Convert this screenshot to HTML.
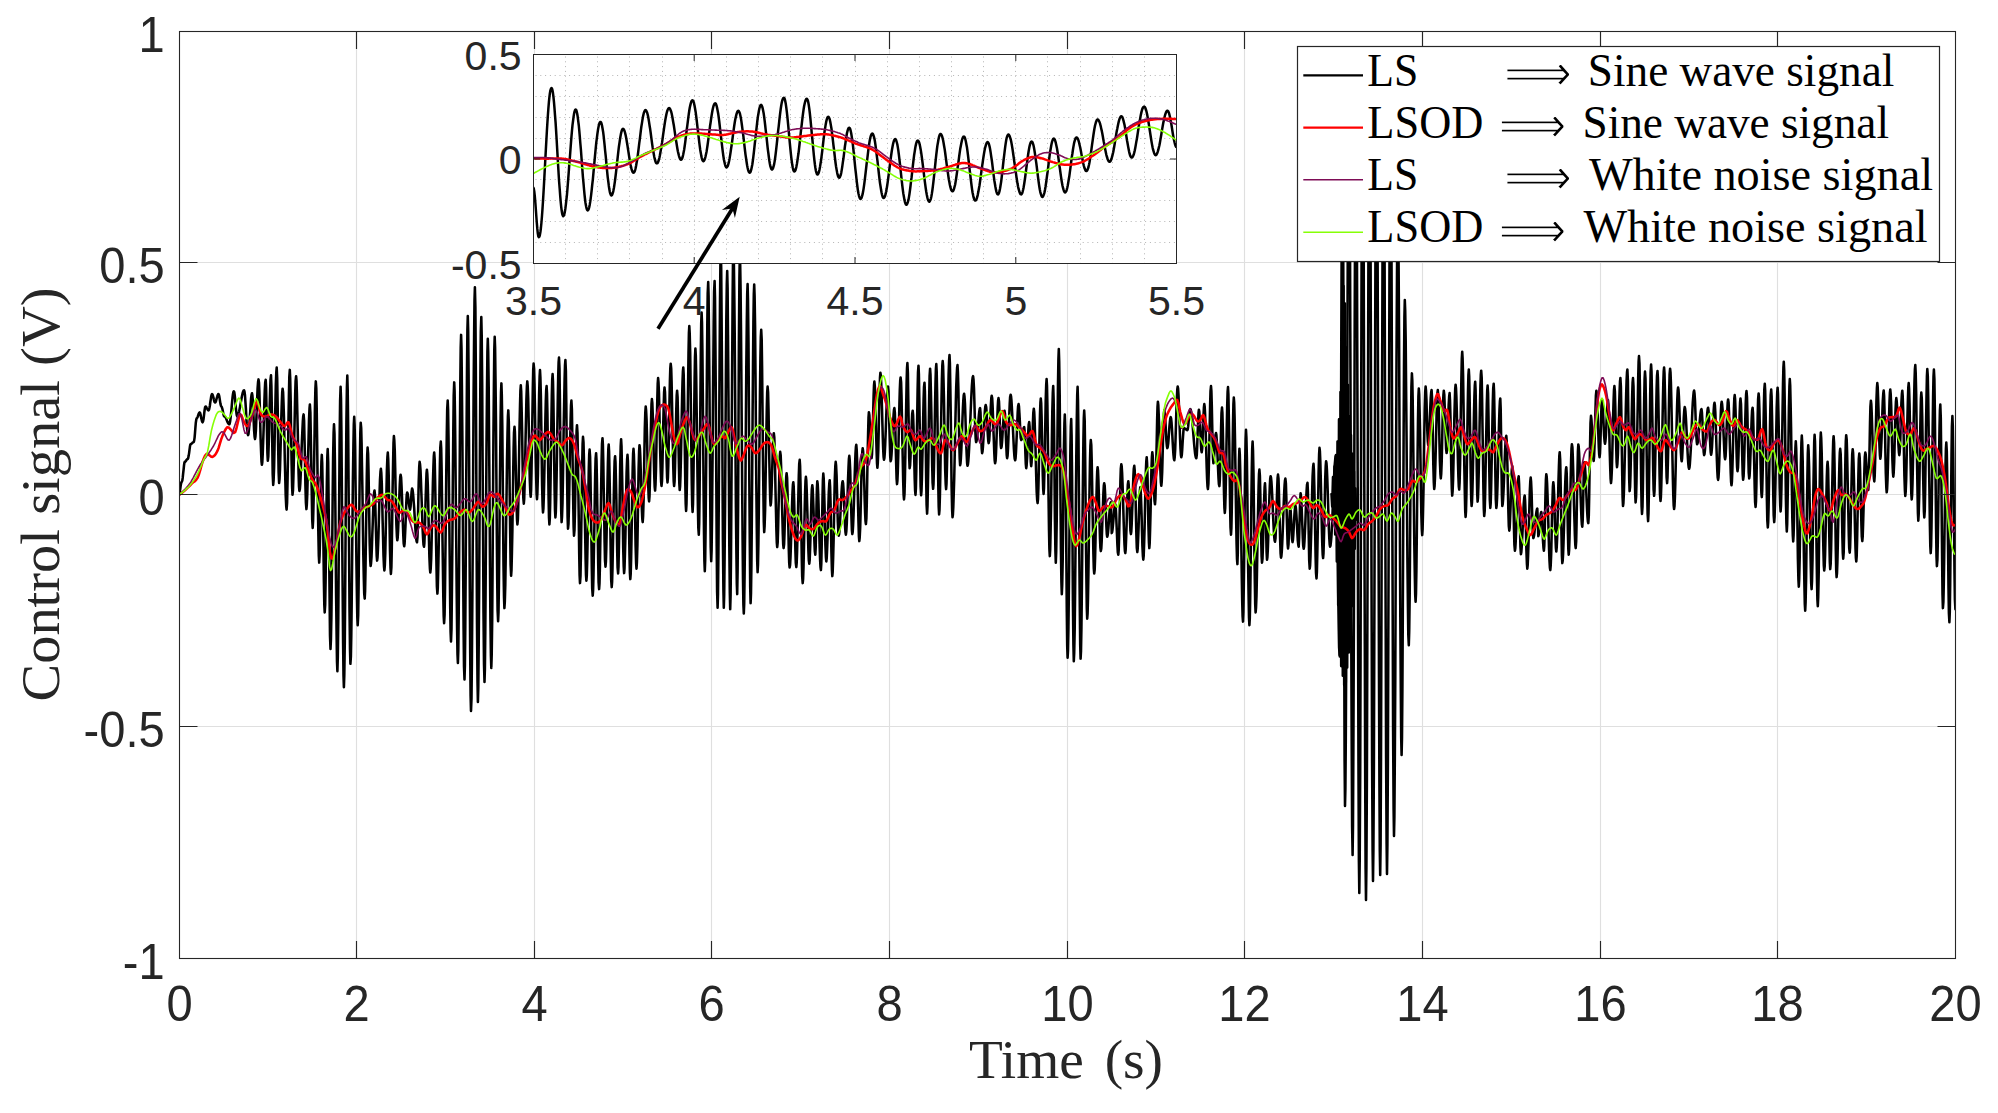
<!DOCTYPE html>
<html><head><meta charset="utf-8"><title>Control signal</title>
<style>html,body{margin:0;padding:0;background:#fff;overflow:hidden}svg{display:block}</style>
</head><body>
<svg width="1998" height="1113" viewBox="0 0 1998 1113">
<rect width="1998" height="1113" fill="#fff"/>
<path d="M356.5,31.5 V958.5 M534.5,31.5 V958.5 M711.5,31.5 V958.5 M889.5,31.5 V958.5 M1067.5,31.5 V958.5 M1244.5,31.5 V958.5 M1422.5,31.5 V958.5 M1600.5,31.5 V958.5 M1777.5,31.5 V958.5 M179.5,262.5 H1955.5 M179.5,494.5 H1955.5 M179.5,726.5 H1955.5" stroke="#dfdfdf" stroke-width="1.15" fill="none"/>
<clipPath id="c"><rect x="179.5" y="31.5" width="1776" height="927"/></clipPath>
<g clip-path="url(#c)" fill="none" stroke-linejoin="round" stroke-linecap="round">
<path d="M178.9,494.0 L179.3,493.4 L179.7,491.7 L180.2,489.2 L180.6,486.4 L181.0,483.9 L181.4,482.2 L181.9,481.6 L182.3,480.6 L182.7,477.9 L183.1,473.9 L183.6,469.5 L184.0,465.5 L184.4,462.8 L184.8,461.8 L185.2,461.7 L185.7,461.3 L186.1,460.7 L186.5,460.0 L186.9,459.4 L187.4,459.0 L187.8,458.9 L188.2,458.1 L188.6,456.1 L189.1,453.1 L189.5,449.8 L189.9,446.8 L190.3,444.8 L190.8,444.0 L191.2,443.9 L191.6,443.7 L192.0,443.3 L192.4,442.8 L192.9,442.4 L193.3,442.2 L193.7,442.1 L194.1,440.9 L194.6,437.6 L195.0,432.8 L195.4,427.6 L195.8,422.8 L196.3,419.5 L196.7,418.3 L197.1,418.0 L197.5,417.2 L198.0,416.0 L198.4,414.7 L198.8,413.5 L199.2,412.7 L199.6,412.4 L200.1,412.9 L200.5,414.3 L200.9,416.3 L201.3,418.5 L201.8,420.4 L202.2,421.8 L202.6,422.3 L203.0,421.5 L203.5,419.3 L203.9,416.1 L204.3,412.6 L204.7,409.5 L205.1,407.3 L205.6,406.5 L206.0,406.7 L206.4,407.2 L206.8,408.0 L207.3,408.9 L207.7,409.7 L208.1,410.2 L208.5,410.4 L209.0,409.8 L209.4,408.0 L209.9,405.4 L210.3,402.2 L210.8,399.1 L211.2,396.4 L211.7,394.7 L212.1,394.0 L212.5,394.5 L212.9,395.6 L213.4,397.3 L213.8,399.2 L214.2,400.9 L214.6,402.1 L215.1,402.5 L215.5,402.2 L215.9,401.3 L216.3,399.9 L216.7,398.3 L217.2,396.7 L217.6,395.3 L218.0,394.4 L218.4,394.0 L218.8,394.6 L219.3,396.4 L219.7,398.9 L220.1,401.6 L220.5,404.1 L221.0,405.9 L221.4,406.5 L221.8,407.0 L222.2,408.3 L222.7,410.3 L223.1,412.5 L223.5,414.5 L223.9,415.9 L224.3,416.4 L224.8,416.5 L225.2,416.9 L225.6,417.5 L226.0,418.3 L226.4,419.3 L226.8,420.3 L227.2,421.3 L227.6,422.3 L228.1,423.1 L228.5,423.7 L228.9,424.1 L229.3,424.3 L229.7,423.6 L230.1,421.6 L230.5,418.6 L230.9,414.6 L231.4,410.1 L231.8,405.4 L232.2,400.9 L232.6,397.0 L233.0,393.9 L233.4,391.9 L233.8,391.3 L234.3,392.2 L234.7,394.9 L235.1,399.0 L235.5,403.8 L235.9,408.6 L236.4,412.7 L236.8,415.4 L237.2,416.4 L237.6,416.1 L238.0,415.5 L238.4,414.4 L238.8,413.0 L239.2,411.2 L239.6,409.1 L240.0,406.9 L240.4,404.5 L240.9,402.1 L241.3,399.8 L241.7,397.5 L242.1,395.5 L242.5,393.7 L242.9,392.2 L243.3,391.2 L243.7,390.5 L244.1,390.3 L244.5,391.6 L245.0,395.5 L245.4,401.5 L245.9,408.8 L246.3,416.6 L246.7,423.9 L247.2,429.9 L247.6,433.8 L248.1,435.1 L248.5,433.9 L248.9,430.2 L249.4,424.7 L249.8,417.8 L250.3,410.6 L250.7,403.7 L251.1,398.1 L251.6,394.5 L252.0,393.2 L252.4,395.5 L252.9,401.9 L253.3,411.1 L253.7,421.3 L254.1,430.5 L254.6,436.8 L255.0,439.1 L255.4,436.8 L255.9,430.4 L256.3,420.7 L256.8,409.2 L257.2,397.8 L257.6,388.1 L258.1,381.7 L258.5,379.4 L259.0,382.7 L259.4,391.9 L259.8,405.8 L260.2,422.1 L260.6,438.4 L261.1,452.3 L261.5,461.5 L261.9,464.8 L262.3,462.2 L262.7,454.8 L263.1,443.5 L263.6,429.7 L264.0,414.9 L264.4,401.0 L264.8,389.7 L265.2,382.4 L265.7,379.8 L266.1,387.5 L266.5,407.8 L267.0,432.8 L267.4,453.1 L267.8,460.8 L268.3,456.6 L268.7,444.7 L269.2,427.6 L269.6,408.5 L270.1,391.4 L270.5,379.5 L271.0,375.3 L271.4,385.7 L271.9,413.2 L272.3,447.0 L272.7,474.5 L273.2,484.9 L273.6,480.5 L274.1,467.7 L274.5,448.7 L274.9,426.2 L275.4,403.8 L275.8,384.7 L276.3,372.0 L276.7,367.5 L277.2,378.6 L277.7,407.4 L278.1,443.1 L278.6,471.9 L279.1,483.0 L279.5,479.4 L280.0,469.2 L280.4,453.9 L280.9,435.8 L281.3,417.8 L281.8,402.5 L282.2,392.3 L282.6,388.7 L283.1,392.3 L283.5,402.8 L284.0,418.9 L284.4,438.7 L284.8,459.7 L285.3,479.4 L285.7,495.5 L286.2,506.0 L286.6,509.6 L287.1,502.7 L287.5,483.3 L288.0,455.3 L288.4,424.2 L288.9,396.2 L289.3,376.8 L289.8,369.9 L290.2,378.3 L290.7,401.1 L291.1,432.4 L291.6,463.6 L292.1,486.5 L292.5,494.8 L293.0,490.3 L293.4,477.5 L293.9,458.2 L294.3,435.5 L294.8,412.8 L295.2,393.6 L295.6,380.8 L296.1,376.2 L296.5,380.6 L296.9,393.0 L297.3,411.6 L297.8,433.6 L298.2,455.5 L298.6,474.1 L299.0,486.5 L299.4,490.9 L299.9,489.0 L300.3,483.6 L300.7,475.1 L301.1,464.4 L301.5,452.6 L301.9,440.8 L302.4,430.2 L302.8,421.7 L303.2,416.3 L303.6,414.4 L304.1,420.7 L304.5,438.1 L305.0,461.7 L305.4,485.4 L305.9,502.7 L306.4,509.1 L306.8,505.1 L307.3,493.7 L307.7,476.8 L308.1,456.8 L308.6,436.8 L309.0,419.8 L309.5,408.5 L309.9,404.5 L310.4,412.8 L310.8,435.4 L311.3,466.3 L311.8,497.1 L312.2,519.7 L312.7,528.0 L313.1,520.8 L313.6,500.4 L314.0,471.0 L314.5,438.4 L314.9,409.0 L315.4,388.6 L315.8,381.4 L316.3,388.3 L316.7,407.9 L317.1,437.3 L317.5,472.0 L317.9,506.7 L318.4,536.1 L318.8,555.7 L319.2,562.6 L319.6,555.4 L320.1,535.7 L320.5,508.8 L320.9,481.8 L321.4,462.1 L321.8,454.9 L322.2,462.7 L322.6,484.6 L323.0,516.1 L323.5,551.2 L323.9,582.8 L324.3,604.6 L324.7,612.4 L325.2,604.3 L325.6,581.6 L326.0,548.9 L326.4,512.5 L326.9,479.7 L327.3,457.1 L327.7,449.0 L328.2,462.4 L328.6,499.0 L329.1,549.0 L329.6,599.0 L330.0,635.6 L330.5,649.0 L330.9,640.4 L331.4,616.1 L331.8,579.6 L332.3,536.6 L332.7,493.6 L333.1,457.2 L333.6,432.8 L334.0,424.3 L334.5,433.7 L334.9,460.4 L335.3,500.5 L335.7,547.8 L336.1,595.1 L336.6,635.1 L337.0,661.9 L337.4,671.3 L337.8,657.2 L338.3,617.7 L338.7,560.7 L339.2,497.3 L339.6,440.3 L340.1,400.8 L340.6,386.7 L341.0,398.2 L341.4,430.7 L341.8,479.4 L342.2,536.9 L342.7,594.4 L343.1,643.1 L343.5,675.7 L343.9,687.1 L344.3,675.3 L344.8,641.5 L345.2,590.9 L345.6,531.3 L346.0,471.7 L346.4,421.1 L346.9,387.3 L347.3,375.5 L347.7,389.7 L348.2,429.7 L348.6,487.5 L349.1,551.7 L349.5,609.5 L350.0,649.5 L350.4,663.8 L350.9,656.3 L351.3,634.9 L351.7,602.0 L352.1,561.7 L352.5,518.8 L352.9,478.5 L353.4,445.7 L353.8,424.2 L354.2,416.8 L354.6,424.7 L355.1,447.3 L355.5,481.1 L356.0,521.0 L356.4,560.9 L356.9,594.7 L357.3,617.3 L357.7,625.3 L358.2,615.2 L358.6,587.1 L359.0,546.5 L359.4,501.4 L359.9,460.8 L360.3,432.7 L360.7,422.7 L361.2,428.0 L361.6,443.3 L362.0,466.7 L362.5,495.4 L362.9,525.9 L363.3,554.6 L363.8,578.0 L364.2,593.3 L364.7,598.6 L365.1,591.1 L365.5,570.2 L365.9,539.9 L366.4,506.3 L366.8,476.0 L367.2,455.1 L367.6,447.6 L368.1,453.5 L368.5,469.9 L368.9,493.6 L369.3,519.9 L369.7,543.7 L370.2,560.1 L370.6,566.0 L371.0,563.7 L371.5,557.1 L371.9,547.1 L372.3,534.8 L372.8,521.7 L373.2,509.3 L373.7,499.3 L374.1,492.8 L374.5,490.5 L375.0,495.2 L375.4,508.0 L375.8,525.6 L376.3,543.1 L376.7,555.9 L377.1,560.6 L377.5,557.9 L377.9,549.9 L378.4,537.7 L378.8,522.7 L379.2,506.7 L379.6,491.7 L380.0,479.5 L380.5,471.5 L380.9,468.7 L381.3,472.6 L381.8,483.6 L382.2,500.2 L382.6,519.6 L383.1,539.1 L383.5,555.6 L384.0,566.6 L384.4,570.5 L384.8,566.0 L385.3,553.2 L385.7,534.1 L386.1,511.5 L386.5,488.9 L386.9,469.8 L387.4,457.0 L387.8,452.5 L388.2,458.5 L388.7,475.4 L389.1,499.7 L389.6,526.7 L390.0,551.0 L390.5,567.9 L390.9,573.9 L391.4,567.1 L391.8,547.9 L392.2,520.3 L392.6,489.7 L393.1,462.1 L393.5,442.9 L393.9,436.1 L394.3,440.1 L394.8,451.4 L395.2,468.3 L395.6,488.2 L396.0,508.1 L396.4,525.0 L396.9,536.3 L397.3,540.3 L397.7,537.8 L398.1,530.7 L398.5,520.0 L399.0,507.5 L399.4,494.9 L399.8,484.3 L400.2,477.2 L400.6,474.7 L401.1,477.4 L401.5,485.1 L402.0,496.7 L402.4,510.4 L402.9,524.1 L403.3,535.7 L403.7,543.5 L404.2,546.2 L404.6,543.5 L405.0,536.1 L405.5,525.3 L405.9,513.3 L406.3,502.6 L406.7,495.1 L407.2,492.5 L407.6,493.3 L408.0,495.7 L408.4,499.1 L408.8,503.0 L409.3,506.4 L409.7,508.8 L410.1,509.6 L410.6,506.5 L411.1,499.1 L411.6,491.6 L412.1,488.5 L412.5,489.4 L412.9,492.1 L413.3,496.4 L413.7,501.9 L414.2,508.4 L414.6,515.4 L415.0,522.3 L415.4,528.8 L415.8,534.4 L416.2,538.7 L416.6,541.3 L417.0,542.3 L417.5,536.9 L417.9,522.1 L418.3,502.0 L418.7,481.9 L419.2,467.2 L419.6,461.8 L420.0,463.9 L420.5,469.9 L420.9,479.3 L421.3,491.2 L421.8,504.3 L422.2,517.4 L422.6,529.3 L423.1,538.7 L423.5,544.7 L424.0,546.8 L424.4,543.0 L424.8,532.3 L425.2,516.8 L425.6,499.7 L426.1,484.2 L426.5,473.5 L426.9,469.7 L427.3,473.6 L427.8,484.8 L428.2,501.4 L428.6,521.1 L429.0,540.8 L429.4,557.4 L429.9,568.6 L430.3,572.5 L430.7,568.9 L431.2,558.5 L431.6,542.5 L432.0,522.9 L432.5,502.1 L432.9,482.5 L433.4,466.6 L433.8,456.1 L434.2,452.5 L434.7,459.5 L435.1,479.1 L435.6,507.4 L436.0,538.8 L436.5,567.1 L436.9,586.6 L437.4,593.6 L437.8,587.8 L438.2,571.4 L438.7,546.7 L439.1,517.5 L439.5,488.4 L439.9,463.7 L440.3,447.3 L440.8,441.5 L441.2,448.4 L441.6,468.1 L442.0,497.6 L442.4,532.4 L442.9,567.2 L443.3,596.7 L443.7,616.4 L444.1,623.3 L444.6,614.8 L445.0,590.7 L445.4,554.5 L445.9,511.9 L446.3,469.3 L446.8,433.2 L447.2,409.0 L447.7,400.6 L448.1,409.7 L448.5,435.8 L448.9,474.9 L449.3,521.0 L449.8,567.1 L450.2,606.2 L450.6,632.3 L451.0,641.5 L451.5,628.6 L451.9,592.7 L452.4,540.7 L452.8,483.1 L453.3,431.1 L453.7,395.2 L454.2,382.4 L454.6,390.8 L455.0,415.2 L455.4,452.5 L455.8,498.3 L456.3,547.0 L456.7,592.8 L457.1,630.1 L457.5,654.4 L457.9,662.9 L458.3,650.4 L458.7,614.9 L459.1,561.7 L459.5,498.9 L459.9,436.2 L460.3,383.0 L460.7,347.4 L461.1,334.9 L461.5,348.1 L461.9,385.4 L462.4,441.3 L462.8,507.2 L463.2,573.2 L463.6,629.1 L464.0,666.4 L464.5,679.5 L464.9,665.7 L465.3,626.3 L465.7,567.3 L466.1,497.7 L466.6,428.2 L467.0,369.2 L467.4,329.8 L467.8,316.0 L468.2,331.0 L468.6,373.8 L469.0,437.9 L469.4,513.5 L469.8,589.1 L470.2,653.2 L470.6,696.0 L471.0,711.0 L471.5,698.3 L471.9,661.5 L472.3,605.1 L472.8,536.0 L473.2,462.4 L473.6,393.2 L474.1,336.9 L474.5,300.1 L474.9,287.3 L475.4,307.8 L475.8,365.4 L476.2,448.5 L476.6,540.8 L477.0,623.9 L477.5,681.5 L477.9,702.0 L478.3,687.3 L478.7,645.6 L479.2,583.1 L479.6,509.5 L480.0,435.8 L480.4,373.3 L480.8,331.6 L481.3,317.0 L481.7,335.0 L482.2,385.7 L482.6,458.9 L483.1,540.1 L483.5,613.3 L484.0,663.9 L484.5,682.0 L484.9,668.9 L485.3,631.7 L485.7,576.0 L486.1,510.3 L486.5,444.7 L487.0,389.0 L487.4,351.8 L487.8,338.7 L488.2,351.2 L488.7,386.9 L489.1,440.3 L489.6,503.3 L490.0,566.3 L490.4,619.7 L490.9,655.3 L491.3,667.9 L491.7,655.3 L492.2,619.4 L492.6,565.7 L493.0,502.3 L493.4,438.9 L493.9,385.2 L494.3,349.3 L494.7,336.7 L495.1,347.6 L495.5,378.4 L496.0,424.6 L496.4,479.0 L496.8,533.5 L497.2,579.6 L497.6,610.5 L498.1,621.3 L498.5,612.2 L498.9,586.5 L499.3,547.9 L499.7,502.3 L500.2,456.8 L500.6,418.2 L501.0,392.4 L501.4,383.4 L501.8,394.5 L502.3,425.7 L502.7,470.7 L503.1,520.7 L503.5,565.8 L504.0,596.9 L504.4,608.1 L504.8,602.1 L505.3,584.9 L505.7,558.7 L506.1,526.4 L506.6,492.1 L507.0,459.8 L507.5,433.6 L507.9,416.4 L508.3,410.4 L508.8,421.5 L509.3,451.8 L509.7,493.1 L510.2,534.5 L510.6,564.8 L511.1,575.8 L511.5,570.2 L511.9,554.0 L512.4,529.9 L512.8,501.3 L513.2,472.8 L513.6,448.7 L514.0,432.5 L514.5,426.8 L514.9,431.7 L515.3,445.2 L515.7,464.8 L516.2,486.5 L516.6,506.1 L517.0,519.6 L517.4,524.5 L517.9,519.2 L518.3,504.1 L518.7,481.5 L519.1,454.9 L519.5,428.3 L520.0,405.7 L520.4,390.6 L520.8,385.3 L521.2,391.2 L521.6,407.6 L522.1,431.4 L522.5,457.7 L522.9,481.4 L523.3,497.9 L523.8,503.7 L524.2,499.1 L524.6,485.8 L525.1,466.0 L525.5,442.5 L526.0,419.1 L526.4,399.3 L526.9,386.0 L527.3,381.4 L527.7,385.8 L528.2,398.3 L528.6,417.0 L529.0,439.1 L529.4,461.2 L529.8,479.9 L530.3,492.4 L530.7,496.8 L531.1,490.2 L531.5,471.7 L531.9,445.0 L532.4,415.4 L532.8,388.7 L533.2,370.2 L533.6,363.6 L534.1,368.8 L534.5,383.5 L534.9,405.4 L535.3,431.4 L535.7,457.3 L536.2,479.3 L536.6,494.0 L537.0,499.2 L537.4,492.8 L537.9,474.9 L538.3,449.0 L538.7,420.3 L539.1,394.4 L539.6,376.5 L540.0,370.1 L540.4,377.2 L540.9,396.9 L541.3,425.4 L541.7,457.1 L542.1,485.6 L542.6,505.4 L543.0,512.4 L543.4,508.6 L543.8,497.7 L544.2,480.9 L544.6,460.3 L545.0,438.3 L545.4,417.7 L545.8,400.9 L546.2,389.9 L546.6,386.1 L547.0,393.0 L547.4,412.2 L547.8,439.9 L548.2,470.7 L548.6,498.4 L549.0,517.6 L549.4,524.5 L549.8,518.7 L550.2,502.4 L550.6,478.1 L551.0,449.3 L551.4,420.5 L551.8,396.1 L552.2,379.8 L552.6,374.1 L553.0,381.2 L553.4,401.1 L553.8,429.8 L554.2,461.7 L554.6,490.5 L555.0,510.4 L555.4,517.4 L555.8,512.6 L556.2,498.7 L556.6,477.5 L557.0,451.4 L557.4,423.6 L557.8,397.5 L558.2,376.2 L558.6,362.3 L559.0,357.5 L559.5,368.5 L559.9,398.6 L560.3,439.8 L560.8,480.9 L561.2,511.0 L561.6,522.1 L562.0,517.2 L562.5,503.1 L562.9,481.6 L563.3,455.1 L563.7,427.0 L564.2,400.6 L564.6,379.0 L565.0,365.0 L565.4,360.1 L565.9,371.4 L566.3,402.2 L566.7,444.4 L567.2,486.5 L567.6,517.4 L568.0,528.7 L568.5,523.8 L568.9,509.9 L569.3,489.1 L569.7,464.6 L570.2,440.1 L570.6,419.3 L571.0,405.4 L571.4,400.5 L571.9,409.6 L572.3,434.3 L572.7,468.1 L573.2,501.9 L573.6,526.6 L574.0,535.7 L574.5,530.2 L574.9,514.9 L575.3,492.7 L575.8,468.1 L576.2,446.0 L576.6,430.6 L577.0,425.2 L577.5,433.0 L577.9,454.9 L578.3,486.6 L578.8,521.7 L579.2,553.4 L579.6,575.3 L580.0,583.1 L580.5,575.9 L580.9,555.6 L581.3,526.2 L581.8,493.7 L582.2,464.3 L582.6,444.0 L583.0,436.8 L583.5,442.3 L583.9,457.9 L584.3,481.2 L584.7,508.7 L585.2,536.3 L585.6,559.6 L586.0,575.2 L586.4,580.7 L586.8,575.7 L587.2,561.5 L587.6,540.2 L588.0,515.1 L588.4,490.1 L588.8,468.8 L589.2,454.6 L589.6,449.6 L590.1,456.8 L590.5,477.1 L590.9,506.4 L591.4,538.9 L591.8,568.2 L592.2,588.5 L592.7,595.7 L593.1,590.3 L593.5,574.9 L593.9,551.7 L594.4,524.5 L594.8,497.2 L595.2,474.1 L595.6,458.6 L596.1,453.2 L596.5,459.9 L596.9,478.8 L597.3,506.0 L597.8,536.3 L598.2,563.5 L598.6,582.4 L599.1,589.1 L599.5,583.4 L599.9,567.0 L600.3,542.5 L600.8,513.6 L601.2,484.8 L601.6,460.3 L602.0,443.9 L602.5,438.2 L602.9,444.5 L603.3,462.4 L603.7,488.1 L604.2,516.7 L604.6,542.5 L605.0,560.3 L605.5,566.7 L605.9,562.0 L606.3,548.8 L606.7,529.0 L607.1,505.6 L607.5,482.3 L607.9,462.5 L608.3,449.2 L608.7,444.6 L609.1,451.6 L609.5,471.4 L610.0,500.0 L610.4,531.7 L610.8,560.3 L611.2,580.1 L611.7,587.1 L612.1,582.1 L612.5,567.9 L612.9,546.7 L613.4,521.7 L613.8,496.6 L614.2,475.4 L614.6,461.2 L615.1,456.2 L615.5,462.0 L615.9,478.3 L616.4,501.8 L616.8,527.9 L617.2,551.4 L617.6,567.7 L618.1,573.5 L618.5,566.9 L618.9,548.2 L619.4,521.3 L619.8,491.4 L620.2,464.5 L620.7,445.8 L621.1,439.2 L621.5,445.8 L621.9,464.4 L622.4,491.2 L622.8,521.0 L623.2,547.9 L623.7,566.5 L624.1,573.1 L624.5,568.6 L624.9,555.8 L625.4,536.6 L625.8,513.9 L626.2,491.3 L626.6,472.1 L627.1,459.3 L627.5,454.8 L627.9,460.9 L628.3,478.2 L628.7,503.1 L629.1,530.8 L629.5,555.7 L629.9,573.0 L630.3,579.1 L630.7,574.1 L631.1,560.0 L631.5,538.9 L631.9,513.9 L632.3,489.0 L632.7,467.9 L633.1,453.7 L633.5,448.8 L633.9,454.7 L634.4,471.4 L634.8,495.4 L635.2,522.1 L635.6,546.1 L636.1,562.8 L636.5,568.7 L636.9,562.6 L637.4,545.4 L637.8,520.7 L638.2,493.2 L638.6,468.4 L639.1,451.3 L639.5,445.2 L639.9,448.1 L640.3,456.4 L640.7,468.9 L641.1,483.6 L641.5,498.3 L641.9,510.8 L642.3,519.1 L642.7,522.1 L643.1,516.3 L643.6,500.3 L644.0,477.1 L644.4,451.4 L644.8,428.3 L645.3,412.3 L645.7,406.5 L646.1,410.2 L646.6,420.4 L647.0,435.8 L647.4,454.0 L647.8,472.1 L648.3,487.5 L648.7,497.8 L649.1,501.4 L649.5,496.4 L649.9,482.2 L650.3,461.7 L650.7,438.9 L651.1,418.4 L651.5,404.2 L651.9,399.1 L652.3,402.6 L652.7,412.5 L653.1,427.4 L653.5,444.9 L653.9,462.4 L654.3,477.2 L654.7,487.1 L655.1,490.6 L655.5,485.0 L656.0,469.4 L656.4,446.9 L656.8,421.9 L657.3,399.3 L657.7,383.7 L658.1,378.1 L658.5,382.2 L659.0,393.9 L659.4,411.4 L659.8,432.1 L660.2,452.7 L660.7,470.2 L661.1,481.9 L661.5,486.0 L662.0,481.1 L662.4,467.5 L662.8,447.7 L663.2,425.8 L663.7,406.1 L664.1,392.4 L664.5,387.5 L665.0,392.2 L665.4,405.4 L665.8,424.4 L666.2,445.5 L666.7,464.5 L667.1,477.7 L667.5,482.4 L667.9,477.9 L668.3,465.0 L668.7,445.8 L669.1,423.1 L669.5,400.3 L669.9,381.1 L670.3,368.2 L670.7,363.7 L671.2,368.4 L671.6,381.6 L672.0,401.5 L672.4,424.9 L672.9,448.3 L673.3,468.1 L673.7,481.4 L674.1,486.0 L674.6,481.3 L675.0,468.1 L675.4,449.0 L675.9,427.8 L676.3,408.7 L676.7,395.4 L677.1,390.7 L677.6,397.4 L678.0,415.6 L678.4,440.4 L678.9,465.2 L679.3,483.4 L679.7,490.0 L680.1,486.3 L680.5,475.7 L680.9,459.4 L681.3,439.4 L681.7,418.1 L682.1,398.1 L682.5,381.8 L682.9,371.2 L683.3,367.5 L683.7,374.6 L684.1,394.5 L684.5,423.3 L684.9,455.2 L685.3,484.0 L685.7,503.9 L686.1,511.0 L686.5,504.0 L686.9,484.0 L687.3,453.9 L687.7,418.6 L688.1,383.2 L688.5,353.2 L688.9,333.1 L689.3,326.1 L689.7,333.1 L690.2,353.3 L690.6,383.5 L691.0,419.1 L691.4,454.6 L691.8,484.8 L692.2,505.0 L692.6,512.0 L693.0,503.9 L693.4,481.3 L693.8,448.5 L694.2,412.1 L694.6,379.3 L695.0,356.6 L695.4,348.5 L695.8,355.6 L696.2,375.8 L696.6,406.0 L697.1,441.6 L697.5,477.2 L697.9,507.4 L698.3,527.6 L698.8,534.7 L699.2,523.7 L699.6,492.8 L700.0,448.3 L700.4,398.8 L700.8,354.3 L701.2,323.5 L701.6,312.5 L702.0,322.3 L702.4,350.3 L702.8,392.3 L703.2,441.8 L703.6,491.3 L704.0,533.2 L704.4,561.3 L704.8,571.1 L705.2,560.1 L705.6,528.8 L706.0,481.9 L706.5,426.6 L706.9,371.2 L707.3,324.4 L707.7,293.0 L708.2,282.0 L708.6,295.8 L709.0,334.6 L709.5,390.5 L709.9,452.6 L710.3,508.6 L710.7,547.3 L711.2,561.1 L711.6,550.4 L712.0,520.1 L712.4,474.6 L712.9,421.1 L713.3,367.5 L713.7,322.0 L714.1,291.7 L714.6,281.0 L715.0,297.2 L715.4,342.5 L715.9,408.0 L716.3,480.7 L716.7,546.2 L717.1,591.6 L717.6,607.7 L718.0,594.1 L718.4,555.3 L718.8,497.3 L719.2,428.9 L719.6,360.4 L720.0,302.4 L720.4,263.6 L720.8,250.0 L721.2,267.7 L721.6,317.3 L722.1,389.1 L722.5,468.7 L722.9,540.4 L723.4,590.0 L723.8,607.7 L724.2,594.9 L724.6,558.4 L725.1,503.8 L725.5,439.4 L725.9,374.9 L726.3,320.3 L726.8,283.8 L727.2,271.0 L727.6,287.8 L728.0,334.7 L728.5,402.5 L728.9,477.7 L729.3,545.5 L729.8,592.4 L730.2,609.1 L730.6,595.3 L731.0,556.0 L731.4,497.0 L731.8,427.6 L732.2,358.1 L732.6,299.2 L733.0,259.8 L733.4,246.0 L733.8,256.5 L734.2,286.7 L734.7,333.0 L735.1,389.8 L735.5,450.3 L735.9,507.1 L736.4,553.4 L736.8,583.6 L737.2,594.1 L737.6,571.5 L738.1,509.6 L738.5,425.1 L738.9,340.5 L739.4,278.6 L739.8,256.0 L740.2,264.7 L740.6,290.1 L741.0,329.7 L741.4,379.5 L741.8,434.8 L742.2,490.0 L742.6,539.8 L743.0,579.4 L743.4,604.8 L743.8,613.5 L744.2,603.6 L744.6,575.0 L745.1,531.2 L745.5,477.4 L745.9,420.2 L746.3,366.4 L746.8,322.6 L747.2,294.0 L747.6,284.0 L748.0,299.8 L748.5,344.1 L748.9,408.1 L749.3,479.1 L749.8,543.1 L750.2,587.3 L750.6,603.1 L751.0,593.5 L751.4,565.9 L751.8,523.5 L752.2,471.5 L752.6,416.2 L753.0,364.3 L753.4,321.9 L753.8,294.2 L754.2,284.6 L754.6,295.6 L755.1,326.7 L755.5,373.4 L755.9,428.4 L756.3,483.4 L756.8,530.0 L757.2,561.2 L757.6,572.1 L758.0,564.8 L758.4,543.7 L758.8,511.5 L759.2,471.9 L759.6,429.8 L760.0,390.3 L760.4,358.0 L760.8,337.0 L761.2,329.7 L761.7,339.7 L762.1,367.8 L762.5,408.3 L762.9,453.4 L763.4,494.0 L763.8,522.0 L764.2,532.1 L764.6,526.5 L765.1,510.7 L765.5,487.1 L765.9,459.3 L766.4,431.4 L766.8,407.8 L767.2,392.1 L767.6,386.5 L768.1,392.4 L768.5,408.9 L768.9,432.7 L769.3,459.2 L769.8,483.0 L770.2,499.5 L770.6,505.4 L771.0,502.7 L771.4,494.9 L771.8,483.1 L772.2,469.3 L772.6,455.5 L773.0,443.8 L773.4,435.9 L773.8,433.2 L774.3,437.5 L774.7,449.9 L775.1,468.3 L775.5,490.1 L776.0,511.9 L776.4,530.4 L776.8,542.7 L777.2,547.1 L777.7,542.4 L778.1,529.1 L778.5,510.0 L779.0,488.8 L779.4,469.7 L779.8,456.5 L780.2,451.8 L780.7,455.5 L781.1,465.9 L781.5,481.5 L781.9,499.9 L782.4,518.4 L782.8,534.0 L783.2,544.4 L783.6,548.1 L784.1,544.4 L784.5,534.0 L784.9,519.0 L785.4,502.3 L785.8,487.3 L786.2,476.9 L786.6,473.2 L787.1,477.9 L787.5,491.0 L787.9,509.9 L788.4,530.8 L788.8,549.7 L789.2,562.8 L789.6,567.5 L790.1,564.9 L790.5,557.5 L790.9,546.2 L791.3,532.3 L791.7,517.5 L792.1,503.5 L792.5,492.2 L792.9,484.8 L793.3,482.2 L793.7,486.4 L794.1,498.2 L794.5,515.2 L795.0,534.1 L795.4,551.1 L795.8,562.9 L796.3,567.1 L796.7,563.0 L797.1,551.4 L797.5,534.0 L798.0,513.4 L798.4,492.9 L798.8,475.5 L799.2,463.9 L799.7,459.8 L800.1,465.9 L800.5,483.0 L800.9,507.7 L801.4,535.2 L801.8,559.9 L802.2,577.0 L802.7,583.1 L803.1,579.1 L803.5,567.5 L803.9,550.3 L804.3,530.0 L804.7,509.6 L805.1,492.4 L805.5,480.9 L805.9,476.8 L806.3,480.1 L806.7,489.5 L807.1,503.6 L807.6,520.3 L808.0,536.9 L808.4,551.0 L808.8,560.4 L809.3,563.7 L809.7,559.8 L810.1,548.9 L810.6,533.2 L811.0,515.7 L811.4,500.0 L811.8,489.1 L812.3,485.2 L812.7,488.7 L813.1,498.3 L813.6,512.2 L814.0,527.7 L814.4,541.6 L814.8,551.2 L815.3,554.7 L815.7,547.7 L816.1,529.3 L816.5,506.6 L816.9,488.2 L817.3,481.2 L817.7,483.9 L818.1,491.6 L818.5,503.4 L818.9,517.9 L819.3,533.4 L819.7,547.9 L820.1,559.7 L820.5,567.4 L820.9,570.1 L821.3,563.6 L821.7,546.0 L822.1,521.9 L822.5,497.7 L822.9,480.1 L823.3,473.6 L823.7,478.0 L824.1,490.2 L824.6,507.8 L825.0,527.3 L825.4,544.9 L825.9,557.1 L826.3,561.5 L826.7,558.4 L827.1,549.6 L827.6,536.4 L828.0,520.9 L828.4,505.3 L828.8,492.1 L829.3,483.3 L829.7,480.2 L830.1,486.6 L830.6,504.2 L831.0,528.2 L831.4,552.1 L831.9,569.7 L832.3,576.1 L832.7,571.8 L833.1,559.4 L833.6,540.8 L834.0,519.0 L834.4,497.1 L834.8,478.5 L835.3,466.2 L835.7,461.8 L836.1,465.5 L836.6,475.7 L837.0,490.5 L837.4,507.0 L837.8,521.8 L838.3,532.0 L838.7,535.7 L839.1,534.3 L839.5,530.5 L839.9,524.4 L840.3,516.9 L840.7,508.4 L841.1,500.0 L841.5,492.4 L841.9,486.4 L842.3,482.6 L842.7,481.2 L843.1,483.3 L843.5,489.0 L843.9,497.7 L844.3,507.9 L844.7,518.2 L845.1,526.8 L845.5,532.6 L845.9,534.7 L846.3,531.7 L846.8,523.1 L847.2,510.3 L847.6,495.2 L848.0,480.1 L848.5,467.3 L848.9,458.8 L849.3,455.8 L849.7,459.7 L850.2,470.5 L850.6,486.2 L851.0,503.6 L851.5,519.3 L851.9,530.2 L852.3,534.1 L852.7,531.9 L853.1,525.5 L853.5,515.7 L853.9,503.2 L854.3,489.4 L854.7,475.6 L855.1,463.2 L855.5,453.3 L855.9,447.0 L856.3,444.8 L856.7,449.6 L857.2,462.9 L857.6,482.2 L858.0,503.6 L858.5,522.9 L858.9,536.3 L859.3,541.1 L859.7,537.5 L860.2,527.5 L860.6,512.4 L861.0,494.6 L861.4,476.9 L861.9,461.8 L862.3,451.7 L862.7,448.2 L863.1,451.1 L863.5,459.3 L863.9,471.6 L864.3,486.1 L864.7,500.6 L865.1,512.9 L865.5,521.2 L865.9,524.1 L866.4,518.5 L866.8,503.0 L867.2,480.6 L867.6,455.7 L868.1,433.2 L868.5,417.7 L868.9,412.2 L869.4,415.2 L869.8,423.7 L870.3,435.2 L870.7,446.7 L871.2,455.1 L871.6,458.2 L872.0,454.4 L872.4,443.7 L872.8,428.4 L873.2,411.3 L873.6,395.9 L874.0,385.3 L874.4,381.5 L874.8,385.8 L875.3,397.7 L875.7,415.0 L876.1,434.2 L876.6,451.5 L877.0,463.5 L877.4,467.8 L877.8,463.1 L878.3,449.9 L878.7,430.8 L879.1,409.6 L879.6,390.6 L880.0,377.4 L880.4,372.7 L880.8,375.3 L881.2,382.9 L881.6,394.4 L882.0,408.7 L882.4,423.8 L882.8,438.0 L883.2,449.6 L883.6,457.1 L884.0,459.8 L884.4,458.0 L884.8,452.8 L885.2,444.7 L885.6,434.4 L886.0,423.1 L886.4,411.8 L886.8,401.6 L887.2,393.5 L887.6,388.3 L888.0,386.5 L888.5,391.5 L888.9,405.2 L889.3,423.8 L889.8,442.5 L890.2,456.2 L890.6,461.2 L891.1,459.6 L891.5,455.0 L891.9,447.9 L892.3,439.2 L892.7,430.0 L893.2,421.4 L893.6,414.3 L894.0,409.7 L894.4,408.1 L894.9,413.2 L895.3,427.1 L895.7,446.1 L896.2,465.1 L896.6,479.0 L897.0,484.1 L897.4,480.9 L897.8,471.6 L898.2,457.4 L898.6,440.0 L899.0,421.5 L899.4,404.1 L899.8,389.9 L900.2,380.7 L900.6,377.5 L901.1,382.1 L901.5,395.3 L901.9,415.1 L902.3,438.4 L902.8,461.8 L903.2,481.6 L903.6,494.8 L904.0,499.4 L904.5,494.2 L904.9,479.4 L905.3,457.3 L905.7,431.2 L906.2,405.1 L906.6,383.0 L907.0,368.3 L907.4,363.1 L907.9,373.1 L908.3,399.4 L908.8,431.9 L909.2,458.1 L909.6,468.2 L910.1,465.3 L910.5,457.4 L910.9,445.8 L911.4,433.0 L911.8,421.5 L912.2,413.6 L912.7,410.7 L913.1,414.9 L913.5,426.6 L913.9,443.4 L914.3,462.2 L914.7,479.1 L915.1,490.7 L915.5,494.9 L915.9,488.5 L916.3,470.6 L916.7,444.7 L917.2,415.9 L917.6,390.0 L918.0,372.1 L918.5,365.7 L918.9,374.4 L919.3,398.1 L919.8,430.5 L920.2,462.9 L920.6,486.6 L921.1,495.3 L921.5,491.0 L921.9,478.8 L922.3,460.5 L922.8,439.0 L923.2,417.4 L923.6,399.2 L924.0,387.0 L924.5,382.7 L924.9,391.5 L925.3,415.4 L925.8,448.2 L926.2,480.9 L926.6,504.9 L927.1,513.6 L927.5,506.5 L927.9,486.3 L928.4,457.3 L928.8,425.0 L929.2,396.0 L929.6,375.8 L930.1,368.7 L930.5,374.6 L930.9,391.3 L931.4,415.4 L931.8,442.1 L932.2,466.2 L932.6,482.9 L933.1,488.8 L933.5,484.1 L933.9,470.5 L934.3,450.3 L934.7,426.4 L935.1,402.6 L935.5,382.3 L935.9,368.8 L936.3,364.1 L936.7,371.5 L937.1,392.4 L937.5,422.5 L937.9,456.0 L938.3,486.1 L938.7,507.0 L939.1,514.4 L939.5,509.8 L939.9,496.5 L940.3,476.1 L940.7,451.1 L941.1,424.4 L941.5,399.4 L941.9,379.0 L942.3,365.7 L942.7,361.1 L943.1,365.9 L943.5,379.8 L944.0,400.6 L944.4,425.1 L944.8,449.6 L945.2,470.4 L945.7,484.2 L946.1,489.1 L946.5,484.0 L946.9,469.5 L947.4,447.7 L947.8,422.1 L948.2,396.4 L948.6,374.7 L949.1,360.2 L949.5,355.1 L949.9,363.1 L950.3,385.6 L950.8,418.1 L951.2,454.2 L951.6,486.8 L952.1,509.3 L952.5,517.3 L952.9,514.7 L953.3,507.1 L953.7,495.0 L954.2,479.3 L954.6,460.9 L955.0,441.2 L955.4,421.5 L955.8,403.1 L956.2,387.4 L956.7,375.3 L957.1,367.7 L957.5,365.1 L957.9,371.8 L958.4,390.1 L958.8,415.1 L959.2,440.1 L959.7,458.5 L960.1,465.2 L960.5,463.4 L960.9,458.3 L961.3,450.4 L961.7,440.5 L962.1,429.4 L962.5,418.4 L962.9,408.4 L963.3,400.5 L963.7,395.4 L964.1,393.7 L964.5,396.4 L965.0,404.2 L965.4,415.9 L965.8,429.7 L966.2,443.5 L966.7,455.2 L967.1,463.0 L967.5,465.8 L967.9,464.6 L968.3,461.3 L968.7,456.0 L969.1,448.9 L969.5,440.4 L969.9,430.9 L970.3,420.9 L970.7,410.9 L971.1,401.5 L971.5,393.0 L971.9,385.9 L972.3,380.5 L972.7,377.2 L973.1,376.1 L973.5,379.3 L974.0,388.5 L974.4,401.8 L974.8,416.5 L975.3,429.7 L975.7,438.9 L976.1,442.1 L976.5,441.3 L976.9,438.9 L977.3,435.1 L977.7,430.4 L978.1,425.1 L978.5,419.9 L978.9,415.1 L979.3,411.4 L979.7,408.9 L980.1,408.1 L980.5,412.4 L980.9,423.7 L981.3,437.6 L981.7,448.9 L982.1,453.2 L982.5,451.7 L982.9,447.5 L983.3,441.1 L983.7,433.3 L984.1,425.0 L984.5,417.1 L984.9,410.7 L985.3,406.6 L985.7,405.1 L986.2,407.0 L986.6,412.3 L987.0,419.9 L987.4,428.4 L987.9,436.0 L988.3,441.3 L988.7,443.1 L989.2,440.8 L989.6,434.2 L990.0,424.7 L990.4,414.1 L990.9,404.6 L991.3,398.0 L991.7,395.7 L992.2,398.3 L992.6,405.6 L993.0,416.5 L993.4,429.4 L993.9,442.3 L994.3,453.3 L994.7,460.6 L995.1,463.2 L995.6,460.7 L996.0,453.6 L996.4,443.1 L996.8,430.6 L997.3,418.2 L997.7,407.6 L998.1,400.6 L998.5,398.1 L999.0,401.5 L999.4,410.6 L999.8,423.1 L1000.3,435.6 L1000.7,444.8 L1001.1,448.1 L1001.6,446.7 L1002.0,442.7 L1002.4,436.6 L1002.8,429.4 L1003.3,422.3 L1003.7,416.2 L1004.1,412.1 L1004.5,410.7 L1005.0,413.9 L1005.4,422.6 L1005.8,434.4 L1006.3,446.3 L1006.7,455.0 L1007.1,458.2 L1007.6,455.7 L1008.0,448.9 L1008.4,438.6 L1008.8,426.4 L1009.3,414.3 L1009.7,404.0 L1010.1,397.1 L1010.6,394.7 L1011.0,396.0 L1011.4,399.9 L1011.8,406.0 L1012.2,413.8 L1012.6,422.8 L1013.1,432.1 L1013.5,441.0 L1013.9,448.9 L1014.3,455.0 L1014.7,458.8 L1015.2,460.2 L1015.6,458.0 L1016.0,452.0 L1016.4,442.9 L1016.9,432.1 L1017.3,421.4 L1017.7,412.3 L1018.1,406.2 L1018.6,404.1 L1019.0,406.5 L1019.4,413.1 L1019.9,422.1 L1020.3,431.1 L1020.7,437.7 L1021.2,440.1 L1021.6,439.5 L1022.0,437.7 L1022.4,435.1 L1022.9,432.2 L1023.3,429.6 L1023.7,427.8 L1024.2,427.1 L1024.6,431.0 L1025.0,441.3 L1025.4,454.0 L1025.8,464.2 L1026.2,468.2 L1026.6,465.9 L1027.0,459.5 L1027.5,450.3 L1027.9,440.0 L1028.3,430.8 L1028.7,424.4 L1029.2,422.1 L1029.6,426.3 L1030.0,437.3 L1030.4,450.9 L1030.8,462.0 L1031.2,466.2 L1031.6,462.3 L1032.0,451.8 L1032.5,437.4 L1032.9,423.1 L1033.3,412.6 L1033.8,408.7 L1034.2,411.6 L1034.6,419.8 L1035.0,432.3 L1035.5,447.7 L1035.9,464.1 L1036.3,479.5 L1036.7,492.1 L1037.2,500.3 L1037.6,503.1 L1038.0,499.1 L1038.4,487.8 L1038.8,470.8 L1039.2,450.8 L1039.6,430.8 L1040.0,413.8 L1040.4,402.5 L1040.8,398.5 L1041.2,403.2 L1041.6,416.5 L1042.0,435.6 L1042.4,456.8 L1042.8,475.9 L1043.2,489.2 L1043.6,493.9 L1044.0,488.2 L1044.4,472.3 L1044.9,449.3 L1045.3,423.7 L1045.7,400.7 L1046.2,384.8 L1046.6,379.1 L1047.0,385.8 L1047.4,405.0 L1047.8,433.7 L1048.2,467.6 L1048.6,501.5 L1049.0,530.2 L1049.4,549.3 L1049.8,556.1 L1050.2,549.6 L1050.6,531.2 L1051.1,503.6 L1051.5,471.1 L1051.9,438.6 L1052.3,411.0 L1052.8,392.6 L1053.2,386.1 L1053.6,397.9 L1054.1,430.2 L1054.5,474.4 L1054.9,518.5 L1055.4,550.9 L1055.8,562.7 L1056.2,552.1 L1056.7,522.5 L1057.1,479.6 L1057.5,432.1 L1057.9,389.3 L1058.4,359.6 L1058.8,349.0 L1059.2,361.2 L1059.7,395.2 L1060.1,444.3 L1060.5,498.9 L1060.9,548.0 L1061.4,582.0 L1061.8,594.1 L1062.2,585.2 L1062.7,560.3 L1063.1,524.3 L1063.5,484.3 L1063.9,448.3 L1064.4,423.4 L1064.8,414.5 L1065.2,426.6 L1065.6,460.3 L1066.0,509.1 L1066.4,563.2 L1066.8,612.0 L1067.2,645.7 L1067.6,657.8 L1068.0,650.6 L1068.4,629.9 L1068.8,598.1 L1069.2,559.2 L1069.6,517.7 L1070.0,478.8 L1070.4,447.0 L1070.8,426.3 L1071.2,419.1 L1071.6,435.3 L1072.1,479.6 L1072.5,540.2 L1072.9,600.7 L1073.4,645.0 L1073.8,661.2 L1074.2,652.9 L1074.7,629.1 L1075.1,592.6 L1075.5,547.8 L1075.9,500.1 L1076.3,455.3 L1076.8,418.8 L1077.2,395.0 L1077.6,386.7 L1078.0,400.2 L1078.5,437.9 L1078.9,492.4 L1079.3,552.9 L1079.8,607.4 L1080.2,645.1 L1080.6,658.6 L1081.0,651.1 L1081.4,629.6 L1081.8,596.6 L1082.2,556.1 L1082.6,513.0 L1083.0,472.5 L1083.4,439.5 L1083.8,418.0 L1084.2,410.5 L1084.7,420.8 L1085.1,449.7 L1085.5,491.5 L1085.9,537.8 L1086.4,579.5 L1086.8,608.4 L1087.2,618.7 L1087.6,613.4 L1088.0,597.9 L1088.4,574.1 L1088.8,545.0 L1089.2,513.9 L1089.6,484.8 L1090.0,461.0 L1090.4,445.5 L1090.8,440.1 L1091.3,445.2 L1091.7,459.7 L1092.1,481.3 L1092.5,506.8 L1093.0,532.3 L1093.4,554.0 L1093.8,568.4 L1094.2,573.5 L1094.7,569.5 L1095.1,557.9 L1095.5,540.7 L1095.9,520.3 L1096.4,500.0 L1096.8,482.7 L1097.2,471.2 L1097.6,467.2 L1098.0,470.4 L1098.4,479.5 L1098.8,493.1 L1099.2,509.1 L1099.6,525.2 L1100.0,538.8 L1100.4,547.9 L1100.8,551.1 L1101.3,548.5 L1101.7,541.1 L1102.1,530.1 L1102.5,517.1 L1103.0,504.1 L1103.4,493.1 L1103.8,485.8 L1104.2,483.2 L1104.7,485.8 L1105.1,493.3 L1105.5,504.0 L1106.0,515.9 L1106.4,526.6 L1106.8,534.0 L1107.2,536.7 L1107.6,535.6 L1108.0,532.6 L1108.4,528.1 L1108.8,522.4 L1109.2,516.4 L1109.6,510.8 L1110.1,506.2 L1110.5,503.2 L1110.9,502.2 L1111.3,517.6 L1111.7,533.1 L1112.1,532.2 L1112.5,529.7 L1112.9,525.8 L1113.3,521.1 L1113.7,516.1 L1114.1,511.4 L1114.5,507.6 L1114.9,505.1 L1115.3,504.2 L1115.7,506.7 L1116.1,513.7 L1116.5,523.8 L1117.0,535.1 L1117.4,545.2 L1117.8,552.2 L1118.3,554.7 L1118.7,550.2 L1119.1,537.6 L1119.5,519.5 L1120.0,499.4 L1120.4,481.2 L1120.8,468.6 L1121.3,464.2 L1121.7,466.3 L1122.1,472.7 L1122.5,482.5 L1122.9,494.9 L1123.3,508.6 L1123.7,522.4 L1124.1,534.8 L1124.5,544.6 L1124.9,550.9 L1125.3,553.1 L1125.7,549.5 L1126.1,539.5 L1126.6,525.1 L1127.0,509.1 L1127.4,494.7 L1127.8,484.7 L1128.3,481.2 L1128.7,484.7 L1129.1,494.4 L1129.6,507.6 L1130.0,520.8 L1130.4,530.5 L1130.9,534.1 L1131.3,531.5 L1131.7,524.1 L1132.1,513.0 L1132.6,499.9 L1133.0,486.8 L1133.4,475.8 L1133.8,468.4 L1134.3,465.8 L1134.7,470.0 L1135.1,482.0 L1135.6,499.3 L1136.0,518.5 L1136.4,535.8 L1136.8,547.8 L1137.3,552.1 L1137.7,548.9 L1138.1,539.9 L1138.6,526.9 L1139.0,512.4 L1139.4,499.4 L1139.9,490.4 L1140.3,487.2 L1140.7,490.8 L1141.1,500.8 L1141.6,515.4 L1142.0,531.5 L1142.4,546.0 L1142.9,556.1 L1143.3,559.7 L1143.7,555.8 L1144.1,544.7 L1144.6,528.0 L1145.0,508.4 L1145.4,488.8 L1145.8,472.2 L1146.3,461.1 L1146.7,457.2 L1147.1,463.2 L1147.6,479.9 L1148.0,502.6 L1148.4,525.3 L1148.9,542.0 L1149.3,548.1 L1149.7,543.3 L1150.1,530.0 L1150.6,510.8 L1151.0,489.4 L1151.4,470.2 L1151.9,456.9 L1152.3,452.2 L1152.7,455.6 L1153.2,465.2 L1153.6,478.2 L1154.1,491.3 L1154.5,500.8 L1155.0,504.3 L1155.4,499.2 L1155.8,485.0 L1156.2,464.4 L1156.7,441.6 L1157.1,421.0 L1157.5,406.8 L1157.9,401.7 L1158.3,404.9 L1158.7,414.0 L1159.2,427.7 L1159.6,443.8 L1160.0,459.8 L1160.5,473.5 L1160.9,482.6 L1161.3,485.8 L1161.7,482.1 L1162.2,471.6 L1162.6,456.4 L1163.0,439.5 L1163.4,424.4 L1163.9,413.9 L1164.3,410.1 L1164.7,412.0 L1165.2,417.3 L1165.6,424.9 L1166.0,433.4 L1166.4,441.0 L1166.9,446.3 L1167.3,448.1 L1167.7,447.0 L1168.2,443.6 L1168.6,438.6 L1169.0,432.6 L1169.4,426.7 L1169.9,421.7 L1170.3,418.3 L1170.7,417.1 L1171.1,418.4 L1171.5,422.2 L1171.9,427.9 L1172.3,434.9 L1172.7,442.4 L1173.1,449.4 L1173.5,455.1 L1173.9,458.9 L1174.3,460.2 L1174.7,457.4 L1175.2,449.4 L1175.6,437.4 L1176.0,423.3 L1176.4,409.2 L1176.9,397.3 L1177.3,389.3 L1177.7,386.5 L1178.1,388.6 L1178.5,394.8 L1178.9,404.2 L1179.3,415.7 L1179.7,428.0 L1180.1,439.5 L1180.5,448.9 L1180.9,455.0 L1181.3,457.2 L1181.8,455.2 L1182.2,449.9 L1182.6,442.6 L1183.1,435.4 L1183.5,430.1 L1183.9,428.1 L1184.3,428.2 L1184.8,428.4 L1185.2,428.7 L1185.6,429.1 L1186.1,429.5 L1186.5,429.8 L1186.9,430.1 L1187.3,430.1 L1187.8,429.1 L1188.2,426.2 L1188.6,422.0 L1189.0,417.3 L1189.5,413.1 L1189.9,410.1 L1190.3,409.1 L1190.7,409.6 L1191.1,411.2 L1191.5,413.8 L1191.9,417.2 L1192.3,421.4 L1192.7,426.1 L1193.1,431.1 L1193.5,436.2 L1193.9,441.2 L1194.3,445.9 L1194.7,450.0 L1195.1,453.5 L1195.5,456.0 L1195.9,457.6 L1196.3,458.2 L1196.8,454.9 L1197.2,446.0 L1197.6,433.9 L1198.1,421.8 L1198.5,413.0 L1198.9,409.7 L1199.3,411.8 L1199.7,417.7 L1200.1,426.2 L1200.5,435.7 L1200.9,444.2 L1201.3,450.1 L1201.7,452.2 L1202.2,448.9 L1202.6,440.1 L1203.0,428.1 L1203.5,416.1 L1203.9,407.3 L1204.3,404.1 L1204.7,406.7 L1205.1,414.0 L1205.5,425.4 L1205.9,439.2 L1206.3,454.0 L1206.7,467.9 L1207.1,479.2 L1207.5,486.5 L1207.9,489.1 L1208.4,484.0 L1208.8,469.7 L1209.2,449.1 L1209.7,426.1 L1210.1,405.5 L1210.5,391.2 L1211.0,386.1 L1211.4,391.2 L1211.8,405.4 L1212.2,424.6 L1212.6,443.9 L1213.0,458.0 L1213.4,463.2 L1213.8,461.2 L1214.2,455.7 L1214.7,448.1 L1215.1,440.6 L1215.5,435.1 L1216.0,433.1 L1216.4,435.1 L1216.8,440.9 L1217.2,449.5 L1217.7,459.6 L1218.1,469.8 L1218.5,478.3 L1218.9,484.1 L1219.4,486.1 L1219.8,480.8 L1220.2,466.5 L1220.7,446.8 L1221.1,427.2 L1221.5,412.8 L1222.0,407.5 L1222.4,412.7 L1222.8,427.4 L1223.2,448.5 L1223.6,472.0 L1224.0,493.2 L1224.4,507.8 L1224.8,513.0 L1225.2,508.2 L1225.6,494.6 L1226.0,474.2 L1226.4,450.1 L1226.8,426.0 L1227.2,405.5 L1227.6,391.9 L1228.0,387.1 L1228.4,394.4 L1228.8,414.9 L1229.3,444.5 L1229.7,477.3 L1230.1,506.9 L1230.5,527.4 L1231.0,534.7 L1231.4,527.9 L1231.8,508.8 L1232.2,481.3 L1232.6,450.8 L1233.0,423.3 L1233.4,404.3 L1233.8,397.5 L1234.2,402.5 L1234.6,417.0 L1235.0,439.1 L1235.4,466.3 L1235.8,495.3 L1236.2,522.4 L1236.6,544.6 L1237.0,559.1 L1237.4,564.1 L1237.8,553.1 L1238.2,524.2 L1238.6,488.6 L1239.0,459.8 L1239.4,448.7 L1239.8,454.0 L1240.2,469.0 L1240.6,491.9 L1241.0,520.1 L1241.4,550.2 L1241.8,578.4 L1242.2,601.3 L1242.6,616.3 L1243.0,621.6 L1243.4,612.1 L1243.8,585.4 L1244.3,547.0 L1244.7,504.3 L1245.1,465.9 L1245.6,439.3 L1246.0,429.8 L1246.4,437.2 L1246.9,458.4 L1247.3,490.1 L1247.7,527.5 L1248.1,564.8 L1248.6,596.5 L1249.0,617.7 L1249.4,625.2 L1249.8,618.2 L1250.2,598.3 L1250.6,568.5 L1251.0,533.4 L1251.4,498.2 L1251.8,468.5 L1252.2,448.6 L1252.6,441.6 L1253.0,450.0 L1253.5,473.8 L1253.9,508.0 L1254.3,546.1 L1254.8,580.4 L1255.2,604.1 L1255.6,612.5 L1256.0,608.2 L1256.5,595.8 L1256.9,576.8 L1257.3,553.5 L1257.7,528.7 L1258.2,505.3 L1258.6,486.3 L1259.0,473.9 L1259.4,469.6 L1259.9,475.8 L1260.3,492.9 L1260.7,516.2 L1261.2,539.4 L1261.6,556.5 L1262.0,562.7 L1262.5,558.8 L1262.9,547.7 L1263.3,531.8 L1263.7,514.1 L1264.2,498.2 L1264.6,487.2 L1265.0,483.2 L1265.4,490.5 L1265.8,509.6 L1266.2,533.3 L1266.6,552.4 L1267.0,559.7 L1267.4,557.2 L1267.8,549.9 L1268.2,538.8 L1268.6,525.2 L1269.0,510.7 L1269.4,497.1 L1269.8,486.0 L1270.2,478.7 L1270.6,476.2 L1271.0,477.5 L1271.4,481.4 L1271.8,487.5 L1272.2,495.3 L1272.6,504.3 L1273.0,513.6 L1273.4,522.5 L1273.8,530.4 L1274.2,536.5 L1274.6,540.3 L1275.0,541.7 L1275.5,538.4 L1275.9,529.0 L1276.3,515.6 L1276.8,500.7 L1277.2,487.2 L1277.6,477.9 L1278.0,474.6 L1278.5,478.7 L1278.9,490.3 L1279.3,506.9 L1279.8,525.4 L1280.2,542.0 L1280.6,553.6 L1281.0,557.7 L1281.4,556.1 L1281.8,551.4 L1282.2,544.0 L1282.6,534.6 L1283.0,523.8 L1283.4,512.5 L1283.8,501.7 L1284.2,492.3 L1284.6,484.9 L1285.0,480.2 L1285.4,478.6 L1285.9,483.3 L1286.3,496.1 L1286.7,513.5 L1287.2,531.0 L1287.6,543.8 L1288.0,548.5 L1288.5,544.6 L1288.9,534.5 L1289.3,522.0 L1289.8,511.9 L1290.2,508.0 L1290.7,511.3 L1291.1,519.8 L1291.6,530.3 L1292.0,538.8 L1292.5,542.1 L1292.9,540.3 L1293.3,535.2 L1293.7,527.9 L1294.1,519.7 L1294.6,512.4 L1295.0,507.3 L1295.4,505.5 L1295.8,507.1 L1296.2,511.5 L1296.6,518.2 L1297.0,526.1 L1297.4,534.0 L1297.8,540.6 L1298.3,545.1 L1298.7,546.7 L1299.1,538.9 L1299.6,520.0 L1300.1,501.1 L1300.6,493.3 L1301.0,496.0 L1301.5,503.7 L1301.9,514.8 L1302.4,527.2 L1302.8,538.3 L1303.2,545.9 L1303.7,548.7 L1304.1,546.7 L1304.5,541.0 L1304.9,532.2 L1305.4,521.5 L1305.8,510.0 L1306.2,499.3 L1306.6,490.5 L1307.0,484.8 L1307.5,482.8 L1307.9,491.0 L1308.3,512.5 L1308.8,539.0 L1309.2,560.5 L1309.7,568.7 L1310.1,565.5 L1310.5,556.4 L1310.9,542.5 L1311.4,525.4 L1311.8,507.1 L1312.2,490.0 L1312.6,476.1 L1313.1,467.0 L1313.5,463.8 L1313.9,469.5 L1314.3,485.4 L1314.8,508.4 L1315.2,533.9 L1315.6,556.9 L1316.0,572.8 L1316.5,578.5 L1316.9,572.0 L1317.3,553.9 L1317.8,527.7 L1318.2,498.6 L1318.6,472.4 L1319.1,454.3 L1319.5,447.8 L1319.9,451.1 L1320.3,460.7 L1320.7,475.4 L1321.1,493.4 L1321.5,512.5 L1321.9,530.5 L1322.3,545.2 L1322.7,554.8 L1323.1,558.1 L1323.5,553.3 L1323.9,539.8 L1324.4,520.4 L1324.8,498.9 L1325.2,479.4 L1325.7,466.0 L1326.1,461.2 L1326.5,463.3 L1326.9,469.4 L1327.3,478.8 L1327.7,490.7 L1328.1,503.9 L1328.5,517.1 L1328.9,529.1 L1329.3,538.5 L1329.7,544.6 L1330.1,546.7 L1330.5,545.5 L1330.9,542.1 L1331.4,536.7 L1331.8,529.4 L1332.2,520.7 L1332.6,511.0 L1333.0,500.8 L1333.5,490.6 L1333.9,480.9 L1334.3,472.3 L1334.7,465.0 L1335.2,459.5 L1335.6,456.1 L1336.0,455.0 L1336.5,462.6 L1336.9,484.3 L1337.3,516.7 L1337.8,555.0 L1338.2,593.3 L1338.7,625.7 L1339.1,647.4 L1339.6,655.0 L1340.0,629.5 L1340.5,558.0 L1340.9,454.8 L1341.3,340.2 L1341.7,237.0 L1342.2,165.5 L1342.6,140.0 L1343.0,184.6 L1343.4,306.5 L1343.8,473.0 L1344.2,639.5 L1344.6,761.4 L1345.0,806.0 L1345.4,788.7 L1345.8,738.6 L1346.2,660.5 L1346.6,562.1 L1347.0,453.0 L1347.4,343.9 L1347.8,245.5 L1348.2,167.4 L1348.6,117.3 L1349.0,100.0 L1349.5,128.7 L1349.9,210.6 L1350.3,333.0 L1350.8,477.5 L1351.2,622.0 L1351.7,744.4 L1352.1,826.3 L1352.6,855.0 L1353.0,825.5 L1353.4,741.5 L1353.9,615.8 L1354.3,467.5 L1354.7,319.2 L1355.2,193.5 L1355.6,109.5 L1356.0,80.0 L1356.4,110.9 L1356.8,199.1 L1357.2,330.9 L1357.7,486.5 L1358.1,642.1 L1358.5,773.9 L1358.9,862.1 L1359.3,893.0 L1359.7,861.7 L1360.2,772.5 L1360.6,639.0 L1361.0,481.5 L1361.4,324.0 L1361.8,190.5 L1362.3,101.3 L1362.7,70.0 L1363.1,101.6 L1363.5,191.6 L1363.9,326.2 L1364.3,485.0 L1364.8,643.8 L1365.2,778.4 L1365.6,868.4 L1366.0,900.0 L1366.4,868.6 L1366.9,779.2 L1367.3,645.4 L1367.8,487.5 L1368.2,329.6 L1368.6,195.8 L1369.1,106.4 L1369.5,75.0 L1369.9,105.7 L1370.4,193.0 L1370.8,323.8 L1371.2,478.0 L1371.7,632.2 L1372.1,763.0 L1372.6,850.3 L1373.0,881.0 L1373.4,850.7 L1373.9,764.4 L1374.3,635.3 L1374.8,483.0 L1375.2,330.7 L1375.6,201.6 L1376.1,115.3 L1376.5,85.0 L1376.9,108.8 L1377.3,177.4 L1377.7,282.5 L1378.1,411.4 L1378.6,548.6 L1379.0,677.5 L1379.4,782.6 L1379.8,851.2 L1380.2,875.0 L1380.6,844.7 L1381.0,758.6 L1381.4,629.6 L1381.8,477.5 L1382.3,325.4 L1382.7,196.4 L1383.1,110.3 L1383.5,80.0 L1383.9,110.2 L1384.4,196.3 L1384.8,325.1 L1385.2,477.0 L1385.7,628.9 L1386.1,757.7 L1386.6,843.8 L1387.0,874.0 L1387.4,845.3 L1387.9,763.6 L1388.3,641.3 L1388.8,497.0 L1389.2,352.7 L1389.6,230.4 L1390.1,148.7 L1390.5,120.0 L1390.9,147.3 L1391.4,224.9 L1391.8,341.0 L1392.2,478.0 L1392.7,615.0 L1393.1,731.1 L1393.6,808.7 L1394.0,836.0 L1394.4,816.8 L1394.8,761.6 L1395.3,677.0 L1395.7,573.2 L1396.1,462.8 L1396.5,359.0 L1397.0,274.4 L1397.4,219.2 L1397.8,200.0 L1398.2,216.7 L1398.6,264.9 L1399.1,338.8 L1399.5,429.3 L1399.9,525.7 L1400.3,616.2 L1400.8,690.1 L1401.2,738.3 L1401.6,755.0 L1402.0,737.7 L1402.4,688.4 L1402.8,614.6 L1403.2,527.5 L1403.6,440.4 L1404.0,366.6 L1404.4,317.3 L1404.8,300.0 L1405.2,310.4 L1405.7,340.4 L1406.1,386.3 L1406.6,442.6 L1407.0,502.6 L1407.4,558.9 L1407.9,604.8 L1408.3,634.8 L1408.8,645.2 L1409.2,631.7 L1409.7,594.0 L1410.1,539.5 L1410.5,479.0 L1411.0,424.5 L1411.4,386.8 L1411.9,373.4 L1412.3,380.2 L1412.7,400.1 L1413.1,430.4 L1413.5,467.7 L1413.9,507.4 L1414.3,544.6 L1414.8,575.0 L1415.2,594.8 L1415.6,601.7 L1416.0,593.6 L1416.4,570.5 L1416.8,535.9 L1417.2,495.1 L1417.6,454.3 L1418.0,419.7 L1418.4,396.6 L1418.8,388.5 L1419.2,394.1 L1419.6,410.0 L1420.1,433.8 L1420.5,461.8 L1420.9,489.8 L1421.3,513.6 L1421.8,529.5 L1422.2,535.1 L1422.6,529.4 L1423.0,513.3 L1423.5,489.2 L1423.9,460.8 L1424.3,432.4 L1424.7,408.3 L1425.2,392.2 L1425.6,386.5 L1426.0,390.4 L1426.5,401.1 L1426.9,415.7 L1427.3,430.4 L1427.8,441.1 L1428.2,445.0 L1428.6,442.9 L1429.0,436.9 L1429.5,428.0 L1429.9,417.6 L1430.3,407.1 L1430.7,398.2 L1431.2,392.2 L1431.6,390.1 L1432.0,396.8 L1432.5,414.9 L1432.9,439.6 L1433.3,464.3 L1433.8,482.4 L1434.2,489.0 L1434.6,486.0 L1435.0,477.5 L1435.4,464.3 L1435.8,448.2 L1436.2,431.0 L1436.6,414.9 L1437.0,401.7 L1437.4,393.1 L1437.8,390.1 L1438.2,394.5 L1438.7,406.7 L1439.1,424.4 L1439.5,444.1 L1439.9,461.8 L1440.4,474.0 L1440.8,478.4 L1441.2,474.1 L1441.7,461.9 L1442.1,444.3 L1442.5,424.8 L1442.9,407.2 L1443.4,395.1 L1443.8,390.7 L1444.3,394.9 L1444.7,406.3 L1445.2,421.9 L1445.7,437.4 L1446.1,448.8 L1446.6,453.0 L1447.0,450.0 L1447.5,441.7 L1447.9,429.7 L1448.3,416.4 L1448.7,404.4 L1449.2,396.1 L1449.6,393.1 L1450.0,400.0 L1450.5,418.8 L1450.9,444.4 L1451.3,470.0 L1451.8,488.8 L1452.2,495.6 L1452.6,491.4 L1453.1,479.4 L1453.5,461.4 L1453.9,440.2 L1454.3,419.0 L1454.8,401.0 L1455.2,388.9 L1455.6,384.7 L1456.0,387.9 L1456.4,397.0 L1456.8,410.9 L1457.2,428.1 L1457.6,446.3 L1458.0,463.4 L1458.4,477.3 L1458.8,486.5 L1459.2,489.6 L1459.6,482.8 L1460.1,463.7 L1460.5,436.0 L1460.9,405.3 L1461.4,377.7 L1461.8,358.5 L1462.2,351.7 L1462.6,358.0 L1463.1,375.9 L1463.5,402.7 L1463.9,434.4 L1464.3,466.0 L1464.8,492.8 L1465.2,510.8 L1465.6,517.0 L1466.0,511.4 L1466.4,495.4 L1466.8,471.5 L1467.2,443.3 L1467.6,415.0 L1468.0,391.1 L1468.4,375.1 L1468.8,369.5 L1469.2,376.3 L1469.6,395.2 L1470.0,422.6 L1470.4,453.0 L1470.8,480.3 L1471.2,499.3 L1471.6,506.0 L1472.0,502.3 L1472.4,491.5 L1472.8,475.0 L1473.2,454.7 L1473.6,433.1 L1474.0,412.8 L1474.4,396.3 L1474.8,385.5 L1475.2,381.7 L1475.6,389.8 L1476.0,411.7 L1476.4,441.7 L1476.8,471.7 L1477.2,493.6 L1477.6,501.6 L1478.0,497.7 L1478.4,486.3 L1478.8,468.9 L1479.2,447.5 L1479.6,424.8 L1480.0,403.4 L1480.4,386.0 L1480.8,374.7 L1481.2,370.7 L1481.7,377.9 L1482.1,398.1 L1482.5,427.2 L1483.0,459.5 L1483.4,488.7 L1483.8,508.8 L1484.2,516.0 L1484.7,511.1 L1485.1,496.9 L1485.5,475.8 L1485.9,450.8 L1486.4,425.8 L1486.8,404.6 L1487.2,390.5 L1487.6,385.5 L1488.1,393.7 L1488.5,416.2 L1488.9,446.8 L1489.4,477.4 L1489.8,499.8 L1490.3,508.0 L1490.7,503.3 L1491.1,489.8 L1491.5,469.7 L1492.0,445.9 L1492.4,422.1 L1492.8,401.9 L1493.2,388.5 L1493.7,383.7 L1494.1,392.0 L1494.5,414.8 L1495.0,445.9 L1495.4,477.0 L1495.8,499.7 L1496.3,508.0 L1496.7,505.4 L1497.1,497.6 L1497.5,485.5 L1497.9,470.2 L1498.3,453.3 L1498.7,436.4 L1499.1,421.1 L1499.5,409.0 L1499.9,401.2 L1500.3,398.5 L1500.7,408.8 L1501.1,435.7 L1501.5,468.9 L1501.9,495.8 L1502.3,506.0 L1502.7,504.3 L1503.1,499.3 L1503.5,491.6 L1503.9,481.8 L1504.3,470.9 L1504.7,460.0 L1505.1,450.3 L1505.5,442.5 L1505.9,437.5 L1506.3,435.8 L1506.7,440.5 L1507.1,453.6 L1507.6,472.7 L1508.0,493.8 L1508.4,512.8 L1508.8,526.0 L1509.3,530.7 L1509.7,527.5 L1510.1,518.5 L1510.6,505.6 L1511.0,491.3 L1511.4,478.3 L1511.8,469.4 L1512.3,466.2 L1512.7,471.9 L1513.1,487.3 L1513.6,508.4 L1514.0,529.6 L1514.4,545.0 L1514.9,550.7 L1515.3,548.4 L1515.7,542.0 L1516.1,532.1 L1516.6,519.9 L1517.0,507.0 L1517.4,494.8 L1517.8,484.9 L1518.3,478.5 L1518.7,476.2 L1519.1,483.7 L1519.6,503.1 L1520.0,527.2 L1520.4,546.6 L1520.9,554.1 L1521.3,552.3 L1521.7,547.2 L1522.1,539.5 L1522.6,529.9 L1523.0,519.8 L1523.4,510.2 L1523.8,502.5 L1524.3,497.4 L1524.7,495.6 L1525.1,500.5 L1525.6,513.9 L1526.0,532.2 L1526.4,550.4 L1526.9,563.8 L1527.3,568.7 L1527.7,565.2 L1528.1,555.4 L1528.6,540.6 L1529.0,523.2 L1529.4,505.7 L1529.8,491.0 L1530.3,481.1 L1530.7,477.6 L1531.1,481.7 L1531.6,492.7 L1532.0,507.8 L1532.4,523.0 L1532.9,534.0 L1533.3,538.1 L1533.7,537.3 L1534.1,535.3 L1534.5,532.0 L1534.9,527.9 L1535.3,523.4 L1535.7,518.8 L1536.1,514.7 L1536.5,511.5 L1536.9,509.4 L1537.3,508.6 L1537.8,522.4 L1538.3,536.1 L1538.7,534.9 L1539.2,531.5 L1539.6,526.7 L1540.0,521.4 L1540.4,516.5 L1540.9,513.2 L1541.3,512.0 L1541.7,514.6 L1542.2,521.7 L1542.6,531.3 L1543.0,541.0 L1543.5,548.1 L1543.9,550.7 L1544.3,545.6 L1544.7,531.6 L1545.1,512.4 L1545.5,493.3 L1545.9,479.3 L1546.3,474.2 L1546.7,476.6 L1547.1,483.4 L1547.5,494.0 L1547.9,507.3 L1548.3,522.2 L1548.7,537.0 L1549.1,550.3 L1549.5,560.9 L1549.9,567.8 L1550.3,570.1 L1550.7,565.7 L1551.2,553.6 L1551.6,535.9 L1552.0,516.4 L1552.5,498.8 L1552.9,486.6 L1553.3,482.2 L1553.7,485.6 L1554.2,495.3 L1554.6,509.1 L1555.0,524.6 L1555.5,538.4 L1555.9,548.1 L1556.3,551.5 L1556.7,547.7 L1557.2,536.9 L1557.6,520.8 L1558.0,501.8 L1558.4,482.8 L1558.9,466.7 L1559.3,456.0 L1559.7,452.2 L1560.2,459.6 L1560.6,479.9 L1561.0,507.6 L1561.5,535.4 L1561.9,555.7 L1562.3,563.1 L1562.7,560.7 L1563.1,553.9 L1563.5,543.3 L1563.9,530.0 L1564.3,515.1 L1564.7,500.3 L1565.1,487.0 L1565.5,476.4 L1565.9,469.6 L1566.3,467.2 L1566.7,473.1 L1567.1,489.1 L1567.5,510.9 L1567.9,532.8 L1568.3,548.8 L1568.7,554.7 L1569.1,550.5 L1569.5,538.5 L1569.9,520.6 L1570.3,499.4 L1570.7,478.3 L1571.1,460.4 L1571.5,448.4 L1571.9,444.2 L1572.4,447.3 L1572.8,456.3 L1573.2,470.2 L1573.6,487.1 L1574.0,505.2 L1574.5,522.1 L1574.9,535.9 L1575.3,544.9 L1575.7,548.1 L1576.2,541.1 L1576.6,522.2 L1577.0,496.3 L1577.5,470.5 L1577.9,451.5 L1578.3,444.6 L1578.7,446.6 L1579.1,452.4 L1579.5,461.5 L1579.9,472.9 L1580.3,485.6 L1580.7,498.3 L1581.1,509.7 L1581.5,518.8 L1581.9,524.6 L1582.3,526.7 L1582.7,520.5 L1583.1,504.4 L1583.5,484.5 L1583.9,468.4 L1584.3,462.2 L1584.7,463.7 L1585.1,468.0 L1585.5,474.7 L1585.9,483.2 L1586.3,492.6 L1586.7,502.0 L1587.1,510.5 L1587.5,517.2 L1587.9,521.6 L1588.3,523.1 L1588.8,515.9 L1589.2,496.2 L1589.6,469.4 L1590.1,442.6 L1590.5,422.9 L1591.0,415.8 L1591.4,418.8 L1591.9,427.1 L1592.3,438.4 L1592.8,449.7 L1593.2,458.0 L1593.7,461.0 L1594.1,456.3 L1594.6,443.4 L1595.0,425.9 L1595.5,408.3 L1595.9,395.4 L1596.4,390.7 L1596.8,393.3 L1597.2,400.5 L1597.6,411.2 L1598.0,424.0 L1598.4,436.7 L1598.8,447.4 L1599.2,454.6 L1599.6,457.2 L1600.0,453.4 L1600.4,442.9 L1600.8,428.6 L1601.2,414.4 L1601.6,403.9 L1602.0,400.1 L1602.4,402.3 L1602.9,408.3 L1603.3,417.1 L1603.7,426.8 L1604.1,435.5 L1604.6,441.6 L1605.0,443.8 L1605.4,441.6 L1605.9,435.5 L1606.3,426.8 L1606.7,417.1 L1607.2,408.3 L1607.6,402.3 L1608.0,400.1 L1608.4,404.2 L1608.9,415.7 L1609.3,432.4 L1609.7,450.8 L1610.2,467.5 L1610.6,479.0 L1611.0,483.1 L1611.4,479.4 L1611.9,468.9 L1612.3,453.2 L1612.7,434.6 L1613.1,416.0 L1613.6,400.3 L1614.0,389.8 L1614.4,386.1 L1614.9,391.5 L1615.3,406.4 L1615.7,426.6 L1616.2,446.9 L1616.6,461.8 L1617.0,467.2 L1617.4,463.8 L1617.9,454.1 L1618.3,439.7 L1618.7,422.6 L1619.1,405.6 L1619.6,391.1 L1620.0,381.5 L1620.4,378.1 L1620.9,386.7 L1621.3,410.1 L1621.7,442.1 L1622.2,474.1 L1622.6,497.5 L1623.0,506.0 L1623.4,503.3 L1623.8,495.2 L1624.2,482.5 L1624.6,466.1 L1625.0,447.5 L1625.4,428.0 L1625.8,409.4 L1626.2,393.1 L1626.6,380.3 L1627.0,372.3 L1627.4,369.5 L1627.9,381.1 L1628.3,411.5 L1628.8,449.1 L1629.2,479.5 L1629.6,491.1 L1630.1,486.8 L1630.5,474.6 L1630.9,456.2 L1631.3,434.6 L1631.8,413.0 L1632.2,394.6 L1632.6,382.4 L1633.0,378.1 L1633.5,386.4 L1633.9,409.2 L1634.3,440.3 L1634.8,471.3 L1635.2,494.1 L1635.6,502.4 L1636.1,496.9 L1636.5,481.0 L1636.9,457.3 L1637.3,429.3 L1637.8,401.3 L1638.2,377.5 L1638.6,361.6 L1639.0,356.1 L1639.5,363.9 L1639.9,385.8 L1640.3,417.5 L1640.8,452.6 L1641.2,484.3 L1641.6,506.2 L1642.0,514.0 L1642.5,507.0 L1642.9,487.2 L1643.3,458.6 L1643.8,426.9 L1644.2,398.3 L1644.6,378.6 L1645.0,371.5 L1645.5,378.9 L1645.9,399.6 L1646.3,429.6 L1646.8,462.9 L1647.2,492.9 L1647.6,513.6 L1648.1,521.1 L1648.5,513.3 L1648.9,491.6 L1649.3,460.2 L1649.8,425.3 L1650.2,394.0 L1650.6,372.2 L1651.1,364.5 L1651.5,371.0 L1651.9,389.2 L1652.3,415.5 L1652.8,444.8 L1653.2,471.1 L1653.6,489.3 L1654.1,495.8 L1654.5,491.1 L1654.9,477.6 L1655.3,457.3 L1655.8,433.5 L1656.2,409.6 L1656.6,389.4 L1657.0,375.8 L1657.5,371.1 L1657.9,377.5 L1658.3,395.6 L1658.7,421.6 L1659.2,450.5 L1659.6,476.6 L1660.0,494.6 L1660.5,501.0 L1660.9,497.0 L1661.3,485.4 L1661.7,467.6 L1662.1,445.9 L1662.5,422.7 L1662.9,400.9 L1663.3,383.1 L1663.7,371.5 L1664.1,367.5 L1664.5,373.2 L1664.9,389.3 L1665.4,412.4 L1665.8,438.2 L1666.2,461.3 L1666.6,477.4 L1667.1,483.1 L1667.5,477.4 L1667.9,461.6 L1668.4,438.6 L1668.8,413.2 L1669.2,390.2 L1669.6,374.4 L1670.1,368.7 L1670.5,372.1 L1670.9,382.1 L1671.3,397.6 L1671.7,417.2 L1672.1,438.9 L1672.5,460.5 L1672.9,480.1 L1673.3,495.6 L1673.7,505.6 L1674.1,509.0 L1674.5,506.1 L1674.9,497.4 L1675.3,484.0 L1675.7,467.1 L1676.1,448.3 L1676.5,429.5 L1676.9,412.6 L1677.3,399.1 L1677.7,390.5 L1678.1,387.5 L1678.5,389.7 L1678.9,396.1 L1679.3,405.9 L1679.7,417.9 L1680.1,430.7 L1680.5,442.8 L1680.9,452.6 L1681.3,459.0 L1681.7,461.2 L1682.1,458.5 L1682.5,451.0 L1683.0,440.2 L1683.4,428.1 L1683.8,417.3 L1684.3,409.8 L1684.7,407.1 L1685.1,408.4 L1685.5,412.0 L1685.9,417.8 L1686.3,425.2 L1686.7,433.6 L1687.1,442.3 L1687.5,450.8 L1687.9,458.1 L1688.3,463.9 L1688.7,467.5 L1689.1,468.8 L1689.5,467.5 L1689.9,463.5 L1690.3,457.3 L1690.8,449.2 L1691.2,439.8 L1691.6,429.6 L1692.0,419.5 L1692.4,410.1 L1692.8,402.0 L1693.3,395.8 L1693.7,391.8 L1694.1,390.5 L1694.5,393.2 L1695.0,400.6 L1695.4,411.4 L1695.8,423.3 L1696.2,434.1 L1696.7,441.5 L1697.1,444.2 L1697.5,443.5 L1697.9,441.4 L1698.3,438.1 L1698.7,433.9 L1699.1,429.1 L1699.5,424.2 L1699.9,419.4 L1700.3,415.2 L1700.7,411.9 L1701.1,409.8 L1701.5,409.1 L1701.9,412.2 L1702.4,420.6 L1702.8,432.2 L1703.2,443.7 L1703.7,452.1 L1704.1,455.2 L1704.5,454.0 L1704.9,450.6 L1705.3,445.4 L1705.7,438.8 L1706.1,431.5 L1706.5,424.1 L1706.9,417.5 L1707.3,412.3 L1707.7,408.9 L1708.1,407.7 L1708.5,410.1 L1709.0,416.6 L1709.4,426.0 L1709.8,436.5 L1710.3,445.9 L1710.7,452.4 L1711.1,454.8 L1711.5,452.8 L1712.0,447.2 L1712.4,438.7 L1712.8,428.7 L1713.2,418.8 L1713.7,410.3 L1714.1,404.7 L1714.5,402.7 L1714.9,405.1 L1715.3,411.8 L1715.7,422.0 L1716.1,434.6 L1716.5,448.0 L1716.9,460.6 L1717.3,470.9 L1717.7,477.6 L1718.1,479.9 L1718.5,477.5 L1718.9,470.8 L1719.3,460.4 L1719.7,447.6 L1720.1,434.0 L1720.5,421.3 L1720.9,410.9 L1721.3,404.1 L1721.7,401.7 L1722.1,403.9 L1722.6,410.1 L1723.0,419.5 L1723.4,430.5 L1723.9,441.4 L1724.3,450.8 L1724.7,457.0 L1725.1,459.2 L1725.6,456.2 L1726.0,447.9 L1726.4,436.0 L1726.8,422.7 L1727.3,410.8 L1727.7,402.5 L1728.1,399.5 L1728.6,402.8 L1729.0,412.1 L1729.4,426.0 L1729.8,442.4 L1730.3,458.8 L1730.7,472.7 L1731.1,482.0 L1731.5,485.3 L1731.9,481.9 L1732.3,472.1 L1732.7,457.5 L1733.1,440.2 L1733.5,423.0 L1733.9,408.3 L1734.3,398.5 L1734.7,395.1 L1735.1,398.9 L1735.5,409.4 L1735.9,424.7 L1736.3,441.6 L1736.7,456.9 L1737.1,467.4 L1737.5,471.2 L1738.0,467.6 L1738.4,457.5 L1738.8,442.9 L1739.3,426.8 L1739.7,412.2 L1740.1,402.1 L1740.5,398.5 L1741.0,404.0 L1741.4,418.8 L1741.8,439.1 L1742.3,459.4 L1742.7,474.3 L1743.1,479.7 L1743.6,476.3 L1744.0,466.7 L1744.4,452.4 L1744.8,435.4 L1745.3,418.5 L1745.7,404.1 L1746.1,394.5 L1746.5,391.1 L1747.0,397.0 L1747.4,412.9 L1747.8,434.8 L1748.3,456.6 L1748.7,472.6 L1749.2,478.4 L1749.6,475.7 L1750.0,468.1 L1750.4,456.6 L1750.9,443.1 L1751.3,429.5 L1751.7,418.1 L1752.1,410.4 L1752.6,407.7 L1753.0,412.6 L1753.4,426.4 L1753.8,446.3 L1754.3,468.4 L1754.7,488.3 L1755.1,502.1 L1755.6,507.0 L1756.0,501.4 L1756.4,485.7 L1756.8,462.9 L1757.3,437.6 L1757.7,414.9 L1758.1,399.1 L1758.6,393.5 L1759.0,397.5 L1759.4,408.7 L1759.8,425.5 L1760.2,445.3 L1760.6,465.1 L1761.0,481.9 L1761.4,493.2 L1761.8,497.1 L1762.2,491.5 L1762.6,475.8 L1763.1,453.0 L1763.5,427.8 L1763.9,405.1 L1764.3,389.3 L1764.8,383.7 L1765.2,390.8 L1765.6,410.8 L1766.1,439.6 L1766.5,471.6 L1766.9,500.4 L1767.3,520.3 L1767.8,527.5 L1768.2,522.2 L1768.6,507.3 L1769.0,484.9 L1769.5,458.5 L1769.9,432.1 L1770.3,409.7 L1770.7,394.8 L1771.2,389.5 L1771.6,396.1 L1772.0,414.5 L1772.5,441.0 L1772.9,470.5 L1773.3,497.1 L1773.7,515.5 L1774.2,522.1 L1774.6,516.9 L1775.0,502.4 L1775.5,480.6 L1775.9,454.9 L1776.3,429.2 L1776.7,407.4 L1777.2,392.8 L1777.6,387.7 L1778.0,393.8 L1778.4,411.0 L1778.9,435.8 L1779.3,463.3 L1779.7,488.1 L1780.2,505.3 L1780.6,511.4 L1781.0,505.7 L1781.4,489.5 L1781.8,465.2 L1782.2,436.6 L1782.6,407.9 L1783.0,383.6 L1783.4,367.4 L1783.8,361.7 L1784.2,370.1 L1784.6,393.6 L1785.1,427.7 L1785.5,465.5 L1785.9,499.5 L1786.4,523.1 L1786.8,531.5 L1787.2,523.9 L1787.6,502.8 L1788.1,472.2 L1788.5,438.3 L1788.9,407.8 L1789.4,386.6 L1789.8,379.1 L1790.2,385.3 L1790.6,402.9 L1791.1,429.2 L1791.5,460.3 L1791.9,491.4 L1792.3,517.7 L1792.8,535.3 L1793.2,541.5 L1793.6,534.8 L1794.1,516.4 L1794.5,491.3 L1794.9,466.2 L1795.4,447.9 L1795.8,441.2 L1796.2,448.4 L1796.7,468.6 L1797.1,497.7 L1797.5,530.1 L1797.9,559.3 L1798.4,579.5 L1798.8,586.7 L1799.2,579.2 L1799.7,558.3 L1800.1,528.0 L1800.5,494.3 L1800.9,464.0 L1801.4,443.0 L1801.8,435.6 L1802.2,442.2 L1802.7,461.2 L1803.1,489.6 L1803.5,523.1 L1803.9,556.7 L1804.4,585.1 L1804.8,604.1 L1805.2,610.7 L1805.6,602.5 L1806.1,579.6 L1806.5,546.4 L1806.9,509.5 L1807.4,476.3 L1807.8,453.4 L1808.2,445.2 L1808.6,450.6 L1809.1,466.2 L1809.5,489.6 L1809.9,517.1 L1810.3,544.7 L1810.8,568.0 L1811.2,583.6 L1811.6,589.1 L1812.0,581.5 L1812.5,560.1 L1812.9,529.1 L1813.3,494.8 L1813.8,463.8 L1814.2,442.4 L1814.6,434.8 L1815.0,441.3 L1815.4,459.9 L1815.8,487.7 L1816.2,520.4 L1816.6,553.2 L1817.0,581.0 L1817.4,599.6 L1817.8,606.1 L1818.2,597.5 L1818.7,573.5 L1819.1,538.7 L1819.5,500.0 L1820.0,465.2 L1820.4,441.1 L1820.8,432.6 L1821.2,437.8 L1821.7,452.8 L1822.1,475.1 L1822.5,501.5 L1822.9,527.9 L1823.4,550.3 L1823.8,565.3 L1824.2,570.5 L1824.7,566.4 L1825.1,554.6 L1825.5,536.9 L1825.9,516.1 L1826.4,495.3 L1826.8,477.7 L1827.2,465.9 L1827.6,461.8 L1828.1,469.0 L1828.5,488.6 L1828.9,515.4 L1829.4,542.3 L1829.8,561.9 L1830.2,569.1 L1830.7,564.0 L1831.1,549.6 L1831.5,528.1 L1831.9,502.6 L1832.4,477.2 L1832.8,455.6 L1833.2,441.2 L1833.6,436.2 L1834.1,443.1 L1834.5,462.7 L1834.9,490.9 L1835.4,522.3 L1835.8,550.6 L1836.2,570.1 L1836.6,577.1 L1837.0,573.2 L1837.4,562.1 L1837.8,545.0 L1838.2,524.1 L1838.6,501.8 L1839.0,480.9 L1839.4,463.8 L1839.8,452.6 L1840.2,448.8 L1840.7,454.2 L1841.1,469.5 L1841.5,491.5 L1842.0,516.0 L1842.4,538.0 L1842.8,553.2 L1843.2,558.7 L1843.7,552.6 L1844.1,535.4 L1844.5,510.7 L1845.0,483.2 L1845.4,458.4 L1845.8,441.3 L1846.2,435.2 L1846.7,439.6 L1847.1,452.4 L1847.5,471.4 L1847.9,493.9 L1848.4,516.4 L1848.8,535.5 L1849.2,548.2 L1849.7,552.7 L1850.1,547.6 L1850.5,533.2 L1850.9,512.4 L1851.4,489.4 L1851.8,468.7 L1852.2,454.3 L1852.7,449.2 L1853.1,452.6 L1853.5,462.3 L1853.9,477.2 L1854.3,495.6 L1854.7,515.1 L1855.1,533.4 L1855.5,548.4 L1855.9,558.1 L1856.3,561.5 L1856.7,556.1 L1857.1,541.2 L1857.5,519.5 L1858.0,495.5 L1858.4,473.9 L1858.8,458.9 L1859.3,453.6 L1859.7,457.9 L1860.1,470.0 L1860.5,487.6 L1861.0,507.1 L1861.4,524.6 L1861.8,536.7 L1862.3,541.1 L1862.7,536.7 L1863.1,524.4 L1863.6,506.7 L1864.0,487.0 L1864.4,469.2 L1864.8,457.0 L1865.3,452.6 L1865.7,454.4 L1866.1,459.6 L1866.6,467.1 L1867.0,475.5 L1867.4,483.0 L1867.8,488.2 L1868.3,490.0 L1868.7,484.0 L1869.1,467.7 L1869.6,445.4 L1870.0,423.0 L1870.4,406.7 L1870.9,400.7 L1871.3,403.8 L1871.7,412.5 L1872.1,425.6 L1872.6,441.1 L1873.0,456.5 L1873.4,469.6 L1873.9,478.3 L1874.3,481.4 L1874.7,476.5 L1875.1,462.9 L1875.6,443.2 L1876.0,421.3 L1876.4,401.6 L1876.9,388.0 L1877.3,383.1 L1877.7,386.9 L1878.1,397.3 L1878.6,412.5 L1879.0,429.4 L1879.4,444.5 L1879.9,455.0 L1880.3,458.8 L1880.7,456.2 L1881.1,448.8 L1881.6,437.7 L1882.0,424.6 L1882.4,411.6 L1882.8,400.5 L1883.3,393.1 L1883.7,390.5 L1884.1,395.6 L1884.5,409.7 L1885.0,430.1 L1885.4,452.7 L1885.8,473.2 L1886.3,487.3 L1886.7,492.3 L1887.1,489.2 L1887.5,480.3 L1887.9,466.6 L1888.3,449.8 L1888.7,432.0 L1889.1,415.2 L1889.5,401.5 L1889.9,392.6 L1890.3,389.5 L1890.7,393.8 L1891.2,405.9 L1891.6,423.4 L1892.0,442.8 L1892.4,460.3 L1892.9,472.4 L1893.3,476.7 L1893.7,472.8 L1894.2,461.9 L1894.6,446.2 L1895.0,428.7 L1895.4,412.9 L1895.9,402.0 L1896.3,398.1 L1896.7,400.9 L1897.2,408.9 L1897.6,420.3 L1898.0,433.0 L1898.4,444.4 L1898.9,452.3 L1899.3,455.2 L1899.7,452.0 L1900.2,443.0 L1900.6,430.1 L1901.0,415.8 L1901.4,402.8 L1901.9,393.9 L1902.3,390.7 L1902.7,395.9 L1903.2,410.5 L1903.6,431.6 L1904.0,455.0 L1904.4,476.1 L1904.9,490.7 L1905.3,495.9 L1905.7,491.6 L1906.2,479.4 L1906.6,461.1 L1907.0,439.5 L1907.4,417.9 L1907.9,399.6 L1908.3,387.4 L1908.7,383.1 L1909.1,388.9 L1909.6,405.0 L1910.0,428.3 L1910.4,454.2 L1910.9,477.5 L1911.3,493.7 L1911.7,499.4 L1912.1,495.4 L1912.5,483.7 L1912.9,465.8 L1913.3,443.9 L1913.7,420.6 L1914.1,398.7 L1914.5,380.8 L1914.9,369.1 L1915.3,365.1 L1915.7,372.8 L1916.2,394.4 L1916.6,425.6 L1917.0,460.2 L1917.5,491.4 L1917.9,512.9 L1918.3,520.7 L1918.7,514.3 L1919.2,496.5 L1919.6,470.8 L1920.0,442.3 L1920.5,416.6 L1920.9,398.9 L1921.3,392.5 L1921.8,398.7 L1922.2,416.0 L1922.6,441.1 L1923.0,468.9 L1923.5,493.9 L1923.9,511.3 L1924.3,517.4 L1924.8,510.1 L1925.2,489.5 L1925.6,459.8 L1926.0,426.8 L1926.5,397.0 L1926.9,376.4 L1927.3,369.1 L1927.8,376.1 L1928.2,396.0 L1928.6,425.9 L1929.0,461.1 L1929.5,496.3 L1929.9,526.1 L1930.3,546.1 L1930.7,553.1 L1931.1,546.1 L1931.5,526.2 L1931.9,496.4 L1932.3,461.3 L1932.7,426.2 L1933.1,396.4 L1933.5,376.5 L1933.9,369.5 L1934.4,379.2 L1934.8,406.5 L1935.2,445.9 L1935.7,489.7 L1936.1,529.1 L1936.5,556.4 L1936.9,566.1 L1937.4,559.9 L1937.8,542.4 L1938.2,516.2 L1938.6,485.3 L1939.1,454.4 L1939.5,428.2 L1939.9,410.7 L1940.3,404.5 L1940.8,418.2 L1941.2,455.4 L1941.6,506.3 L1942.1,557.2 L1942.5,594.5 L1942.9,608.1 L1943.4,601.8 L1943.8,583.9 L1944.2,557.0 L1944.6,525.4 L1945.1,493.7 L1945.5,466.8 L1945.9,448.9 L1946.3,442.6 L1946.8,451.5 L1947.2,476.4 L1947.6,512.4 L1948.1,552.3 L1948.5,588.3 L1948.9,613.3 L1949.4,622.2 L1949.8,612.0 L1950.2,583.4 L1950.6,542.1 L1951.1,496.2 L1951.5,454.9 L1951.9,426.3 L1952.4,416.1 L1952.8,425.7 L1953.2,452.5 L1953.6,491.2 L1954.1,534.1 L1954.5,572.8 L1954.9,599.6 L1955.4,609.1" stroke="#000" stroke-width="2.55"/>
<path d="M1331.5,494.0 L1332.2,506.4 L1333.0,477.0 L1333.8,519.3 L1334.5,466.5 L1335.2,534.5 L1336.0,456.0 L1336.8,561.5 L1337.5,441.6 L1338.2,605.0 L1339.0,419.4 L1339.8,656.6 L1340.5,392.0 L1341.2,666.1 L1342.0,362.0 L1342.8,675.7 L1343.5,286.0 L1344.2,685.2 L1345.0,303.5 L1345.8,682.5 L1346.5,347.5 L1347.2,667.5 L1348.0,385.0 L1348.8,652.5 L1349.5,416.2 L1350.2,635.2 L1351.0,435.0 L1351.8,606.3 L1352.5,453.8 L1353.2,577.5 L1354.0,471.4 L1354.8,548.7 L1355.5,488.6 L1356.2,519.8" stroke="#000" stroke-width="2.55"/>
<path d="M179.5,494.6 L180.2,494.1 L181.2,493.3 L182.3,492.4 L183.5,491.4 L184.7,490.4 L185.8,489.5 L187.0,488.4 L188.2,487.2 L189.4,486.0 L190.6,484.8 L191.7,483.6 L192.9,482.5 L194.2,481.7 L195.4,480.7 L196.5,479.4 L197.7,477.6 L199.0,474.2 L200.3,469.8 L201.5,465.4 L202.6,461.8 L203.9,458.2 L205.1,455.5 L206.6,453.9 L207.6,454.0 L208.8,454.7 L210.1,455.8 L211.3,456.7 L212.5,456.9 L213.8,456.2 L215.0,455.0 L216.2,453.3 L217.4,450.9 L218.7,447.7 L219.9,443.7 L221.1,439.6 L222.4,436.1 L223.6,433.2 L224.9,430.6 L226.1,428.5 L227.3,427.2 L228.7,427.4 L230.0,428.8 L231.3,430.2 L232.5,431.7 L233.8,433.0 L235.2,432.2 L236.4,428.5 L237.7,422.9 L239.0,417.5 L240.2,414.4 L241.5,415.3 L242.8,419.0 L244.1,422.3 L245.4,424.4 L246.7,426.1 L248.1,426.2 L249.3,424.2 L250.6,420.5 L252.0,416.4 L253.2,412.4 L254.5,407.5 L255.8,403.4 L257.0,401.5 L258.3,404.2 L259.6,409.9 L260.9,414.4 L262.1,415.7 L263.3,416.3 L264.6,416.4 L265.8,416.4 L267.1,416.1 L268.3,415.4 L269.6,414.7 L270.8,414.4 L272.0,414.5 L273.3,414.9 L274.5,415.5 L275.7,416.4 L277.0,417.6 L278.3,419.2 L279.5,420.9 L280.7,422.3 L282.1,424.0 L283.3,425.6 L284.6,426.2 L285.9,424.9 L287.3,422.6 L288.6,422.3 L289.9,425.8 L291.2,431.3 L292.5,436.1 L293.8,439.0 L295.2,441.2 L296.5,444.0 L297.8,448.6 L299.1,453.9 L300.4,457.9 L301.8,459.1 L303.1,459.0 L304.4,459.8 L305.7,462.6 L307.0,466.1 L308.3,469.7 L309.6,473.1 L310.9,476.5 L312.3,479.6 L313.4,481.2 L314.5,482.2 L315.7,483.9 L317.2,487.5 L318.2,490.3 L319.3,493.7 L320.5,497.5 L321.7,501.6 L322.9,506.0 L324.1,510.5 L325.2,515.0 L326.1,519.5 L327.6,529.9 L328.8,541.6 L329.9,551.9 L331.1,558.1 L332.3,558.7 L333.6,555.4 L334.8,550.3 L336.0,545.2 L337.4,538.2 L338.7,530.2 L340.0,523.5 L341.3,519.2 L342.6,516.2 L343.9,513.6 L345.2,511.2 L346.5,509.3 L347.9,507.7 L349.2,506.1 L350.5,504.9 L351.8,504.7 L353.1,506.2 L354.5,508.7 L355.8,510.6 L357.1,511.5 L358.4,511.8 L359.7,511.6 L361.0,510.6 L362.4,508.9 L363.7,507.7 L364.9,507.2 L366.2,507.0 L367.6,506.7 L368.7,506.3 L370.0,505.8 L371.2,505.2 L372.5,504.5 L373.6,503.7 L375.0,501.8 L376.2,499.7 L377.5,497.8 L378.7,496.7 L379.9,495.6 L381.2,494.9 L382.5,494.8 L383.7,495.6 L385.0,497.0 L386.2,498.6 L387.4,499.8 L388.8,500.2 L390.1,500.2 L391.3,500.8 L392.7,502.4 L394.0,504.5 L395.3,506.7 L396.6,508.9 L397.9,511.2 L399.2,512.6 L400.6,512.4 L401.9,511.3 L403.2,510.6 L404.5,510.8 L405.8,511.4 L407.2,512.6 L408.5,514.7 L409.8,517.3 L411.1,519.5 L412.4,520.9 L413.7,521.9 L415.1,522.5 L416.4,522.6 L417.7,522.3 L419.0,522.5 L420.3,523.4 L421.6,524.7 L423.0,526.4 L424.3,529.3 L425.6,532.7 L426.9,534.3 L428.2,533.0 L429.6,529.9 L430.9,527.4 L432.1,526.1 L433.4,525.3 L434.8,525.5 L435.9,526.5 L437.1,528.3 L438.4,530.2 L439.7,531.8 L440.8,532.4 L442.2,530.7 L443.5,527.4 L444.7,524.5 L445.9,522.8 L447.2,521.5 L448.7,520.5 L449.7,520.0 L451.0,519.7 L452.3,519.4 L453.5,519.1 L454.6,518.5 L456.0,517.1 L457.1,515.3 L458.5,513.6 L459.6,512.6 L460.9,511.6 L462.1,510.7 L463.4,510.0 L464.5,509.6 L465.9,510.3 L467.2,511.8 L468.4,512.6 L469.7,512.2 L470.9,511.2 L472.4,509.6 L473.5,508.2 L474.7,506.2 L476.0,504.2 L477.2,502.6 L478.3,501.7 L479.8,502.7 L481.0,505.1 L482.3,506.7 L483.6,506.5 L484.9,505.4 L486.2,503.7 L487.5,500.8 L488.8,497.2 L490.2,494.8 L491.5,494.9 L492.8,496.1 L494.1,496.8 L495.4,495.7 L496.6,494.1 L498.1,493.8 L499.2,495.0 L500.4,496.9 L501.7,499.1 L502.9,501.5 L504.0,503.7 L505.5,507.4 L506.7,511.0 L507.9,513.6 L509.3,514.6 L510.6,514.5 L511.9,513.6 L513.2,511.8 L514.5,509.1 L515.8,505.7 L517.2,501.7 L518.5,497.0 L519.8,491.9 L521.1,486.3 L522.4,480.2 L523.8,473.7 L524.9,468.4 L526.2,462.7 L527.4,457.0 L528.7,451.9 L530.0,447.2 L531.2,442.5 L532.5,438.7 L533.6,436.1 L535.1,435.5 L536.4,436.8 L537.6,438.1 L538.7,439.6 L540.0,440.1 L540.8,439.4 L541.8,438.1 L542.9,436.7 L544.0,435.2 L545.0,434.2 L546.1,433.2 L547.0,432.4 L548.0,431.9 L549.0,432.2 L550.0,433.1 L551.0,434.5 L552.0,436.2 L553.1,437.9 L554.0,439.2 L555.1,440.2 L556.1,440.9 L557.0,441.5 L558.0,442.2 L559.0,443.1 L560.0,444.2 L561.0,445.0 L562.0,445.2 L563.0,444.4 L564.0,443.0 L565.0,441.4 L566.0,440.2 L567.0,439.3 L568.0,438.5 L569.0,438.0 L570.0,438.2 L571.0,438.9 L572.0,440.2 L573.0,441.9 L574.0,444.2 L575.0,447.2 L576.0,450.8 L577.0,454.6 L578.0,458.2 L579.1,461.3 L580.1,464.1 L581.1,467.0 L582.0,470.2 L583.1,474.9 L584.0,480.0 L585.0,486.0 L586.0,491.8 L587.0,498.4 L588.0,504.8 L589.0,510.0 L590.1,513.7 L591.1,516.4 L592.1,518.4 L593.1,520.1 L594.1,521.3 L595.1,522.0 L596.1,522.4 L597.1,522.5 L598.1,522.4 L599.1,522.0 L600.1,521.3 L601.1,520.1 L602.1,518.0 L603.1,515.3 L604.1,512.5 L605.1,510.0 L606.3,506.9 L607.5,504.0 L608.7,503.0 L609.8,505.1 L610.9,509.2 L612.1,513.0 L613.0,515.6 L614.0,518.1 L615.1,520.4 L616.1,522.1 L617.1,523.3 L618.1,524.2 L619.1,524.3 L620.1,523.1 L621.1,518.7 L622.0,512.3 L623.1,506.0 L624.0,501.5 L625.0,496.8 L626.1,492.7 L627.1,490.0 L628.1,489.1 L629.2,489.5 L630.2,490.7 L631.1,492.0 L632.2,494.3 L633.1,497.2 L634.1,500.0 L635.1,502.8 L636.1,505.4 L637.1,507.0 L638.1,507.3 L639.1,506.6 L640.1,505.0 L641.1,502.8 L642.1,499.8 L643.1,496.0 L644.1,491.3 L645.1,485.9 L646.1,480.0 L647.1,473.8 L648.0,467.3 L649.1,460.2 L650.0,454.4 L651.0,448.2 L652.1,442.0 L653.1,436.2 L654.1,430.6 L655.2,425.2 L656.2,420.3 L657.1,416.2 L658.2,412.1 L659.1,409.3 L660.1,407.1 L661.1,405.9 L662.1,405.1 L663.1,404.6 L664.1,404.5 L665.1,404.8 L666.2,405.3 L667.2,406.4 L668.1,408.1 L669.2,412.0 L670.2,417.0 L671.1,422.2 L672.1,427.7 L673.1,433.5 L674.1,438.2 L675.1,441.5 L676.1,443.7 L677.1,444.2 L678.1,442.1 L679.1,438.3 L680.1,434.2 L681.1,431.1 L682.1,427.9 L683.2,424.7 L684.1,422.2 L685.2,419.5 L686.2,417.7 L687.1,417.2 L688.1,418.4 L689.1,421.0 L690.2,424.2 L691.2,428.1 L692.2,432.6 L693.2,436.2 L694.1,438.5 L695.1,439.9 L696.2,440.2 L697.1,439.4 L698.1,437.8 L699.1,435.9 L700.2,434.2 L701.2,432.6 L702.2,431.0 L703.2,429.5 L704.2,428.2 L705.2,426.6 L706.2,425.0 L707.2,424.0 L708.2,424.2 L709.2,427.1 L710.2,431.9 L711.2,436.2 L712.1,439.6 L713.1,442.6 L714.2,444.2 L715.1,444.0 L716.1,442.9 L717.2,441.5 L718.2,440.2 L719.2,439.0 L720.2,437.8 L721.3,436.8 L722.2,436.2 L723.2,436.8 L724.1,438.0 L725.2,438.2 L726.1,436.7 L727.2,434.4 L728.2,432.0 L729.2,430.2 L730.2,428.3 L731.2,427.1 L732.2,428.2 L733.1,431.4 L734.1,436.2 L735.2,441.5 L736.2,446.2 L737.2,450.4 L738.3,454.6 L739.3,458.1 L740.2,460.2 L741.2,460.4 L742.2,458.6 L743.2,456.2 L744.1,453.9 L745.1,450.9 L746.2,448.1 L747.2,446.2 L748.2,445.5 L749.2,445.7 L750.2,446.3 L751.2,447.2 L752.2,448.5 L753.2,450.4 L754.2,452.2 L755.2,453.2 L756.2,453.1 L757.2,452.4 L758.2,451.4 L759.2,450.2 L760.2,448.8 L761.2,447.1 L762.2,445.5 L763.2,444.2 L764.2,443.3 L765.2,442.6 L766.2,442.2 L767.2,442.2 L768.2,442.3 L769.2,442.7 L770.2,443.6 L771.2,445.2 L772.2,447.8 L773.2,451.1 L774.2,454.8 L775.2,458.2 L776.3,461.3 L777.4,464.3 L778.4,467.2 L779.2,470.2 L780.2,475.7 L781.2,482.0 L782.1,486.0 L783.1,490.5 L784.2,495.2 L785.2,500.0 L786.2,505.0 L787.2,510.3 L788.2,515.4 L789.2,520.1 L790.3,524.2 L791.3,527.9 L792.3,531.2 L793.3,534.1 L794.3,536.5 L795.3,538.4 L796.3,539.8 L797.3,540.5 L798.3,540.3 L799.3,539.4 L800.3,537.9 L801.3,536.1 L802.3,533.4 L803.3,530.1 L804.3,527.0 L805.3,525.1 L806.3,524.9 L807.3,525.8 L808.3,527.1 L809.3,528.1 L810.2,528.6 L811.2,529.1 L812.2,529.3 L813.3,529.1 L814.2,528.2 L815.3,527.0 L816.3,525.5 L817.3,524.1 L818.3,523.1 L819.3,522.2 L820.3,521.7 L821.3,521.3 L822.3,521.1 L823.3,521.1 L824.3,521.4 L825.3,521.6 L826.3,521.1 L827.3,519.5 L828.3,517.2 L829.3,514.9 L830.3,513.0 L831.3,512.1 L832.3,511.7 L833.3,511.2 L834.3,510.0 L835.3,507.8 L836.3,504.8 L837.3,502.0 L838.3,500.0 L839.3,499.4 L840.3,499.6 L841.3,500.0 L842.3,500.0 L843.3,499.6 L844.2,499.0 L845.2,498.1 L846.3,497.0 L847.3,495.9 L848.3,494.5 L849.3,492.9 L850.4,491.4 L851.3,490.0 L852.4,488.7 L853.3,487.6 L854.3,486.2 L855.3,484.0 L856.2,481.4 L857.2,478.1 L858.2,474.6 L859.2,471.2 L860.3,468.2 L861.3,466.5 L862.2,465.5 L863.2,464.6 L864.2,463.4 L865.3,461.4 L866.3,458.2 L867.4,453.3 L868.6,447.1 L869.8,440.2 L871.0,433.0 L872.0,426.1 L873.0,420.1 L874.2,412.3 L875.2,405.2 L876.1,399.1 L877.0,394.1 L878.1,389.5 L879.1,386.9 L880.0,386.1 L881.0,387.4 L881.9,390.5 L883.0,394.1 L884.0,396.8 L885.0,399.7 L886.0,402.9 L887.0,406.1 L888.0,409.7 L889.0,413.5 L890.0,417.1 L891.0,420.1 L892.0,422.6 L893.0,424.6 L894.0,425.9 L895.0,426.1 L896.0,424.9 L897.1,422.5 L898.1,419.7 L899.2,417.5 L900.0,416.5 L901.2,418.4 L902.0,422.5 L903.0,426.1 L904.0,428.1 L905.0,429.9 L906.0,431.3 L907.0,432.1 L908.0,431.9 L909.0,430.9 L910.1,430.0 L911.1,430.1 L912.0,432.1 L913.0,435.3 L914.0,438.3 L915.1,440.1 L916.0,440.1 L917.0,439.1 L918.1,437.8 L919.1,436.6 L920.1,436.1 L921.1,436.9 L922.1,438.5 L923.0,440.1 L924.1,441.1 L925.0,441.3 L926.0,441.2 L927.1,440.9 L928.1,440.5 L929.1,440.1 L930.1,439.4 L931.1,438.5 L932.1,437.8 L933.1,438.1 L934.1,439.9 L935.1,442.7 L936.1,445.7 L937.1,448.1 L938.1,450.2 L939.1,452.1 L940.1,453.3 L941.1,453.2 L942.1,450.8 L943.1,446.7 L944.1,442.6 L945.1,440.1 L946.1,439.9 L947.1,441.0 L948.1,442.6 L949.1,444.1 L950.1,445.8 L951.0,447.9 L952.0,449.6 L953.1,450.2 L954.0,449.4 L955.1,447.9 L956.1,445.9 L957.1,443.8 L958.1,442.1 L959.2,440.2 L960.2,438.3 L961.1,436.7 L962.1,436.1 L963.1,437.1 L964.1,439.1 L965.1,441.2 L966.1,442.1 L967.1,441.6 L968.0,440.1 L969.0,438.2 L970.1,436.1 L971.0,434.2 L972.0,431.7 L973.1,429.2 L974.1,427.2 L975.1,426.1 L976.1,426.3 L977.1,427.4 L978.1,429.0 L979.1,430.4 L980.1,431.1 L981.1,431.1 L982.1,430.7 L983.1,430.1 L984.1,429.2 L985.1,428.1 L986.1,426.7 L987.1,424.7 L988.1,422.7 L989.1,421.0 L990.1,420.1 L991.1,420.3 L992.1,421.2 L993.1,422.4 L994.1,423.6 L995.1,424.3 L996.1,424.1 L997.2,422.7 L998.2,420.2 L999.3,417.2 L1000.3,414.3 L1001.3,412.1 L1002.1,411.1 L1003.3,412.4 L1004.3,415.6 L1005.2,419.4 L1006.1,422.1 L1007.1,423.5 L1008.1,424.4 L1009.1,424.8 L1010.2,425.1 L1011.1,425.1 L1012.1,424.8 L1013.1,424.4 L1014.1,424.1 L1015.2,424.1 L1016.2,424.6 L1017.2,425.4 L1018.2,426.3 L1019.2,427.2 L1020.2,428.1 L1021.2,429.1 L1022.2,430.1 L1023.2,431.1 L1024.2,432.1 L1025.2,433.3 L1026.1,434.7 L1027.1,435.8 L1028.2,436.1 L1029.3,435.1 L1030.4,433.1 L1031.5,431.3 L1032.6,431.1 L1033.8,434.5 L1035.0,439.8 L1036.2,444.1 L1037.1,445.8 L1038.2,446.7 L1039.2,447.4 L1040.2,448.1 L1041.2,449.0 L1042.2,449.8 L1043.2,450.7 L1044.2,452.2 L1045.2,454.4 L1046.2,457.2 L1047.2,459.9 L1048.2,462.2 L1049.2,463.7 L1050.1,464.9 L1051.1,465.7 L1052.2,466.2 L1053.1,466.3 L1054.2,466.0 L1055.2,465.7 L1056.2,465.3 L1057.2,465.2 L1058.3,465.1 L1059.3,465.1 L1060.3,465.4 L1061.2,466.2 L1062.3,467.9 L1063.2,470.5 L1064.2,474.2 L1065.2,479.4 L1066.2,485.8 L1067.2,492.2 L1068.2,497.9 L1069.2,503.6 L1070.2,510.0 L1071.2,518.0 L1072.2,526.7 L1073.2,534.1 L1074.2,539.7 L1075.2,544.0 L1076.2,546.1 L1077.2,545.1 L1078.2,541.9 L1079.2,538.1 L1080.2,533.8 L1081.1,528.9 L1082.2,524.1 L1083.2,520.5 L1084.2,516.8 L1085.2,513.3 L1086.2,510.0 L1087.3,507.1 L1088.3,504.3 L1089.3,501.9 L1090.2,500.0 L1091.3,498.1 L1092.3,497.0 L1093.2,497.0 L1094.2,498.6 L1095.2,501.3 L1096.2,504.0 L1097.2,506.8 L1098.2,509.5 L1099.2,511.0 L1100.2,510.7 L1101.2,509.5 L1102.2,508.1 L1103.2,507.0 L1104.2,506.5 L1105.2,506.2 L1106.2,506.1 L1107.2,506.0 L1108.2,506.3 L1109.2,506.8 L1110.2,507.3 L1111.2,507.4 L1112.3,507.0 L1113.3,505.8 L1114.3,503.9 L1115.3,501.7 L1116.3,499.6 L1117.3,498.0 L1118.3,496.9 L1119.3,496.0 L1120.3,495.4 L1121.3,495.1 L1122.3,495.2 L1123.4,496.1 L1124.4,497.6 L1125.4,499.4 L1126.3,501.0 L1127.3,503.8 L1128.2,506.4 L1129.3,506.0 L1130.2,503.2 L1131.2,498.7 L1132.2,493.4 L1133.3,488.2 L1134.3,484.2 L1135.3,480.4 L1136.3,477.2 L1137.3,475.0 L1138.3,474.2 L1139.3,475.2 L1140.3,477.8 L1141.3,481.1 L1142.3,484.2 L1143.3,487.2 L1144.3,490.6 L1145.4,493.7 L1146.3,496.0 L1147.3,497.9 L1148.3,498.6 L1149.3,498.0 L1150.2,496.6 L1151.2,494.5 L1152.3,491.6 L1153.3,488.2 L1154.3,484.1 L1155.3,479.3 L1156.3,474.0 L1157.3,468.2 L1158.3,461.5 L1159.3,454.2 L1160.3,446.8 L1161.3,440.1 L1162.3,434.3 L1163.3,429.0 L1164.3,424.2 L1165.3,420.1 L1166.3,416.8 L1167.3,414.2 L1168.3,412.1 L1169.3,410.1 L1170.3,408.3 L1171.3,406.7 L1172.3,405.4 L1173.3,404.1 L1174.3,402.6 L1175.4,401.0 L1176.4,399.9 L1177.3,400.1 L1178.4,402.9 L1179.3,407.5 L1180.3,412.1 L1181.3,415.5 L1182.3,419.2 L1183.3,422.4 L1184.3,424.1 L1185.3,423.8 L1186.3,422.1 L1187.3,419.9 L1188.3,418.1 L1189.3,416.7 L1190.3,415.3 L1191.3,414.3 L1192.3,414.1 L1193.3,414.9 L1194.4,416.5 L1195.4,418.4 L1196.4,420.1 L1197.3,421.1 L1198.5,421.5 L1199.4,421.0 L1200.3,420.1 L1201.3,418.1 L1202.3,415.6 L1203.3,415.1 L1204.3,417.3 L1205.3,420.9 L1206.3,424.9 L1207.3,428.1 L1208.3,430.1 L1209.3,431.6 L1210.4,432.8 L1211.4,434.1 L1212.4,435.5 L1213.4,436.8 L1214.4,438.2 L1215.4,440.1 L1216.4,443.0 L1217.4,446.4 L1218.4,449.7 L1219.4,452.2 L1220.4,453.1 L1221.4,453.2 L1222.4,453.2 L1223.4,454.2 L1224.4,457.5 L1225.3,461.9 L1226.4,466.2 L1227.3,468.9 L1228.3,471.6 L1229.3,474.1 L1230.4,476.2 L1231.4,477.9 L1232.4,479.4 L1233.4,480.5 L1234.4,481.2 L1235.4,480.8 L1236.4,479.8 L1237.4,480.2 L1238.4,482.9 L1239.4,487.0 L1240.4,492.2 L1241.3,498.6 L1242.3,506.1 L1243.4,514.0 L1244.4,520.8 L1245.6,528.2 L1246.8,535.0 L1248.0,540.1 L1249.0,542.5 L1250.0,544.0 L1251.1,544.7 L1252.1,544.7 L1253.0,544.1 L1254.1,542.2 L1255.1,539.2 L1256.0,535.6 L1257.0,532.1 L1258.0,528.5 L1259.0,524.7 L1260.0,521.1 L1261.0,518.0 L1262.0,515.7 L1263.0,513.9 L1264.0,512.3 L1265.0,511.0 L1266.0,510.1 L1267.0,509.5 L1268.0,509.0 L1269.0,508.0 L1270.0,506.3 L1271.0,504.0 L1272.0,502.0 L1273.0,501.0 L1274.0,501.7 L1275.0,503.5 L1276.0,505.5 L1277.0,507.0 L1278.0,507.9 L1279.0,508.6 L1280.0,509.0 L1281.0,509.0 L1282.0,508.5 L1283.0,507.6 L1284.0,506.6 L1285.0,506.0 L1286.0,506.1 L1287.0,506.5 L1288.0,507.0 L1289.0,507.0 L1290.1,506.5 L1291.1,505.7 L1292.1,504.7 L1293.1,504.0 L1294.1,503.7 L1295.1,503.5 L1296.1,503.4 L1297.1,503.0 L1298.1,502.4 L1299.1,501.7 L1300.1,500.8 L1301.1,500.0 L1302.1,499.1 L1303.1,498.0 L1304.1,497.2 L1305.1,497.0 L1306.1,497.7 L1307.1,499.0 L1308.1,500.5 L1309.1,502.0 L1310.1,503.7 L1311.1,505.5 L1312.1,507.1 L1313.1,508.0 L1314.1,507.7 L1315.1,506.6 L1316.1,505.4 L1317.1,505.0 L1318.1,505.7 L1319.1,506.9 L1320.1,508.5 L1321.1,510.0 L1322.1,511.9 L1323.1,514.0 L1324.1,515.9 L1325.1,517.0 L1326.1,517.1 L1327.1,516.3 L1328.1,515.4 L1329.1,515.0 L1330.1,515.4 L1331.1,516.2 L1332.1,517.1 L1333.1,518.0 L1334.1,519.0 L1335.1,519.9 L1336.1,521.0 L1337.1,522.1 L1338.1,523.3 L1339.1,524.7 L1340.1,526.1 L1341.1,527.1 L1342.1,527.5 L1343.1,527.6 L1344.1,527.7 L1345.1,528.1 L1346.1,528.8 L1347.2,529.7 L1348.2,530.8 L1349.1,532.1 L1350.1,534.4 L1351.1,536.9 L1352.1,538.1 L1353.0,537.3 L1354.1,535.6 L1355.1,533.6 L1356.1,532.1 L1357.1,531.0 L1358.1,530.1 L1359.1,529.5 L1360.1,529.1 L1361.1,529.2 L1362.1,529.7 L1363.1,530.2 L1364.1,530.1 L1365.1,529.0 L1366.1,527.3 L1367.1,525.5 L1368.1,524.1 L1369.1,523.1 L1370.1,522.5 L1371.1,521.9 L1372.1,521.1 L1373.1,520.0 L1374.1,518.8 L1375.1,517.5 L1376.1,516.0 L1377.1,514.3 L1378.1,512.4 L1379.1,510.6 L1380.1,509.0 L1381.1,508.0 L1382.1,507.2 L1383.1,506.6 L1384.1,506.0 L1385.1,505.8 L1386.1,505.7 L1387.1,505.6 L1388.1,505.0 L1389.1,503.8 L1390.2,502.2 L1391.2,500.4 L1392.2,499.0 L1393.2,498.2 L1394.2,497.6 L1395.2,497.0 L1396.2,496.0 L1397.2,494.4 L1398.2,492.3 L1399.2,490.3 L1400.2,489.0 L1401.2,488.8 L1402.2,489.1 L1403.2,489.7 L1404.2,490.0 L1405.2,490.1 L1406.2,490.1 L1407.2,489.8 L1408.2,489.0 L1409.2,487.3 L1410.2,484.9 L1411.2,482.5 L1412.2,481.0 L1413.2,480.7 L1414.2,481.3 L1415.2,481.9 L1416.2,482.0 L1417.2,481.5 L1418.1,480.6 L1419.1,479.5 L1420.2,478.1 L1421.1,477.1 L1422.2,476.2 L1423.2,475.0 L1424.2,473.1 L1425.2,470.2 L1426.3,464.7 L1427.2,457.7 L1428.2,449.9 L1429.2,442.2 L1430.2,434.1 L1431.2,425.4 L1432.2,417.1 L1433.2,410.1 L1434.2,404.5 L1435.3,399.8 L1436.3,396.2 L1437.2,394.1 L1438.2,394.3 L1439.2,396.9 L1440.2,400.1 L1441.2,402.8 L1442.2,406.1 L1443.3,409.1 L1444.2,411.1 L1445.3,411.1 L1446.2,409.7 L1447.2,410.1 L1448.2,414.4 L1449.2,420.5 L1450.2,426.2 L1451.2,431.1 L1452.1,435.5 L1453.2,438.2 L1454.1,438.4 L1455.2,437.4 L1456.2,435.8 L1457.2,434.2 L1458.2,432.3 L1459.3,429.9 L1460.3,427.9 L1461.2,427.2 L1462.3,429.0 L1463.3,432.7 L1464.2,436.2 L1465.2,439.4 L1466.2,442.4 L1467.2,444.2 L1468.2,444.0 L1469.2,442.9 L1470.2,441.4 L1471.2,440.2 L1472.2,439.1 L1473.2,437.9 L1474.2,437.1 L1475.2,437.2 L1476.3,438.7 L1477.3,441.2 L1478.3,443.9 L1479.2,446.2 L1480.3,448.4 L1481.2,450.2 L1482.2,451.2 L1483.2,451.1 L1484.2,450.4 L1485.2,449.6 L1486.2,449.2 L1487.3,449.2 L1488.3,449.4 L1489.3,449.8 L1490.3,450.2 L1491.3,451.2 L1492.2,452.2 L1493.3,452.2 L1494.2,450.8 L1495.2,448.7 L1496.2,446.3 L1497.3,444.2 L1498.3,442.4 L1499.3,440.6 L1500.3,439.1 L1501.3,438.2 L1502.3,438.0 L1503.3,438.3 L1504.3,439.1 L1505.3,440.2 L1506.3,442.2 L1507.3,444.8 L1508.3,448.2 L1509.3,452.4 L1510.3,457.3 L1511.3,462.2 L1512.2,466.7 L1513.2,471.3 L1514.3,476.2 L1515.2,480.3 L1516.2,484.6 L1517.3,489.2 L1518.3,494.0 L1519.3,499.5 L1520.3,505.4 L1521.3,511.1 L1522.3,516.0 L1523.3,519.9 L1524.3,523.0 L1525.3,525.6 L1526.3,528.1 L1527.3,530.5 L1528.3,532.8 L1529.3,534.4 L1530.3,535.1 L1531.3,534.3 L1532.3,532.4 L1533.3,530.1 L1534.3,528.1 L1535.3,526.2 L1536.3,524.2 L1537.3,522.5 L1538.3,521.1 L1539.3,520.2 L1540.3,519.9 L1541.3,519.6 L1542.3,519.0 L1543.3,518.2 L1544.2,517.1 L1545.2,516.0 L1546.3,515.0 L1547.3,514.4 L1548.3,513.9 L1549.3,513.4 L1550.4,512.8 L1551.3,512.0 L1552.4,510.8 L1553.4,509.4 L1554.3,507.7 L1555.3,506.0 L1556.3,503.9 L1557.3,501.5 L1558.3,499.4 L1559.3,498.0 L1560.3,498.0 L1561.3,498.8 L1562.3,499.8 L1563.3,500.0 L1564.3,499.3 L1565.3,498.0 L1566.3,496.4 L1567.3,495.0 L1568.3,493.7 L1569.3,492.3 L1570.3,491.0 L1571.3,490.0 L1572.3,489.8 L1573.3,490.0 L1574.3,490.2 L1575.4,490.0 L1576.3,489.0 L1577.5,486.4 L1578.6,482.8 L1579.7,478.8 L1580.8,475.1 L1582.0,471.5 L1583.1,467.7 L1584.3,464.4 L1585.3,462.2 L1586.4,462.2 L1587.4,463.8 L1588.4,465.0 L1589.3,464.2 L1590.3,460.9 L1591.3,455.9 L1592.3,449.7 L1593.4,442.2 L1594.4,432.4 L1595.6,420.7 L1596.7,409.2 L1597.7,400.1 L1598.9,392.5 L1600.0,387.8 L1601.0,385.1 L1602.0,384.4 L1603.0,385.8 L1604.0,388.1 L1605.0,391.2 L1606.0,395.3 L1607.0,400.1 L1608.0,405.9 L1609.0,412.4 L1610.0,418.1 L1611.0,423.3 L1612.0,427.7 L1613.0,430.2 L1614.0,429.5 L1614.9,426.9 L1616.0,424.1 L1617.0,422.1 L1618.0,419.7 L1619.1,417.8 L1620.0,417.1 L1621.1,419.1 L1622.1,422.9 L1623.0,426.1 L1624.0,428.1 L1625.0,429.5 L1626.0,430.2 L1627.0,429.3 L1628.0,427.7 L1629.0,427.1 L1630.0,428.8 L1631.0,431.6 L1632.0,434.2 L1633.0,436.3 L1634.0,438.3 L1635.0,439.2 L1636.0,438.4 L1637.0,436.8 L1638.0,435.1 L1639.0,434.2 L1640.1,434.1 L1641.1,434.6 L1642.1,435.4 L1643.0,436.2 L1644.1,437.5 L1645.0,439.1 L1646.0,440.2 L1647.0,440.3 L1648.1,440.0 L1649.1,439.5 L1650.1,439.2 L1651.1,438.5 L1652.0,437.8 L1653.1,438.2 L1654.0,439.6 L1655.0,441.8 L1656.0,444.2 L1657.1,446.2 L1658.1,448.0 L1659.1,449.9 L1660.1,451.1 L1661.1,451.2 L1662.1,449.2 L1663.1,445.7 L1664.1,442.2 L1665.1,440.2 L1666.0,440.1 L1667.0,441.1 L1668.0,442.7 L1669.1,444.2 L1670.0,445.5 L1671.0,447.1 L1672.1,448.7 L1673.1,449.8 L1674.1,450.2 L1675.1,449.2 L1676.1,447.2 L1677.1,444.6 L1678.1,442.2 L1679.1,439.4 L1680.1,436.3 L1681.1,433.6 L1682.1,432.2 L1683.1,432.7 L1684.1,434.6 L1685.1,436.8 L1686.1,438.2 L1687.1,438.6 L1688.1,438.6 L1689.1,438.1 L1690.1,437.2 L1691.1,435.4 L1692.1,432.8 L1693.1,430.2 L1694.1,428.1 L1695.1,426.6 L1696.1,425.3 L1697.1,424.4 L1698.1,424.1 L1699.1,424.8 L1700.0,426.3 L1701.0,427.9 L1702.1,429.1 L1703.1,429.9 L1704.1,430.7 L1705.1,431.3 L1706.2,431.5 L1707.1,431.2 L1708.2,429.5 L1709.2,426.9 L1710.1,424.2 L1711.1,422.1 L1712.1,421.0 L1713.1,420.3 L1714.1,420.0 L1715.1,420.1 L1716.1,421.1 L1717.2,422.7 L1718.2,424.3 L1719.1,425.1 L1720.2,425.0 L1721.1,424.0 L1722.1,422.1 L1723.1,419.5 L1724.1,416.0 L1725.2,412.8 L1726.1,411.1 L1727.2,412.1 L1728.1,415.1 L1729.1,418.1 L1730.1,420.4 L1731.1,423.0 L1732.1,425.1 L1733.1,426.1 L1734.1,425.3 L1735.1,423.3 L1736.1,421.1 L1737.1,420.1 L1738.1,420.9 L1739.1,422.6 L1740.1,424.6 L1741.1,426.1 L1742.1,427.1 L1743.1,427.8 L1744.1,428.5 L1745.1,429.1 L1746.1,429.8 L1747.1,430.5 L1748.2,431.2 L1749.2,432.2 L1750.1,433.6 L1751.1,435.3 L1752.1,436.9 L1753.2,438.2 L1754.1,438.9 L1755.1,439.4 L1756.2,439.8 L1757.2,439.7 L1758.2,439.2 L1759.2,436.8 L1760.2,433.2 L1761.2,430.0 L1762.2,429.1 L1763.2,431.8 L1764.2,436.8 L1765.2,442.2 L1766.2,446.2 L1767.2,448.3 L1768.2,449.7 L1769.2,450.2 L1770.2,450.2 L1771.2,449.1 L1772.2,447.1 L1773.2,444.9 L1774.2,443.2 L1775.2,441.9 L1776.2,440.7 L1777.2,440.0 L1778.2,440.2 L1779.2,441.2 L1780.2,443.0 L1781.2,445.3 L1782.2,448.2 L1783.2,451.8 L1784.2,456.2 L1785.2,460.6 L1786.2,464.2 L1787.2,466.9 L1788.2,469.1 L1789.2,470.8 L1790.2,472.2 L1791.2,472.8 L1792.2,472.7 L1793.2,472.9 L1794.2,474.2 L1795.2,476.9 L1796.2,480.6 L1797.2,485.0 L1798.2,490.0 L1799.2,496.0 L1800.2,503.0 L1801.2,509.9 L1802.2,516.0 L1803.2,521.4 L1804.3,526.5 L1805.3,530.6 L1806.2,533.1 L1807.3,533.4 L1808.2,531.2 L1809.2,528.1 L1810.2,524.2 L1811.2,519.3 L1812.2,514.0 L1813.2,507.9 L1814.2,501.4 L1815.2,496.0 L1816.2,492.4 L1817.1,490.1 L1818.2,489.0 L1819.2,489.4 L1820.2,490.6 L1821.2,492.3 L1822.2,494.0 L1823.2,495.8 L1824.2,497.8 L1825.2,499.9 L1826.2,502.0 L1827.2,504.7 L1828.2,507.9 L1829.2,510.3 L1830.2,511.0 L1831.2,509.2 L1832.2,505.6 L1833.2,501.4 L1834.2,498.0 L1835.3,495.4 L1836.3,492.9 L1837.3,491.0 L1838.2,490.0 L1839.3,490.9 L1840.2,493.3 L1841.2,495.0 L1842.2,495.1 L1843.2,494.6 L1844.2,494.1 L1845.2,494.0 L1846.2,494.6 L1847.2,495.5 L1848.3,496.7 L1849.3,498.0 L1850.3,499.6 L1851.3,501.5 L1852.3,503.4 L1853.3,505.0 L1854.3,506.4 L1855.3,507.7 L1856.3,508.6 L1857.3,509.0 L1858.3,508.9 L1859.3,508.3 L1860.3,507.3 L1861.3,506.0 L1862.2,505.0 L1863.1,504.0 L1864.1,502.0 L1865.3,498.0 L1866.1,494.5 L1867.1,490.0 L1868.2,484.8 L1869.3,479.4 L1870.4,473.9 L1871.4,468.7 L1872.3,464.2 L1873.5,457.2 L1874.5,450.8 L1875.3,445.1 L1876.3,440.2 L1877.3,436.1 L1878.3,432.8 L1879.3,430.2 L1880.3,428.1 L1881.3,427.1 L1882.3,426.9 L1883.3,426.8 L1884.3,426.1 L1885.3,424.4 L1886.3,422.1 L1887.3,419.8 L1888.3,418.1 L1889.3,417.4 L1890.3,417.2 L1891.3,417.2 L1892.3,417.1 L1893.3,417.1 L1894.3,417.1 L1895.3,416.9 L1896.3,416.1 L1897.5,413.0 L1898.6,409.1 L1899.7,407.5 L1900.9,410.2 L1902.1,415.2 L1903.3,420.1 L1904.3,424.6 L1905.3,428.9 L1906.3,432.2 L1907.2,433.5 L1908.2,434.3 L1909.3,434.5 L1910.3,434.2 L1911.3,432.8 L1912.3,430.5 L1913.3,428.6 L1914.3,428.1 L1915.3,429.9 L1916.3,433.2 L1917.3,436.9 L1918.3,440.2 L1919.3,443.1 L1920.3,446.0 L1921.3,448.5 L1922.3,450.2 L1923.3,450.7 L1924.3,450.4 L1925.3,449.7 L1926.3,449.2 L1927.3,448.7 L1928.3,448.2 L1929.3,447.6 L1930.3,447.2 L1931.3,446.7 L1932.3,446.2 L1933.3,445.9 L1934.3,446.2 L1935.3,447.0 L1936.3,448.4 L1937.3,450.1 L1938.3,452.2 L1939.4,454.6 L1940.4,457.3 L1941.4,460.5 L1942.3,464.2 L1943.5,470.0 L1944.7,476.7 L1945.8,484.1 L1947.0,492.7 L1948.2,502.1 L1949.4,510.0 L1950.4,516.1 L1951.4,520.8 L1952.4,524.1 L1953.5,525.4 L1954.6,525.3 L1955.4,525.1" stroke="#ff0000" stroke-width="2.55"/>
<path d="M179.5,494.6 L180.1,494.0 L180.9,493.2 L181.8,492.3 L182.9,491.3 L184.0,490.2 L185.2,489.0 L186.4,487.7 L187.6,486.4 L188.7,485.0 L189.8,483.6 L190.9,481.8 L192.0,479.9 L193.2,477.9 L194.3,475.7 L195.4,473.6 L196.5,471.4 L197.6,469.4 L198.6,467.5 L199.6,465.8 L200.9,463.8 L202.1,462.1 L203.3,460.5 L204.4,459.1 L205.5,457.7 L206.5,456.3 L207.5,454.9 L208.9,453.0 L210.1,451.3 L211.2,449.7 L212.3,447.9 L213.5,446.0 L214.7,443.7 L215.9,441.0 L217.2,438.3 L218.3,435.9 L219.4,434.2 L220.8,432.4 L222.0,431.7 L223.4,432.2 L224.4,433.5 L225.6,435.8 L226.8,438.2 L228.1,439.9 L229.3,440.1 L230.5,438.4 L231.7,435.2 L232.9,431.4 L234.1,427.5 L235.2,424.3 L236.5,420.5 L237.7,416.6 L238.9,413.8 L240.2,413.4 L241.4,416.8 L242.7,423.0 L243.9,429.4 L245.1,433.2 L246.4,433.2 L247.6,430.3 L249.1,426.2 L250.1,423.0 L251.3,418.8 L252.5,414.5 L253.8,411.1 L255.0,409.4 L256.2,410.4 L257.4,413.4 L258.5,417.1 L259.7,420.5 L260.9,422.3 L262.1,422.1 L263.3,420.7 L264.5,418.8 L265.7,417.1 L266.8,416.4 L268.0,416.9 L269.2,418.1 L270.4,419.6 L271.6,421.2 L272.8,422.3 L274.0,422.9 L275.1,423.2 L276.3,423.4 L277.5,423.7 L278.7,424.3 L279.9,425.3 L281.2,426.7 L282.4,428.2 L283.6,429.5 L284.6,430.2 L286.1,429.7 L287.3,428.3 L288.6,428.2 L289.8,430.8 L291.1,434.7 L292.5,438.1 L293.6,439.4 L294.9,440.4 L296.1,441.3 L297.4,442.4 L298.5,444.0 L299.9,448.6 L301.2,454.1 L302.4,457.9 L303.7,458.1 L305.0,456.7 L306.4,456.9 L307.6,460.3 L308.9,465.3 L310.3,469.7 L311.5,472.2 L312.8,474.5 L314.1,476.3 L315.3,477.6 L316.5,476.7 L317.7,475.0 L319.2,477.6 L320.2,482.1 L321.4,488.5 L322.6,496.0 L323.9,503.8 L325.1,511.3 L326.1,517.5 L327.5,525.5 L328.8,532.8 L329.9,538.8 L331.1,543.2 L332.4,546.5 L333.7,547.2 L335.0,545.2 L336.2,541.3 L337.5,535.5 L338.8,529.1 L340.0,523.5 L341.4,516.6 L342.6,510.3 L343.9,506.7 L345.2,507.3 L346.4,510.6 L347.9,513.6 L348.9,514.9 L350.1,516.3 L351.3,517.5 L352.6,518.3 L353.8,518.5 L355.0,517.9 L356.2,516.7 L357.4,515.0 L358.5,513.3 L359.7,511.6 L360.9,510.1 L362.1,508.6 L363.4,507.1 L364.5,505.4 L365.7,503.7 L367.0,501.0 L368.2,497.8 L369.4,495.1 L370.6,493.8 L371.8,494.8 L373.0,497.2 L374.2,500.0 L375.5,501.7 L376.7,501.9 L377.8,501.4 L379.0,500.7 L380.3,500.3 L381.5,500.8 L382.6,502.4 L383.8,504.9 L385.0,507.7 L386.2,510.1 L387.4,511.6 L388.6,511.7 L389.7,510.7 L390.9,509.4 L392.1,508.5 L393.3,508.7 L394.4,510.1 L395.6,512.6 L396.8,515.5 L398.0,518.3 L399.2,520.5 L400.2,521.5 L401.6,520.1 L402.8,516.7 L404.0,513.2 L405.2,511.6 L406.4,512.8 L407.6,515.4 L408.9,518.9 L410.1,522.5 L411.4,526.7 L412.7,531.8 L413.9,536.1 L415.1,538.3 L416.4,536.3 L417.6,531.3 L419.0,527.4 L420.1,526.6 L421.3,526.2 L422.6,526.2 L423.8,526.3 L424.9,526.4 L426.3,527.2 L427.5,528.4 L428.9,528.4 L429.9,527.3 L431.0,525.5 L432.2,523.4 L433.5,521.6 L434.8,520.5 L435.8,520.5 L436.9,520.9 L438.1,521.7 L439.2,522.5 L440.4,523.1 L441.6,523.2 L442.7,522.5 L443.9,520.8 L445.0,518.2 L446.2,515.2 L447.4,511.9 L448.5,508.8 L449.6,506.3 L450.6,504.7 L451.9,504.2 L453.1,505.0 L454.1,506.3 L455.3,507.5 L456.6,507.7 L457.6,506.9 L458.7,505.6 L459.9,504.1 L461.1,502.4 L462.3,500.8 L463.4,499.5 L464.5,498.8 L465.8,498.8 L467.0,499.6 L468.1,500.8 L469.2,501.7 L470.4,501.7 L471.6,500.6 L472.8,498.5 L474.0,496.2 L475.1,494.5 L476.3,493.8 L477.5,495.0 L478.6,497.5 L479.7,500.5 L480.9,502.8 L482.3,503.7 L483.3,503.0 L484.4,501.4 L485.5,499.2 L486.7,496.8 L487.8,494.5 L489.0,492.8 L490.2,491.9 L491.3,491.9 L492.4,492.4 L493.5,493.5 L494.7,494.8 L495.8,496.2 L496.9,497.6 L498.1,498.8 L499.2,499.9 L500.3,501.1 L501.5,502.3 L502.6,503.5 L503.7,504.7 L504.8,505.7 L506.0,506.7 L507.1,507.7 L508.3,508.8 L509.5,509.8 L510.6,510.7 L511.8,511.3 L512.8,511.3 L513.9,510.6 L515.2,508.4 L516.5,504.9 L517.7,500.7 L518.8,496.2 L519.8,491.9 L521.2,484.9 L522.4,477.5 L523.8,469.7 L524.9,463.3 L526.2,456.4 L527.4,449.7 L528.7,444.0 L530.0,439.4 L531.2,435.6 L532.5,432.5 L533.6,430.2 L535.1,428.8 L536.4,428.9 L537.6,429.2 L538.7,429.5 L540.0,430.7 L540.8,431.4 L541.8,432.3 L542.8,433.3 L543.9,434.3 L545.0,435.3 L546.0,436.2 L547.1,437.2 L548.1,438.2 L549.1,439.1 L550.0,439.8 L551.0,440.2 L552.0,440.3 L553.1,440.1 L554.1,439.7 L555.1,439.1 L556.0,438.2 L557.1,436.5 L558.0,434.3 L559.0,432.0 L560.0,430.2 L561.0,429.1 L561.9,428.1 L563.0,427.3 L564.0,426.8 L565.0,426.6 L566.0,426.8 L567.0,427.3 L568.0,428.1 L569.0,429.1 L570.0,430.2 L571.1,431.4 L572.1,432.7 L573.2,434.2 L574.2,436.0 L575.0,438.2 L576.1,442.9 L577.0,448.6 L578.0,454.2 L578.9,458.0 L579.9,461.7 L580.9,465.7 L582.0,470.2 L583.0,473.8 L584.0,477.8 L585.0,482.0 L586.1,486.2 L587.1,490.3 L588.0,494.0 L589.2,499.3 L590.1,504.3 L591.0,508.7 L592.1,512.0 L593.0,513.6 L594.0,514.3 L595.0,514.6 L596.0,514.7 L597.1,515.0 L598.1,515.7 L599.1,516.3 L600.1,516.9 L601.1,517.5 L602.1,518.0 L603.1,518.9 L604.1,519.8 L605.0,520.3 L606.1,520.1 L607.0,518.7 L608.0,516.4 L609.1,513.9 L610.1,511.9 L611.1,511.0 L612.1,512.1 L613.1,514.6 L614.0,517.6 L615.1,520.1 L616.0,521.8 L617.1,523.7 L618.1,525.4 L619.1,526.3 L620.1,526.1 L621.2,523.7 L622.1,519.7 L623.1,514.8 L624.1,510.0 L625.1,505.1 L626.1,499.7 L627.1,494.5 L628.1,490.0 L629.1,486.1 L630.1,482.6 L631.1,480.0 L632.1,479.0 L633.1,480.3 L634.2,483.5 L635.2,487.1 L636.1,490.0 L637.1,493.0 L638.1,495.4 L639.1,496.0 L640.0,495.2 L640.9,493.4 L641.9,490.4 L643.1,486.0 L644.0,481.9 L645.0,476.7 L646.1,471.0 L647.2,465.0 L648.2,459.3 L649.1,454.2 L650.3,447.5 L651.2,441.3 L652.2,435.6 L653.1,430.2 L654.1,425.0 L655.1,420.1 L656.1,415.7 L657.1,412.2 L658.1,409.4 L659.1,407.3 L660.1,405.9 L661.1,405.1 L662.1,405.0 L663.1,405.4 L664.1,406.7 L665.1,409.1 L666.1,413.4 L667.1,419.1 L668.1,425.1 L669.1,430.2 L670.1,434.4 L671.1,438.3 L672.1,441.4 L673.1,443.2 L674.1,443.5 L675.1,442.5 L676.1,440.6 L677.1,438.2 L678.1,434.8 L679.1,430.5 L680.1,426.1 L681.1,422.2 L682.1,419.3 L683.2,416.4 L684.2,413.9 L685.3,412.0 L686.1,411.1 L687.3,412.5 L688.1,416.0 L689.1,420.2 L690.1,423.5 L691.1,427.3 L692.1,431.0 L693.2,434.2 L694.2,436.9 L695.2,439.4 L696.2,441.0 L697.2,441.2 L698.2,439.3 L699.2,435.9 L700.2,431.8 L701.2,428.2 L702.2,424.5 L703.2,420.6 L704.2,417.4 L705.2,416.2 L706.2,417.4 L707.2,420.5 L708.2,424.5 L709.2,428.2 L710.1,432.0 L711.1,436.2 L712.1,439.9 L713.2,442.2 L714.1,442.7 L715.1,442.3 L716.1,441.2 L717.2,439.8 L718.2,438.2 L719.2,436.2 L720.2,433.6 L721.3,430.8 L722.2,428.2 L723.2,426.2 L724.3,424.1 L725.2,422.5 L726.2,421.4 L727.2,421.2 L728.2,421.9 L729.2,423.4 L730.2,425.6 L731.2,428.2 L732.2,431.8 L733.2,436.3 L734.2,440.5 L735.2,443.2 L736.2,443.7 L737.2,442.9 L738.2,441.4 L739.2,440.2 L740.2,439.1 L741.2,437.7 L742.2,436.6 L743.2,436.2 L744.2,436.6 L745.1,437.7 L746.1,439.0 L747.2,440.2 L748.1,441.2 L749.1,442.4 L750.2,443.4 L751.2,444.2 L752.2,444.2 L753.2,443.3 L754.2,441.8 L755.2,439.9 L756.2,437.9 L757.2,436.2 L758.2,434.5 L759.2,432.8 L760.1,431.2 L761.2,429.9 L762.2,429.2 L763.2,429.1 L764.2,429.4 L765.3,430.0 L766.3,430.7 L767.3,431.5 L768.2,432.2 L769.4,432.8 L770.4,433.2 L771.3,434.2 L772.2,436.2 L773.2,439.7 L774.2,444.4 L775.2,449.5 L776.2,454.2 L777.2,458.1 L778.2,461.7 L779.2,465.6 L780.2,470.2 L781.2,476.1 L782.1,482.7 L783.1,489.6 L784.2,496.0 L785.1,500.1 L786.1,504.2 L787.1,508.2 L788.2,511.9 L789.2,515.2 L790.3,518.0 L791.3,520.2 L792.3,521.8 L793.3,522.9 L794.3,523.9 L795.3,524.9 L796.3,526.1 L797.3,528.0 L798.3,530.4 L799.3,532.5 L800.3,533.9 L801.3,534.1 L802.3,532.2 L803.3,528.8 L804.3,524.7 L805.3,521.1 L806.3,519.0 L807.3,519.2 L808.3,521.1 L809.3,523.2 L810.3,524.1 L811.3,522.9 L812.3,520.7 L813.3,518.4 L814.3,517.0 L815.3,517.2 L816.3,518.3 L817.3,519.5 L818.3,520.1 L819.3,519.8 L820.2,519.0 L821.2,518.1 L822.3,517.0 L823.2,516.2 L824.3,515.1 L825.3,514.1 L826.3,513.0 L827.3,512.0 L828.4,510.8 L829.4,509.4 L830.3,508.4 L831.3,508.0 L832.3,508.8 L833.2,510.4 L834.2,512.1 L835.3,513.0 L836.2,513.1 L837.3,512.7 L838.3,512.2 L839.3,511.6 L840.3,511.0 L841.4,510.9 L842.4,511.0 L843.3,510.6 L844.3,509.0 L845.3,505.7 L846.3,501.0 L847.3,496.1 L848.3,492.0 L849.3,489.0 L850.3,486.4 L851.3,484.4 L852.3,483.0 L853.3,483.3 L854.3,484.8 L855.2,485.7 L856.3,484.0 L857.3,479.4 L858.3,472.5 L859.3,464.9 L860.4,458.2 L861.3,454.2 L862.4,453.7 L863.4,456.2 L864.3,459.7 L865.3,462.2 L866.4,463.6 L867.4,465.0 L868.4,465.4 L869.3,464.2 L870.7,456.8 L872.0,444.1 L872.9,435.0 L873.9,423.9 L875.0,412.9 L876.0,404.1 L877.0,398.0 L878.0,393.4 L879.0,390.2 L880.0,388.1 L881.0,387.1 L882.0,387.4 L883.0,388.8 L884.0,391.1 L885.0,394.7 L886.0,399.5 L887.0,404.8 L888.0,410.1 L889.0,414.6 L890.0,419.6 L891.0,424.5 L892.0,428.6 L893.0,431.1 L894.0,431.7 L895.0,430.7 L896.0,428.9 L897.0,427.2 L898.0,426.1 L899.0,426.0 L900.0,426.3 L901.0,426.7 L902.0,427.1 L903.0,427.1 L904.1,426.6 L905.1,425.7 L906.1,424.7 L907.1,424.1 L908.0,424.1 L909.1,425.5 L910.1,427.8 L911.1,430.3 L912.1,432.1 L913.1,433.2 L914.1,433.9 L915.1,434.2 L916.1,434.1 L917.1,433.3 L918.1,431.8 L919.1,430.4 L920.1,430.1 L921.0,431.7 L921.9,434.5 L922.9,437.1 L924.1,438.1 L925.0,437.3 L926.0,435.3 L927.1,432.9 L928.1,430.5 L929.2,428.7 L930.1,428.1 L931.2,429.8 L932.1,433.3 L933.0,437.2 L934.1,440.1 L935.0,441.7 L936.0,443.0 L937.0,443.9 L938.1,444.4 L939.1,444.1 L940.1,442.7 L941.1,440.1 L942.1,437.2 L943.1,435.0 L944.1,434.1 L945.1,435.3 L946.1,437.8 L947.1,440.9 L948.1,444.0 L949.1,446.1 L950.1,447.5 L951.1,448.7 L952.1,449.4 L953.1,449.6 L954.1,449.1 L955.1,447.6 L956.1,445.1 L957.2,442.3 L958.2,439.7 L959.1,438.1 L960.2,437.6 L961.2,438.1 L962.1,439.1 L963.1,440.1 L964.1,441.7 L965.1,443.9 L966.1,445.7 L967.1,446.1 L968.1,444.8 L969.1,442.2 L970.1,439.1 L971.1,436.1 L972.1,432.8 L973.1,428.9 L974.0,425.9 L975.1,425.1 L976.1,427.3 L977.1,431.6 L978.1,436.6 L979.2,440.9 L980.1,443.1 L981.2,442.4 L982.2,439.3 L983.1,435.4 L984.1,432.1 L985.1,429.6 L986.1,427.0 L987.1,425.0 L988.1,424.1 L989.1,425.1 L990.0,427.6 L991.0,430.0 L992.1,431.1 L993.0,430.6 L994.0,429.4 L995.0,427.7 L996.1,426.0 L997.1,424.7 L998.1,424.1 L999.2,424.5 L1000.2,425.6 L1001.2,427.1 L1002.2,428.5 L1003.2,429.7 L1004.1,430.1 L1005.2,429.7 L1006.2,428.5 L1007.2,427.0 L1008.2,425.4 L1009.1,424.1 L1010.1,423.0 L1011.1,421.8 L1012.1,420.8 L1013.1,420.2 L1014.2,420.1 L1015.1,420.6 L1016.1,421.5 L1017.2,422.7 L1018.2,424.1 L1019.2,425.6 L1020.2,427.1 L1021.2,429.3 L1022.2,431.9 L1023.2,434.5 L1024.2,436.7 L1025.2,438.1 L1026.2,438.4 L1027.2,437.8 L1028.2,436.8 L1029.2,436.1 L1030.2,436.1 L1031.2,437.2 L1032.2,439.0 L1033.2,441.0 L1034.2,442.8 L1035.2,444.1 L1036.2,444.7 L1037.1,444.7 L1038.1,444.5 L1039.1,444.5 L1040.2,445.1 L1041.1,446.2 L1042.1,447.7 L1043.2,449.3 L1044.2,451.1 L1045.2,452.7 L1046.2,454.2 L1047.3,455.7 L1048.3,457.3 L1049.2,458.8 L1050.2,459.8 L1051.2,460.2 L1052.2,459.7 L1053.2,458.6 L1054.3,457.1 L1055.3,455.5 L1056.2,454.2 L1057.3,452.2 L1058.3,450.0 L1059.2,448.4 L1060.2,448.1 L1061.2,449.6 L1062.3,452.3 L1063.3,455.9 L1064.2,460.2 L1065.2,466.8 L1066.1,474.9 L1067.2,484.2 L1068.1,490.9 L1069.1,498.7 L1070.2,506.7 L1071.2,514.1 L1072.2,520.1 L1073.3,525.6 L1074.3,529.7 L1075.2,532.5 L1076.2,534.1 L1077.2,534.1 L1078.2,532.8 L1079.2,530.5 L1080.2,528.1 L1081.2,525.1 L1082.2,521.5 L1083.2,517.9 L1084.2,515.0 L1085.2,513.2 L1086.2,511.9 L1087.2,511.0 L1088.2,510.0 L1089.2,508.9 L1090.2,507.9 L1091.2,507.1 L1092.2,507.0 L1093.2,507.8 L1094.2,509.3 L1095.2,511.1 L1096.2,513.0 L1097.2,515.1 L1098.2,517.6 L1099.3,520.1 L1100.3,521.8 L1101.2,522.1 L1102.3,519.6 L1103.3,515.1 L1104.3,510.1 L1105.2,506.0 L1106.2,503.2 L1107.2,500.8 L1108.2,499.0 L1109.2,498.0 L1110.2,498.3 L1111.2,499.6 L1112.3,501.1 L1113.3,502.2 L1114.3,502.0 L1115.3,499.3 L1116.3,494.9 L1117.2,490.5 L1118.3,488.2 L1119.2,488.4 L1120.2,489.9 L1121.3,492.1 L1122.3,494.4 L1123.3,496.0 L1124.3,497.3 L1125.3,498.3 L1126.3,499.2 L1127.3,500.0 L1128.3,501.2 L1129.3,502.5 L1130.3,503.3 L1131.3,503.0 L1132.3,500.6 L1133.2,496.6 L1134.3,492.2 L1135.2,488.7 L1136.3,484.7 L1137.3,481.0 L1138.3,478.2 L1139.3,475.8 L1140.2,474.6 L1141.3,475.2 L1142.2,477.5 L1143.2,481.2 L1144.3,485.1 L1145.3,488.2 L1146.3,490.4 L1147.3,492.3 L1148.3,493.4 L1149.3,493.2 L1150.3,491.4 L1151.3,488.4 L1152.3,484.5 L1153.3,480.2 L1154.3,475.5 L1155.3,470.2 L1156.3,464.4 L1157.3,458.2 L1158.3,450.9 L1159.3,442.9 L1160.3,435.0 L1161.3,428.1 L1162.3,422.6 L1163.3,417.8 L1164.3,413.7 L1165.3,410.1 L1166.3,407.1 L1167.3,404.6 L1168.3,402.7 L1169.3,401.1 L1170.3,399.7 L1171.3,398.6 L1172.3,398.1 L1173.3,398.5 L1174.3,399.8 L1175.3,401.9 L1176.3,404.7 L1177.3,408.1 L1178.3,413.0 L1179.3,419.2 L1180.3,424.8 L1181.3,428.1 L1182.3,428.2 L1183.3,426.1 L1184.3,423.0 L1185.3,420.1 L1186.3,417.7 L1187.3,414.7 L1188.4,411.8 L1189.4,409.7 L1190.3,409.1 L1191.4,411.4 L1192.4,415.9 L1193.4,420.7 L1194.3,424.1 L1195.3,425.5 L1196.3,425.8 L1197.3,425.5 L1198.3,425.1 L1199.3,424.4 L1200.3,423.2 L1201.3,422.2 L1202.3,422.1 L1203.3,423.5 L1204.3,425.8 L1205.3,428.3 L1206.3,430.1 L1207.3,431.0 L1208.3,431.3 L1209.3,431.5 L1210.4,432.1 L1211.3,433.0 L1212.3,434.0 L1213.3,435.1 L1214.3,436.5 L1215.4,438.1 L1216.4,440.3 L1217.4,443.0 L1218.4,445.8 L1219.4,448.3 L1220.4,450.2 L1221.4,451.0 L1222.4,450.9 L1223.4,450.9 L1224.4,452.2 L1225.4,455.5 L1226.4,460.2 L1227.4,464.8 L1228.4,468.2 L1229.4,469.7 L1230.4,470.1 L1231.4,470.1 L1232.4,470.2 L1233.4,470.1 L1234.4,469.6 L1235.4,469.7 L1236.4,471.2 L1237.4,474.9 L1238.5,480.1 L1239.5,485.7 L1240.4,490.2 L1241.2,493.8 L1242.4,500.0 L1243.2,505.4 L1244.3,512.7 L1245.6,520.8 L1246.8,528.7 L1248.0,535.5 L1249.0,540.1 L1250.2,542.8 L1251.2,542.4 L1252.1,540.4 L1253.0,538.1 L1254.0,535.4 L1255.0,531.8 L1256.0,527.8 L1257.0,524.1 L1258.0,520.4 L1259.0,516.7 L1260.0,513.1 L1261.0,510.0 L1262.0,507.2 L1263.0,504.5 L1264.0,502.6 L1265.0,502.0 L1266.0,503.7 L1267.0,507.0 L1268.0,510.6 L1269.0,513.0 L1270.0,513.8 L1271.0,513.6 L1272.0,513.2 L1273.0,513.0 L1274.0,513.6 L1275.0,514.5 L1276.0,515.1 L1277.0,515.0 L1278.0,514.1 L1279.0,512.7 L1280.1,510.9 L1281.1,509.3 L1282.0,508.0 L1283.1,507.3 L1284.1,506.9 L1285.1,506.6 L1286.0,506.0 L1287.0,505.0 L1288.0,503.7 L1289.0,502.4 L1290.1,501.0 L1291.1,499.5 L1292.1,497.7 L1293.1,496.3 L1294.1,495.6 L1295.1,496.0 L1296.1,497.1 L1297.1,498.6 L1298.1,500.0 L1299.1,501.6 L1300.1,503.4 L1301.1,505.0 L1302.1,506.0 L1303.1,506.1 L1304.1,505.4 L1305.1,504.8 L1306.1,505.0 L1307.1,506.5 L1308.1,508.6 L1309.1,511.0 L1310.1,513.0 L1311.1,515.0 L1312.1,516.9 L1313.1,518.4 L1314.1,519.0 L1315.1,518.2 L1316.1,516.2 L1317.1,514.1 L1318.1,513.0 L1319.1,513.2 L1320.1,514.1 L1321.1,515.5 L1322.1,517.0 L1323.1,519.3 L1324.1,522.2 L1325.1,524.8 L1326.1,526.1 L1327.1,525.1 L1328.1,522.7 L1329.1,520.2 L1330.1,519.0 L1331.1,519.7 L1332.1,521.5 L1333.1,523.8 L1334.1,526.1 L1335.1,528.5 L1336.2,531.1 L1337.2,533.8 L1338.1,536.1 L1339.2,538.8 L1340.1,540.9 L1341.1,541.7 L1342.1,539.9 L1343.0,536.7 L1344.1,534.1 L1345.0,533.2 L1346.0,532.8 L1347.1,532.5 L1348.1,532.1 L1349.1,531.4 L1350.1,530.6 L1351.1,529.8 L1352.1,529.1 L1353.1,528.3 L1354.1,527.6 L1355.1,526.8 L1356.1,526.1 L1357.1,525.2 L1358.1,524.2 L1359.1,523.5 L1360.1,523.1 L1361.1,523.4 L1362.1,524.3 L1363.1,525.1 L1364.1,525.1 L1365.1,523.9 L1366.1,522.1 L1367.1,519.9 L1368.1,518.0 L1369.1,516.4 L1370.1,514.9 L1371.1,513.4 L1372.1,512.0 L1373.1,510.9 L1374.1,509.8 L1375.1,508.9 L1376.1,508.0 L1377.1,507.5 L1378.1,507.1 L1379.1,506.7 L1380.1,506.0 L1381.1,505.0 L1382.1,503.8 L1383.1,502.5 L1384.1,501.0 L1385.1,499.3 L1386.1,497.3 L1387.1,495.5 L1388.1,494.0 L1389.1,493.1 L1390.2,492.4 L1391.2,492.1 L1392.2,492.0 L1393.2,492.6 L1394.2,493.6 L1395.2,494.6 L1396.2,495.0 L1397.2,494.4 L1398.2,493.1 L1399.2,491.8 L1400.2,491.0 L1401.2,491.3 L1402.2,492.3 L1403.2,493.1 L1404.2,493.0 L1405.1,491.9 L1406.0,490.1 L1407.0,487.8 L1408.2,485.0 L1409.0,483.0 L1410.0,480.5 L1411.1,477.7 L1412.2,474.9 L1413.3,472.4 L1414.3,470.4 L1415.2,469.2 L1416.4,469.1 L1417.3,470.7 L1418.2,472.8 L1419.2,474.2 L1420.1,474.9 L1421.2,475.5 L1422.2,475.9 L1423.2,475.6 L1424.2,474.2 L1425.3,470.9 L1426.2,466.3 L1427.2,460.7 L1428.2,454.2 L1429.2,446.3 L1430.2,437.2 L1431.2,428.0 L1432.2,420.2 L1433.2,413.7 L1434.2,407.9 L1435.2,403.3 L1436.2,400.1 L1437.2,398.9 L1438.2,399.4 L1439.2,400.7 L1440.2,402.1 L1441.2,403.6 L1442.2,405.5 L1443.2,407.7 L1444.2,410.1 L1445.2,412.9 L1446.2,416.0 L1447.2,419.2 L1448.2,422.2 L1449.2,425.2 L1450.2,428.3 L1451.2,430.8 L1452.2,432.2 L1453.2,431.8 L1454.2,430.2 L1455.2,428.1 L1456.2,426.2 L1457.2,424.1 L1458.3,421.7 L1459.3,419.8 L1460.2,419.2 L1461.3,420.9 L1462.2,424.5 L1463.2,428.2 L1464.2,430.9 L1465.2,433.9 L1466.2,436.5 L1467.2,438.2 L1468.2,438.6 L1469.2,438.2 L1470.2,437.2 L1471.2,436.2 L1472.2,434.5 L1473.2,432.3 L1474.2,430.5 L1475.2,430.2 L1476.2,432.0 L1477.2,435.3 L1478.2,439.0 L1479.2,442.2 L1480.2,444.7 L1481.2,447.2 L1482.2,449.1 L1483.2,450.2 L1484.2,450.1 L1485.2,449.2 L1486.2,447.7 L1487.2,446.2 L1488.2,444.8 L1489.2,443.2 L1490.2,441.4 L1491.2,439.7 L1492.3,438.2 L1493.3,436.7 L1494.3,435.1 L1495.3,433.8 L1496.3,432.7 L1497.3,432.2 L1498.3,432.4 L1499.3,433.4 L1500.3,434.8 L1501.3,436.2 L1502.3,437.4 L1503.3,438.7 L1504.3,440.2 L1505.3,442.2 L1506.3,444.6 L1507.3,447.4 L1508.3,450.6 L1509.3,454.2 L1510.3,458.0 L1511.3,462.2 L1512.3,466.9 L1513.3,472.2 L1514.3,478.6 L1515.2,485.7 L1516.2,493.1 L1517.3,500.0 L1518.2,505.6 L1519.2,511.5 L1520.2,517.1 L1521.2,521.5 L1522.3,524.1 L1523.2,524.2 L1524.3,522.6 L1525.3,520.1 L1526.4,517.4 L1527.4,515.1 L1528.3,514.0 L1529.4,514.7 L1530.4,516.9 L1531.3,519.3 L1532.3,521.1 L1533.3,521.9 L1534.3,522.3 L1535.3,522.4 L1536.3,522.1 L1537.3,521.2 L1538.3,519.9 L1539.3,518.4 L1540.3,517.0 L1541.3,515.8 L1542.2,514.6 L1543.2,513.4 L1544.3,512.0 L1545.3,510.7 L1546.3,509.1 L1547.3,507.6 L1548.4,506.5 L1549.3,506.0 L1550.4,506.9 L1551.3,508.9 L1552.3,510.9 L1553.3,512.0 L1554.3,512.0 L1555.3,511.4 L1556.3,510.6 L1557.4,509.7 L1558.3,509.0 L1559.4,508.7 L1560.4,508.5 L1561.3,508.1 L1562.3,507.0 L1563.3,504.8 L1564.3,501.8 L1565.3,498.6 L1566.3,496.0 L1567.3,494.2 L1568.3,492.8 L1569.3,491.5 L1570.3,490.0 L1571.3,488.2 L1572.3,486.1 L1573.3,484.2 L1574.3,483.0 L1575.4,483.0 L1576.5,483.7 L1577.5,484.3 L1578.3,484.0 L1579.3,480.4 L1580.3,474.2 L1581.2,469.6 L1582.2,464.0 L1583.3,458.5 L1584.3,454.2 L1585.3,451.6 L1586.3,449.9 L1587.3,448.9 L1588.3,448.2 L1589.3,448.9 L1590.3,450.8 L1591.3,451.4 L1592.4,448.2 L1593.5,439.2 L1594.7,426.1 L1596.0,412.3 L1597.2,401.1 L1598.4,392.8 L1599.6,385.8 L1600.9,380.6 L1602.0,377.7 L1603.1,377.7 L1604.1,380.2 L1605.1,384.0 L1606.0,388.1 L1607.0,394.1 L1608.0,401.1 L1609.0,408.1 L1609.9,413.7 L1611.0,419.6 L1612.0,424.8 L1613.0,428.1 L1614.0,429.0 L1615.1,428.1 L1616.1,426.5 L1617.0,425.1 L1618.1,423.6 L1619.0,421.9 L1620.0,421.1 L1620.9,421.7 L1621.9,423.0 L1622.9,424.4 L1624.0,425.1 L1625.0,425.0 L1626.0,424.2 L1627.1,423.4 L1628.1,422.9 L1629.0,423.1 L1630.1,424.8 L1631.1,427.4 L1632.1,430.1 L1633.0,432.2 L1634.0,433.3 L1635.0,434.0 L1636.0,434.2 L1637.0,434.2 L1638.0,433.3 L1639.0,431.8 L1640.0,430.4 L1641.0,430.2 L1642.0,431.6 L1643.0,434.2 L1644.0,436.7 L1645.0,438.2 L1646.1,438.0 L1647.1,437.0 L1648.1,435.6 L1649.1,434.2 L1650.1,431.7 L1651.0,429.0 L1652.1,428.1 L1653.0,429.7 L1653.9,432.7 L1655.0,435.8 L1656.1,438.2 L1657.0,439.2 L1658.0,439.9 L1659.0,440.3 L1660.0,440.4 L1661.1,440.2 L1662.1,439.2 L1663.1,437.5 L1664.1,435.7 L1665.1,434.4 L1666.1,434.2 L1667.1,435.4 L1668.1,437.7 L1669.1,440.5 L1670.1,443.2 L1671.1,445.2 L1672.1,446.9 L1673.1,448.2 L1674.0,448.8 L1675.1,448.2 L1676.0,446.1 L1677.0,442.7 L1678.0,438.9 L1679.1,435.8 L1680.1,434.2 L1681.1,434.6 L1682.1,436.3 L1683.2,438.8 L1684.2,441.3 L1685.1,443.2 L1686.2,444.8 L1687.2,446.3 L1688.1,447.2 L1689.1,447.2 L1690.1,445.8 L1691.1,443.5 L1692.1,440.7 L1693.1,438.2 L1694.1,435.3 L1695.1,432.0 L1696.1,429.6 L1697.1,429.1 L1698.1,432.0 L1699.1,437.1 L1700.1,442.5 L1701.1,446.2 L1702.1,447.8 L1703.0,448.5 L1704.0,448.0 L1705.1,446.2 L1706.1,443.0 L1707.1,438.3 L1708.1,433.1 L1709.2,428.7 L1710.1,426.1 L1711.2,426.4 L1712.1,429.0 L1713.1,432.2 L1714.1,434.2 L1715.1,434.4 L1716.0,434.2 L1717.1,433.6 L1718.1,432.8 L1719.1,432.2 L1720.1,431.3 L1721.1,430.2 L1722.1,429.1 L1723.1,428.3 L1724.1,428.1 L1725.1,428.9 L1726.1,430.4 L1727.1,432.1 L1728.1,433.6 L1729.1,434.2 L1730.1,433.7 L1731.1,432.5 L1732.1,431.0 L1733.1,429.4 L1734.1,428.1 L1735.1,427.0 L1736.1,425.6 L1737.1,424.5 L1738.1,423.9 L1739.1,424.1 L1740.1,425.8 L1741.1,428.7 L1742.1,432.0 L1743.1,434.7 L1744.1,436.2 L1745.1,435.7 L1746.1,433.9 L1747.1,431.6 L1748.2,429.7 L1749.2,429.1 L1750.2,430.4 L1751.2,432.9 L1752.2,435.8 L1753.2,438.5 L1754.2,440.2 L1755.2,440.4 L1756.2,439.8 L1757.2,438.9 L1758.2,438.1 L1759.2,438.2 L1760.2,439.2 L1761.2,441.0 L1762.2,443.0 L1763.2,444.9 L1764.2,446.2 L1765.2,446.9 L1766.2,447.4 L1767.2,447.5 L1768.2,447.5 L1769.2,447.2 L1770.2,446.5 L1771.2,445.5 L1772.2,444.3 L1773.2,443.1 L1774.2,442.2 L1775.2,441.2 L1776.2,440.0 L1777.3,439.1 L1778.2,438.7 L1779.2,439.2 L1780.3,441.5 L1781.2,445.2 L1782.2,449.2 L1783.2,452.2 L1784.2,454.0 L1785.2,455.3 L1786.2,456.0 L1787.2,456.2 L1788.2,455.1 L1789.2,453.0 L1790.2,451.2 L1791.2,451.2 L1792.2,453.4 L1793.3,457.2 L1794.3,461.8 L1795.2,466.2 L1796.2,471.7 L1797.2,477.5 L1798.2,484.2 L1799.1,490.5 L1800.1,497.6 L1801.2,504.4 L1802.2,510.0 L1803.2,514.0 L1804.2,517.0 L1805.2,519.3 L1806.2,521.1 L1807.2,522.4 L1808.2,523.3 L1809.2,523.5 L1810.2,523.1 L1811.2,521.7 L1812.2,519.5 L1813.2,516.9 L1814.2,514.0 L1815.2,510.7 L1816.2,506.7 L1817.2,502.9 L1818.2,500.0 L1819.2,498.0 L1820.2,496.7 L1821.2,495.9 L1822.2,496.0 L1823.2,497.2 L1824.2,499.3 L1825.2,501.8 L1826.2,504.0 L1827.3,506.0 L1828.3,507.9 L1829.3,509.9 L1830.2,512.0 L1831.3,516.4 L1832.2,521.0 L1833.2,522.1 L1834.2,518.6 L1835.2,512.5 L1836.2,505.7 L1837.2,500.0 L1838.2,495.6 L1839.2,491.6 L1840.2,488.5 L1841.2,487.0 L1842.2,488.0 L1843.2,490.8 L1844.2,494.0 L1845.2,496.0 L1846.2,496.5 L1847.2,496.4 L1848.3,496.1 L1849.3,495.5 L1850.3,495.0 L1851.3,494.2 L1852.3,493.0 L1853.3,492.0 L1854.3,492.0 L1855.3,493.4 L1856.3,495.7 L1857.3,498.2 L1858.3,500.0 L1859.3,501.2 L1860.3,502.2 L1861.3,502.5 L1862.3,502.0 L1863.3,500.3 L1864.4,497.6 L1865.4,494.7 L1866.3,492.0 L1867.3,489.0 L1868.3,484.2 L1869.1,479.4 L1870.1,473.5 L1871.2,466.8 L1872.3,460.2 L1873.3,453.1 L1874.3,445.5 L1875.3,438.3 L1876.3,432.2 L1877.3,427.4 L1878.2,423.6 L1879.2,420.5 L1880.3,418.1 L1881.2,416.7 L1882.2,415.7 L1883.2,415.2 L1884.3,415.0 L1885.3,415.1 L1886.3,415.9 L1887.3,417.3 L1888.4,419.0 L1889.4,420.4 L1890.3,421.1 L1891.4,421.0 L1892.4,420.1 L1893.3,419.0 L1894.3,418.1 L1895.3,417.1 L1896.3,415.9 L1897.3,415.3 L1898.3,416.1 L1899.3,419.3 L1900.2,424.1 L1901.2,428.9 L1902.3,432.2 L1903.2,433.2 L1904.2,433.3 L1905.3,432.9 L1906.3,432.1 L1907.3,431.2 L1908.3,429.6 L1909.4,427.4 L1910.4,425.0 L1911.4,423.2 L1912.3,422.5 L1913.4,423.6 L1914.4,426.1 L1915.3,429.2 L1916.3,432.2 L1917.3,435.2 L1918.3,438.7 L1919.3,441.9 L1920.3,444.2 L1921.3,445.2 L1922.3,445.8 L1923.3,446.0 L1924.3,445.8 L1925.3,445.2 L1926.3,443.7 L1927.4,441.5 L1928.4,439.0 L1929.4,437.0 L1930.3,436.2 L1931.4,436.8 L1932.4,438.6 L1933.4,441.2 L1934.3,444.2 L1935.3,447.7 L1936.3,451.9 L1937.3,456.3 L1938.3,460.2 L1939.3,463.1 L1940.3,465.4 L1941.3,468.2 L1942.3,472.2 L1943.3,476.7 L1944.3,482.2 L1945.4,488.1 L1946.4,494.2 L1947.3,500.0 L1948.5,507.6 L1949.5,515.5 L1950.5,522.7 L1951.4,528.1 L1952.5,532.0 L1953.4,532.1 L1954.5,530.8 L1955.4,529.1" stroke="#7e0c56" stroke-width="1.6"/>
<path d="M179.5,494.6 L180.1,494.1 L180.9,493.4 L181.9,492.6 L183.0,491.8 L184.1,490.8 L185.3,489.8 L186.5,488.7 L187.7,487.7 L188.8,486.6 L189.8,485.5 L191.0,484.0 L192.3,482.4 L193.4,480.8 L194.5,479.0 L195.6,477.3 L196.7,475.5 L197.7,473.7 L199.0,470.9 L200.3,468.0 L201.5,465.0 L202.6,462.3 L203.6,459.8 L205.1,457.3 L206.3,455.4 L207.5,451.9 L208.8,445.5 L210.1,437.5 L211.5,430.2 L212.7,425.5 L214.0,421.1 L215.3,417.3 L216.4,414.4 L217.8,412.2 L219.1,411.5 L220.4,411.4 L221.7,411.9 L223.0,413.1 L224.3,414.4 L225.6,416.1 L226.9,417.9 L228.3,418.3 L229.5,417.3 L230.7,415.4 L231.9,413.0 L233.2,410.4 L234.3,407.9 L235.5,404.8 L236.7,401.7 L237.8,399.2 L238.8,398.0 L240.0,399.1 L241.1,402.6 L242.1,406.5 L243.4,410.8 L244.7,415.4 L246.1,418.3 L247.3,418.7 L248.5,418.1 L249.8,416.6 L251.0,414.4 L252.3,410.7 L253.6,405.6 L254.8,401.0 L256.0,398.6 L257.4,400.2 L258.7,404.7 L259.9,408.5 L261.4,411.4 L262.9,412.4 L264.1,410.9 L265.5,408.4 L266.8,407.5 L268.2,409.7 L269.5,413.4 L270.8,416.4 L272.0,417.1 L273.3,417.1 L274.7,418.3 L275.8,420.4 L277.0,423.2 L278.2,426.4 L279.5,429.5 L280.7,432.2 L281.9,434.4 L283.1,436.5 L284.3,438.4 L285.5,440.3 L286.6,442.1 L288.0,444.4 L289.3,446.8 L290.5,448.8 L291.5,450.0 L293.1,448.0 L294.5,447.0 L295.8,450.8 L297.2,456.7 L298.5,461.8 L299.9,467.4 L301.4,470.7 L302.7,470.1 L304.0,468.1 L305.4,467.7 L306.7,470.7 L307.9,475.4 L309.3,479.6 L310.3,480.8 L311.3,481.1 L312.5,482.5 L314.3,487.5 L315.1,490.6 L316.1,494.5 L317.2,499.0 L318.4,504.0 L319.6,509.2 L320.9,514.7 L322.1,520.1 L323.2,525.5 L324.3,530.5 L325.3,535.2 L326.1,539.3 L327.7,549.7 L328.8,559.3 L329.5,566.7 L330.5,570.5 L331.6,569.2 L332.7,563.9 L333.9,557.1 L335.0,551.1 L336.3,546.3 L337.5,541.5 L338.8,537.0 L340.0,533.4 L341.3,529.6 L342.5,527.1 L343.9,526.4 L345.0,527.5 L346.2,529.8 L347.5,532.5 L348.8,534.9 L349.8,536.3 L351.2,536.8 L352.4,535.9 L353.8,533.4 L354.9,530.6 L356.0,526.8 L357.3,522.7 L358.5,518.7 L359.7,515.6 L360.9,513.3 L362.2,511.4 L363.4,509.9 L364.6,508.7 L365.7,507.7 L367.0,506.8 L368.2,506.5 L369.6,505.7 L370.7,504.5 L371.8,503.0 L373.1,501.4 L374.3,499.9 L375.5,498.8 L376.8,498.2 L378.0,498.1 L379.2,498.1 L380.4,498.1 L381.5,497.8 L382.9,496.5 L384.0,495.0 L385.4,493.8 L386.5,493.5 L387.6,493.3 L388.9,493.3 L390.1,493.5 L391.3,493.8 L392.5,494.4 L393.7,495.2 L394.9,496.1 L396.1,497.3 L397.3,498.8 L398.5,500.7 L399.6,503.1 L400.8,505.7 L402.0,507.9 L403.2,509.6 L404.4,510.5 L405.6,510.6 L406.8,510.6 L407.9,510.8 L409.1,511.6 L410.3,513.6 L411.5,516.5 L412.7,519.4 L413.9,521.7 L415.1,522.5 L416.3,521.2 L417.5,518.5 L418.8,515.1 L419.9,511.8 L421.0,509.6 L422.5,508.1 L423.7,507.9 L424.9,508.7 L426.2,511.3 L427.4,515.0 L428.9,516.6 L429.9,515.3 L431.0,512.6 L432.2,509.4 L433.5,506.8 L434.8,505.7 L435.9,506.2 L437.0,507.5 L438.2,509.4 L439.4,511.5 L440.6,513.4 L441.7,514.9 L442.7,515.6 L444.0,515.0 L445.2,513.2 L446.4,511.0 L447.5,508.9 L448.7,507.7 L449.8,507.4 L451.0,507.6 L452.2,508.1 L453.4,508.8 L454.6,509.6 L455.8,510.8 L457.0,512.3 L458.1,513.9 L459.3,515.1 L460.5,515.6 L461.7,514.9 L462.9,513.2 L464.1,511.3 L465.3,509.9 L466.4,509.6 L467.6,511.3 L468.8,514.2 L470.0,517.6 L471.2,520.4 L472.4,521.5 L473.6,520.3 L474.7,517.6 L475.9,514.2 L477.1,511.2 L478.3,509.6 L479.5,509.8 L480.7,510.9 L481.9,512.7 L483.1,514.7 L484.2,516.6 L485.5,519.6 L486.6,523.4 L487.8,526.3 L489.2,526.4 L490.2,524.0 L491.3,519.7 L492.4,514.4 L493.6,509.2 L494.9,505.0 L496.1,502.7 L497.2,502.8 L498.3,504.3 L499.5,506.8 L500.7,509.6 L501.8,512.3 L503.0,514.5 L504.0,515.6 L505.3,515.3 L506.5,514.0 L507.6,511.9 L508.8,509.6 L509.9,507.7 L511.0,506.2 L512.1,505.0 L513.2,503.5 L514.4,501.6 L515.8,498.8 L516.8,496.7 L517.9,494.3 L519.0,491.6 L520.2,488.7 L521.5,485.6 L522.7,482.5 L523.8,479.5 L524.8,476.5 L525.7,473.7 L527.4,467.3 L528.6,460.9 L529.7,454.9 L530.7,450.0 L532.2,443.3 L533.6,440.1 L534.9,440.3 L536.4,442.0 L537.6,444.0 L538.7,447.3 L540.0,451.1 L540.8,452.9 L541.8,455.1 L542.9,457.1 L544.0,458.7 L545.0,459.2 L546.0,458.5 L547.0,456.8 L547.9,454.5 L548.9,452.2 L550.0,450.2 L551.0,448.7 L552.0,447.0 L553.1,445.4 L554.1,443.9 L555.1,442.8 L556.0,442.2 L557.2,442.2 L558.1,443.2 L559.1,444.6 L560.0,446.2 L561.0,447.9 L562.0,449.8 L563.0,452.0 L564.0,454.2 L565.0,456.6 L566.0,459.1 L567.0,461.7 L568.0,464.2 L569.0,466.9 L570.0,469.6 L571.0,472.1 L572.0,474.2 L573.0,475.3 L574.0,475.6 L575.0,476.2 L576.0,478.0 L577.0,480.7 L578.0,484.1 L579.0,488.0 L580.0,492.1 L581.0,496.0 L582.1,499.9 L583.1,504.0 L584.1,508.1 L585.1,512.1 L586.0,516.0 L587.1,520.9 L588.1,525.8 L589.0,530.3 L590.1,534.1 L591.1,537.2 L592.2,539.9 L593.3,541.7 L594.5,542.1 L595.6,540.6 L596.7,537.6 L597.9,533.9 L599.1,530.1 L600.0,526.5 L601.0,522.3 L602.0,518.1 L603.1,514.7 L604.1,513.0 L605.1,513.5 L606.1,515.6 L607.1,518.5 L608.1,521.6 L609.1,524.1 L610.1,526.7 L611.1,529.4 L612.1,531.4 L613.1,532.1 L614.1,530.7 L615.1,527.9 L616.1,524.6 L617.1,522.1 L618.1,520.1 L619.0,518.4 L620.0,517.3 L621.1,517.0 L622.0,518.1 L623.0,520.0 L624.0,522.3 L625.1,524.2 L626.1,525.1 L627.1,524.8 L628.1,523.8 L629.1,522.2 L630.1,520.3 L631.1,518.0 L632.1,515.4 L633.1,512.1 L634.1,508.7 L635.1,505.2 L636.1,502.0 L637.1,499.1 L638.1,496.3 L639.2,493.6 L640.2,491.2 L641.1,489.0 L642.2,487.2 L643.2,486.2 L644.1,484.8 L645.1,482.0 L646.1,477.1 L647.1,470.8 L648.1,464.1 L649.1,458.2 L650.1,453.2 L651.2,448.5 L652.2,444.2 L653.1,440.2 L654.2,435.2 L655.2,430.7 L656.1,427.2 L657.1,424.5 L658.1,422.9 L659.1,422.8 L660.1,424.7 L661.1,428.2 L662.1,432.2 L663.1,436.6 L664.0,441.6 L665.1,446.2 L666.1,449.6 L667.1,453.0 L668.1,455.8 L669.1,457.2 L670.1,456.9 L671.1,455.3 L672.1,452.9 L673.1,450.2 L674.1,447.8 L675.1,444.8 L676.1,441.8 L677.1,438.8 L678.1,436.2 L679.2,433.7 L680.2,431.2 L681.3,429.1 L682.3,427.6 L683.1,427.2 L684.3,429.1 L685.1,433.2 L686.1,438.2 L687.1,442.7 L688.1,448.1 L689.1,453.0 L690.2,456.2 L691.2,457.2 L692.2,456.8 L693.2,455.3 L694.2,453.2 L695.2,450.1 L696.2,445.9 L697.2,441.6 L698.2,438.2 L699.2,435.6 L700.2,433.5 L701.2,432.2 L702.2,432.2 L703.2,434.0 L704.2,437.2 L705.2,441.0 L706.2,444.2 L707.2,447.0 L708.2,449.9 L709.2,452.1 L710.2,453.2 L711.1,452.5 L712.1,450.6 L713.1,448.2 L714.2,446.2 L715.1,445.0 L716.1,443.9 L717.1,442.7 L718.2,441.6 L719.2,440.2 L720.2,438.3 L721.2,436.0 L722.3,433.8 L723.2,432.0 L724.2,431.2 L725.3,431.5 L726.2,433.0 L727.2,435.3 L728.2,438.2 L729.2,442.6 L730.1,448.2 L731.1,453.4 L732.2,456.2 L733.1,456.0 L734.2,454.1 L735.2,451.4 L736.2,448.5 L737.2,446.2 L738.3,443.8 L739.3,441.4 L740.2,439.4 L741.2,438.2 L742.2,438.3 L743.2,439.4 L744.2,440.6 L745.2,441.2 L746.2,441.0 L747.1,440.4 L748.1,439.4 L749.2,438.2 L750.1,436.8 L751.1,435.2 L752.2,433.4 L753.2,431.7 L754.2,430.2 L755.2,428.8 L756.2,427.5 L757.2,426.4 L758.2,425.5 L759.2,425.2 L760.2,425.3 L761.2,426.0 L762.2,426.9 L763.2,428.0 L764.2,429.2 L765.2,430.4 L766.3,431.8 L767.3,433.4 L768.3,434.9 L769.2,436.2 L770.3,437.3 L771.3,438.2 L772.3,439.3 L773.2,441.2 L774.2,444.2 L775.2,448.0 L776.2,452.1 L777.2,456.2 L778.3,460.2 L779.3,464.3 L780.3,468.3 L781.2,472.2 L782.2,476.7 L783.1,480.9 L784.2,486.0 L785.1,490.1 L786.2,494.9 L787.2,499.8 L788.3,504.3 L789.2,508.0 L790.3,511.5 L791.3,514.0 L792.3,515.9 L793.3,517.0 L794.3,517.0 L795.3,515.9 L796.3,514.9 L797.3,515.0 L798.3,517.0 L799.3,520.2 L800.3,523.5 L801.3,526.1 L802.3,527.6 L803.3,528.7 L804.3,529.5 L805.3,530.1 L806.3,530.2 L807.3,529.9 L808.3,529.7 L809.3,530.1 L810.3,531.5 L811.3,533.6 L812.3,535.5 L813.3,536.1 L814.3,534.7 L815.3,532.0 L816.3,529.1 L817.3,527.1 L818.3,526.0 L819.3,525.4 L820.3,525.4 L821.3,526.1 L822.3,528.0 L823.3,530.9 L824.3,533.6 L825.3,535.1 L826.3,534.5 L827.3,532.6 L828.3,530.5 L829.3,529.1 L830.3,528.5 L831.3,528.3 L832.3,528.5 L833.3,529.1 L834.3,530.5 L835.3,532.6 L836.3,534.5 L837.3,535.1 L838.3,533.9 L839.3,531.7 L840.3,528.9 L841.3,526.1 L842.3,523.2 L843.3,520.1 L844.3,517.0 L845.3,514.0 L846.3,511.5 L847.3,509.3 L848.3,506.9 L849.3,504.0 L850.3,500.2 L851.3,495.7 L852.3,491.4 L853.3,488.0 L854.3,486.4 L855.3,485.8 L856.2,485.1 L857.3,483.0 L858.3,479.7 L859.3,475.2 L860.3,470.4 L861.4,465.8 L862.3,462.2 L863.4,459.1 L864.4,456.8 L865.4,455.3 L866.3,454.2 L867.6,454.9 L868.8,456.6 L870.0,455.2 L871.0,450.5 L872.0,443.8 L873.0,436.0 L874.0,428.1 L875.0,419.7 L876.0,410.6 L876.9,401.7 L878.0,394.1 L879.0,388.9 L880.0,384.0 L881.0,379.9 L882.1,377.0 L883.0,375.7 L884.1,376.7 L885.2,380.0 L886.1,384.8 L887.0,390.1 L888.1,398.6 L889.1,408.7 L890.0,418.1 L891.0,426.4 L892.0,434.1 L893.0,440.1 L893.9,444.0 L894.8,446.4 L896.0,447.7 L896.9,448.2 L897.9,448.5 L898.9,448.6 L900.0,448.4 L901.1,447.9 L902.0,447.1 L903.1,445.3 L904.2,442.6 L905.2,439.7 L906.2,437.3 L907.0,436.1 L908.2,437.3 L909.0,440.6 L910.1,444.1 L911.0,446.9 L912.0,450.1 L913.0,452.8 L914.1,454.2 L915.1,453.4 L916.1,451.2 L917.1,448.7 L918.1,447.1 L919.1,447.5 L919.9,448.8 L921.1,449.1 L921.9,448.2 L923.0,446.8 L924.0,445.0 L925.1,443.4 L926.1,442.1 L927.1,441.1 L928.1,440.4 L929.1,440.0 L930.1,440.1 L931.0,441.2 L932.0,443.1 L933.0,444.7 L934.1,445.1 L935.0,444.3 L936.0,442.6 L937.0,440.6 L938.1,438.3 L939.1,436.1 L940.1,433.7 L941.1,430.8 L942.2,428.0 L943.1,425.9 L944.1,425.1 L945.2,426.5 L946.1,429.8 L947.1,433.4 L948.1,436.1 L949.1,437.8 L950.1,439.0 L951.1,439.6 L952.1,439.1 L953.1,437.2 L954.2,434.1 L955.2,430.8 L956.1,428.1 L957.2,425.5 L958.1,423.5 L959.1,423.1 L960.1,425.6 L961.0,429.8 L962.1,433.1 L963.0,434.7 L964.0,436.0 L965.1,436.6 L966.1,436.1 L967.1,434.0 L968.1,430.6 L969.1,427.0 L970.1,424.1 L971.1,422.1 L972.1,420.5 L973.1,419.4 L974.1,419.1 L975.1,420.1 L976.1,422.0 L977.1,424.0 L978.1,425.1 L979.1,425.2 L980.1,424.6 L981.1,423.6 L982.1,422.1 L983.1,420.3 L984.1,417.9 L985.1,415.3 L986.2,413.2 L987.1,412.1 L988.2,412.6 L989.1,414.4 L990.1,416.5 L991.1,418.1 L992.1,419.0 L993.1,419.7 L994.1,420.3 L995.1,420.5 L996.1,420.1 L997.2,418.7 L998.2,416.4 L999.2,413.9 L1000.2,411.9 L1001.1,411.1 L1002.2,412.4 L1003.2,415.4 L1004.1,418.4 L1005.1,420.1 L1006.3,419.5 L1007.5,417.6 L1008.7,415.7 L1009.7,415.1 L1011.0,417.2 L1012.0,420.8 L1013.2,424.1 L1014.1,426.0 L1015.2,427.7 L1016.2,429.1 L1017.2,430.1 L1018.2,430.2 L1019.1,429.6 L1020.2,430.1 L1021.1,431.9 L1022.1,434.5 L1023.1,437.4 L1024.2,440.1 L1025.2,442.8 L1026.2,445.5 L1027.2,448.1 L1028.2,450.2 L1029.2,451.5 L1030.2,452.4 L1031.2,453.2 L1032.2,454.2 L1033.2,455.8 L1034.2,457.8 L1035.2,459.5 L1036.2,460.2 L1037.2,458.9 L1038.2,456.3 L1039.2,453.9 L1040.2,453.2 L1041.2,454.7 L1042.2,457.7 L1043.2,461.1 L1044.2,464.2 L1045.2,467.0 L1046.1,469.9 L1047.1,472.2 L1048.2,473.2 L1049.1,472.5 L1050.2,470.8 L1051.2,468.5 L1052.2,466.1 L1053.2,464.2 L1054.3,462.0 L1055.3,459.8 L1056.2,458.0 L1057.2,457.2 L1058.2,457.4 L1059.3,458.3 L1060.3,460.0 L1061.2,462.2 L1062.3,466.0 L1063.3,470.7 L1064.2,476.2 L1065.2,485.5 L1066.2,496.0 L1067.1,503.9 L1068.2,512.3 L1069.2,520.1 L1070.2,526.9 L1071.2,533.1 L1072.2,538.1 L1073.2,541.7 L1074.1,544.0 L1075.2,545.1 L1076.1,544.5 L1077.2,542.8 L1078.2,541.0 L1079.2,540.1 L1080.2,540.4 L1081.2,541.5 L1082.2,542.6 L1083.2,543.1 L1084.2,542.7 L1085.2,542.0 L1086.3,541.1 L1087.3,540.0 L1088.2,539.1 L1089.3,538.0 L1090.3,536.9 L1091.3,535.7 L1092.2,534.1 L1093.2,531.8 L1094.2,529.1 L1095.2,526.4 L1096.2,524.1 L1097.2,522.2 L1098.2,520.7 L1099.2,519.4 L1100.2,518.0 L1101.2,516.7 L1102.2,515.5 L1103.2,514.3 L1104.2,513.0 L1105.2,511.9 L1106.2,510.7 L1107.3,509.4 L1108.3,508.2 L1109.2,507.0 L1110.3,505.5 L1111.3,503.8 L1112.3,502.6 L1113.3,502.0 L1114.2,503.0 L1115.2,505.0 L1116.2,506.7 L1117.3,507.0 L1118.2,505.6 L1119.2,503.0 L1120.3,500.0 L1121.3,497.2 L1122.3,495.2 L1123.3,494.0 L1124.3,493.7 L1125.3,493.6 L1126.3,493.2 L1127.2,492.0 L1128.2,490.4 L1129.2,489.2 L1130.3,489.2 L1131.2,490.7 L1132.2,493.4 L1133.3,496.3 L1134.3,498.8 L1135.3,500.0 L1136.3,499.5 L1137.3,497.5 L1138.3,494.9 L1139.3,492.2 L1140.3,489.5 L1141.2,486.4 L1142.2,483.3 L1143.3,480.2 L1144.2,477.6 L1145.3,474.8 L1146.3,472.1 L1147.3,469.8 L1148.3,468.2 L1149.4,467.5 L1150.4,467.8 L1151.3,468.3 L1152.3,468.2 L1153.3,467.6 L1154.3,466.8 L1155.3,465.2 L1156.3,462.2 L1157.3,457.1 L1158.3,450.5 L1159.3,443.3 L1160.3,436.1 L1161.3,428.9 L1162.3,421.3 L1163.3,414.1 L1164.3,408.1 L1165.3,403.6 L1166.4,400.1 L1167.4,397.4 L1168.3,395.1 L1169.3,392.6 L1170.3,391.1 L1171.3,391.1 L1172.3,392.3 L1173.3,394.3 L1174.4,397.1 L1175.3,400.1 L1176.4,405.1 L1177.4,410.9 L1178.3,416.1 L1179.3,420.7 L1180.2,424.7 L1181.3,427.1 L1182.3,427.5 L1183.3,426.9 L1184.3,425.7 L1185.3,424.1 L1186.3,421.6 L1187.4,418.3 L1188.4,415.4 L1189.3,414.1 L1190.4,415.9 L1191.3,419.9 L1192.3,424.1 L1193.3,427.2 L1194.3,430.6 L1195.3,433.8 L1196.3,436.1 L1197.3,437.2 L1198.3,437.4 L1199.3,437.4 L1200.3,438.1 L1201.3,440.0 L1202.3,442.5 L1203.3,444.8 L1204.3,446.1 L1205.3,445.9 L1206.3,444.6 L1207.4,443.2 L1208.4,442.1 L1209.3,442.1 L1210.4,444.1 L1211.5,447.3 L1212.4,450.9 L1213.4,454.2 L1214.4,458.1 L1215.3,461.9 L1216.4,464.2 L1217.3,464.0 L1218.3,462.7 L1219.3,461.4 L1220.4,461.2 L1221.4,462.7 L1222.4,465.2 L1223.4,468.0 L1224.4,470.2 L1225.4,471.7 L1226.4,472.9 L1227.4,473.7 L1228.4,474.2 L1229.3,473.9 L1230.3,473.0 L1231.3,472.3 L1232.4,472.2 L1233.3,472.7 L1234.4,473.5 L1235.5,474.7 L1236.5,476.2 L1237.4,478.2 L1238.5,482.2 L1239.5,487.2 L1240.4,494.1 L1241.3,503.6 L1242.3,514.8 L1243.4,526.1 L1244.4,534.6 L1245.7,543.6 L1246.9,551.8 L1248.0,558.1 L1249.3,563.1 L1250.5,565.5 L1251.6,565.7 L1252.7,563.6 L1253.8,559.3 L1255.0,554.1 L1256.0,549.5 L1257.0,544.2 L1258.0,538.8 L1259.0,534.1 L1260.0,530.0 L1261.1,526.2 L1262.1,523.1 L1263.0,521.1 L1264.1,520.3 L1265.0,521.2 L1266.0,523.1 L1267.0,525.5 L1268.0,528.7 L1269.0,531.9 L1270.0,534.1 L1271.0,534.9 L1272.0,534.9 L1273.0,534.3 L1274.0,533.1 L1275.0,531.0 L1276.0,528.1 L1277.0,525.0 L1278.0,522.1 L1279.0,519.3 L1280.0,516.6 L1281.0,514.1 L1282.0,512.0 L1283.0,510.5 L1284.0,509.4 L1285.0,508.5 L1286.0,508.0 L1287.0,508.0 L1288.0,508.4 L1289.1,508.9 L1290.1,509.2 L1291.1,509.0 L1292.1,508.0 L1293.1,506.3 L1294.1,504.6 L1295.1,503.0 L1296.1,501.7 L1297.1,500.5 L1298.1,499.5 L1299.1,499.0 L1300.0,499.4 L1301.0,500.4 L1302.0,501.5 L1303.1,502.0 L1304.0,501.9 L1305.0,501.4 L1306.0,500.7 L1307.1,500.2 L1308.1,500.0 L1309.1,500.4 L1310.1,501.2 L1311.1,502.0 L1312.1,502.7 L1313.1,503.0 L1314.1,502.6 L1315.1,501.6 L1316.1,500.6 L1317.1,500.0 L1318.1,500.0 L1319.1,500.3 L1320.1,501.0 L1321.1,502.0 L1322.1,503.6 L1323.1,505.7 L1324.1,508.0 L1325.1,510.0 L1326.1,512.0 L1327.1,514.0 L1328.1,515.8 L1329.1,517.0 L1330.1,517.6 L1331.1,517.5 L1332.1,517.3 L1333.1,517.0 L1334.1,516.6 L1335.1,515.8 L1336.1,515.4 L1337.1,516.0 L1338.1,518.6 L1339.1,522.5 L1340.1,526.2 L1341.1,528.1 L1342.1,527.4 L1343.1,525.2 L1344.1,522.4 L1345.1,520.1 L1346.1,518.1 L1347.2,516.2 L1348.2,514.7 L1349.1,514.0 L1350.1,515.3 L1351.1,517.9 L1352.1,519.0 L1353.0,518.0 L1354.1,516.0 L1355.1,513.7 L1356.1,512.0 L1357.1,511.0 L1358.1,510.2 L1359.1,509.8 L1360.1,510.0 L1361.1,511.4 L1362.1,513.6 L1363.1,515.8 L1364.1,517.0 L1365.1,517.0 L1366.1,516.0 L1367.1,514.9 L1368.1,514.0 L1369.1,513.5 L1370.1,513.0 L1371.1,512.8 L1372.1,513.0 L1373.1,514.0 L1374.1,515.6 L1375.1,517.1 L1376.1,518.0 L1377.2,518.0 L1378.2,517.5 L1379.2,516.7 L1380.1,516.0 L1381.2,515.0 L1382.1,514.0 L1383.1,514.0 L1384.1,515.5 L1385.1,517.9 L1386.1,520.1 L1387.1,521.1 L1388.1,519.8 L1389.1,517.2 L1390.2,514.6 L1391.2,513.0 L1392.2,513.2 L1393.2,514.3 L1394.2,515.8 L1395.2,517.0 L1396.2,519.0 L1397.1,520.9 L1398.2,521.1 L1399.1,519.0 L1400.1,515.6 L1401.1,511.9 L1402.2,509.0 L1403.2,507.3 L1404.2,506.2 L1405.2,505.2 L1406.2,504.0 L1407.2,502.6 L1408.2,501.2 L1409.2,499.7 L1410.2,498.0 L1411.2,496.3 L1412.2,494.4 L1413.2,492.4 L1414.2,490.0 L1415.2,487.1 L1416.3,483.6 L1417.3,480.4 L1418.2,478.0 L1419.3,476.3 L1420.2,476.2 L1421.1,476.2 L1422.2,477.0 L1423.1,479.3 L1424.1,482.0 L1425.2,482.0 L1426.2,477.6 L1427.2,470.3 L1428.2,462.2 L1429.2,453.2 L1430.2,443.4 L1431.2,434.2 L1432.2,425.9 L1433.1,418.2 L1434.2,412.2 L1435.1,408.8 L1436.1,406.3 L1437.2,404.7 L1438.2,404.1 L1439.2,404.7 L1440.2,406.3 L1441.2,408.8 L1442.2,412.2 L1443.2,416.8 L1444.3,422.7 L1445.3,428.8 L1446.2,434.2 L1447.3,440.4 L1448.2,446.0 L1449.2,450.2 L1450.2,452.7 L1451.2,453.7 L1452.2,453.2 L1453.2,450.3 L1454.2,445.9 L1455.2,442.2 L1456.2,439.5 L1457.2,437.4 L1458.2,437.2 L1459.2,439.8 L1460.1,444.2 L1461.2,448.2 L1462.2,450.5 L1463.2,452.8 L1464.2,454.5 L1465.2,455.2 L1466.2,454.4 L1467.3,452.4 L1468.3,450.1 L1469.2,448.2 L1470.3,445.9 L1471.3,443.7 L1472.2,443.2 L1473.2,445.3 L1474.2,448.9 L1475.2,452.2 L1476.2,454.8 L1477.2,457.1 L1478.2,458.2 L1479.2,457.6 L1480.2,456.2 L1481.2,454.5 L1482.2,453.2 L1483.2,452.6 L1484.2,452.4 L1485.2,452.0 L1486.2,451.2 L1487.3,449.5 L1488.3,447.3 L1489.3,445.0 L1490.3,443.2 L1491.3,441.3 L1492.2,440.0 L1493.3,439.8 L1494.2,440.5 L1495.3,441.9 L1496.3,443.8 L1497.3,446.2 L1498.3,450.4 L1499.2,455.4 L1500.3,460.2 L1501.2,463.6 L1502.1,467.0 L1503.2,470.0 L1504.3,472.2 L1505.2,473.0 L1506.2,473.1 L1507.3,472.9 L1508.3,473.1 L1509.3,474.2 L1510.3,476.9 L1511.3,480.4 L1512.3,484.7 L1513.3,490.0 L1514.3,496.8 L1515.3,504.9 L1516.3,513.1 L1517.3,520.1 L1518.3,525.7 L1519.3,530.5 L1520.3,534.6 L1521.3,538.1 L1522.3,541.1 L1523.3,543.5 L1524.3,545.0 L1525.3,545.1 L1526.3,543.3 L1527.3,539.9 L1528.3,535.9 L1529.3,532.1 L1530.3,528.0 L1531.3,523.5 L1532.3,519.5 L1533.3,517.0 L1534.3,516.5 L1535.3,517.4 L1536.3,519.1 L1537.3,521.1 L1538.3,523.4 L1539.4,526.4 L1540.4,529.4 L1541.3,532.1 L1542.3,535.3 L1543.3,538.1 L1544.3,539.1 L1545.2,537.8 L1546.2,535.1 L1547.3,532.2 L1548.3,530.1 L1549.3,528.9 L1550.3,528.1 L1551.3,527.8 L1552.3,528.1 L1553.3,529.6 L1554.3,532.1 L1555.3,534.4 L1556.3,535.1 L1557.3,533.6 L1558.3,530.6 L1559.3,527.2 L1560.3,524.1 L1561.3,521.5 L1562.3,519.0 L1563.3,516.5 L1564.3,514.0 L1565.3,511.6 L1566.3,509.1 L1567.3,506.6 L1568.3,504.0 L1569.3,501.3 L1570.3,498.5 L1571.3,495.7 L1572.3,493.0 L1573.4,490.4 L1574.4,487.9 L1575.4,485.7 L1576.3,484.0 L1577.4,482.8 L1578.3,482.5 L1579.3,483.0 L1580.3,484.4 L1581.2,486.6 L1582.3,488.5 L1583.3,489.0 L1584.4,487.8 L1585.6,485.6 L1586.7,482.3 L1587.8,478.1 L1589.0,472.9 L1590.1,466.8 L1591.2,459.8 L1592.4,452.2 L1593.5,443.2 L1594.7,433.1 L1596.0,423.3 L1597.2,415.1 L1598.4,408.8 L1599.7,403.6 L1600.9,399.9 L1602.0,398.1 L1603.1,399.9 L1604.0,404.9 L1605.0,410.1 L1605.9,413.6 L1606.9,417.3 L1608.0,420.9 L1609.0,424.1 L1610.0,427.1 L1611.0,430.0 L1612.0,432.4 L1613.0,434.2 L1614.0,434.9 L1615.0,434.7 L1616.0,434.6 L1617.0,435.2 L1618.0,437.0 L1619.1,439.7 L1620.1,442.3 L1621.0,444.2 L1622.1,445.5 L1623.0,445.9 L1624.0,445.2 L1625.2,442.2 L1626.4,438.0 L1627.6,436.2 L1628.8,438.6 L1629.9,443.2 L1631.0,447.2 L1632.0,449.9 L1633.0,452.1 L1634.0,452.6 L1635.0,450.9 L1636.0,447.9 L1637.0,444.8 L1638.0,443.2 L1639.0,443.7 L1640.0,445.5 L1641.0,447.4 L1642.0,448.2 L1643.0,447.6 L1644.0,446.4 L1645.1,444.8 L1646.1,443.3 L1647.0,442.2 L1648.1,441.2 L1649.1,440.5 L1650.1,440.1 L1651.1,440.2 L1652.1,440.9 L1653.1,442.3 L1654.1,443.6 L1655.1,444.2 L1656.1,443.8 L1657.1,442.9 L1658.1,441.6 L1659.1,440.2 L1660.1,437.8 L1661.1,434.9 L1662.1,432.2 L1663.2,428.9 L1664.5,425.8 L1665.7,424.7 L1666.8,427.4 L1668.0,432.2 L1669.1,436.2 L1670.1,438.4 L1671.0,439.9 L1672.1,440.2 L1673.0,439.3 L1674.0,437.5 L1675.1,435.4 L1676.1,433.2 L1677.1,430.4 L1678.1,427.1 L1679.2,424.4 L1680.1,423.1 L1681.1,424.8 L1682.0,428.7 L1683.1,432.2 L1684.0,434.2 L1685.0,436.2 L1686.1,437.6 L1687.1,438.2 L1688.1,437.4 L1689.1,435.7 L1690.1,433.4 L1691.1,431.2 L1692.1,428.5 L1693.1,425.4 L1694.1,422.7 L1695.1,421.1 L1696.1,421.4 L1697.2,422.9 L1698.2,424.8 L1699.1,426.1 L1700.1,427.5 L1701.0,428.5 L1702.1,428.1 L1703.0,426.8 L1704.0,424.8 L1705.1,422.4 L1706.2,420.0 L1707.1,418.1 L1708.4,415.7 L1709.4,413.7 L1710.5,413.1 L1711.7,414.7 L1712.9,417.6 L1714.1,420.1 L1715.1,421.6 L1716.2,422.9 L1717.2,423.8 L1718.1,424.1 L1719.2,423.2 L1720.1,421.3 L1721.1,419.1 L1722.3,416.3 L1723.5,413.1 L1724.7,411.7 L1725.9,413.5 L1727.0,417.1 L1728.1,420.1 L1729.3,422.2 L1730.5,423.7 L1731.7,424.1 L1732.9,422.3 L1734.0,419.4 L1735.1,418.1 L1736.1,419.4 L1737.1,422.0 L1738.1,424.8 L1739.1,427.1 L1740.1,428.8 L1741.1,430.2 L1742.1,431.3 L1743.1,432.2 L1744.1,432.3 L1745.1,432.0 L1746.1,431.7 L1747.1,432.2 L1748.1,433.5 L1749.1,435.5 L1750.1,437.8 L1751.2,440.2 L1752.1,442.4 L1753.1,444.9 L1754.2,447.5 L1755.2,449.7 L1756.2,451.2 L1757.2,451.6 L1758.2,450.9 L1759.2,450.1 L1760.2,450.2 L1761.2,451.4 L1762.2,453.4 L1763.2,455.4 L1764.2,457.2 L1765.1,458.7 L1766.1,460.3 L1767.1,461.3 L1768.2,461.2 L1769.1,459.5 L1770.1,456.7 L1771.2,453.5 L1772.2,451.0 L1773.2,450.2 L1774.3,452.0 L1775.3,455.9 L1776.3,460.4 L1777.2,464.2 L1778.2,468.4 L1779.1,472.2 L1780.2,473.8 L1781.1,472.6 L1782.1,469.8 L1783.2,466.6 L1784.2,464.2 L1785.2,462.7 L1786.2,461.6 L1787.2,461.1 L1788.2,461.2 L1789.2,462.0 L1790.3,463.5 L1791.3,465.6 L1792.2,468.2 L1793.2,472.4 L1794.2,477.7 L1795.2,484.2 L1796.1,490.5 L1797.1,497.7 L1798.2,505.2 L1799.2,512.0 L1800.2,518.2 L1801.2,524.2 L1802.2,529.6 L1803.2,534.1 L1804.2,537.7 L1805.1,540.7 L1806.1,542.8 L1807.2,543.7 L1808.1,543.1 L1809.1,541.5 L1810.2,539.3 L1811.2,537.3 L1812.2,536.1 L1813.2,535.8 L1814.3,536.2 L1815.4,536.8 L1816.3,537.2 L1817.2,537.1 L1818.3,535.7 L1819.2,533.4 L1820.2,530.1 L1821.2,526.3 L1822.2,521.5 L1823.2,517.0 L1824.2,514.0 L1825.2,513.4 L1826.2,514.4 L1827.2,515.6 L1828.2,516.0 L1829.2,515.0 L1830.2,513.2 L1831.2,511.6 L1832.2,511.0 L1833.2,512.0 L1834.2,514.0 L1835.3,516.2 L1836.3,517.8 L1837.2,518.0 L1838.3,515.9 L1839.3,512.0 L1840.3,507.7 L1841.2,504.0 L1842.2,501.1 L1843.2,498.5 L1844.2,496.3 L1845.2,495.0 L1846.2,494.8 L1847.2,495.5 L1848.3,496.6 L1849.3,498.0 L1850.3,500.1 L1851.3,502.7 L1852.3,505.0 L1853.3,506.0 L1854.2,505.2 L1855.2,503.1 L1856.2,500.5 L1857.3,498.0 L1858.2,496.2 L1859.2,494.2 L1860.3,492.2 L1861.3,490.4 L1862.3,489.0 L1863.3,488.4 L1864.3,488.5 L1865.3,488.4 L1866.3,487.0 L1867.3,484.0 L1868.3,480.0 L1869.3,475.3 L1870.3,470.2 L1871.3,464.6 L1872.3,458.5 L1873.3,452.2 L1874.3,446.2 L1875.3,440.1 L1876.3,434.0 L1877.3,428.4 L1878.3,424.1 L1879.3,421.3 L1880.3,419.5 L1881.3,418.7 L1882.3,418.7 L1883.3,420.1 L1884.3,422.6 L1885.3,425.5 L1886.3,428.1 L1887.3,430.6 L1888.2,433.2 L1889.2,435.2 L1890.3,436.2 L1891.3,435.5 L1892.3,433.7 L1893.4,431.5 L1894.4,429.8 L1895.3,429.1 L1896.4,431.0 L1897.3,434.6 L1898.3,438.2 L1899.2,440.5 L1900.2,442.9 L1901.3,444.9 L1902.3,446.2 L1903.3,446.6 L1904.3,446.3 L1905.3,445.5 L1906.3,444.2 L1907.3,441.6 L1908.3,438.0 L1909.3,435.0 L1910.3,434.2 L1911.3,436.4 L1912.3,440.8 L1913.2,445.9 L1914.3,450.2 L1915.3,452.9 L1916.3,455.7 L1917.3,458.2 L1918.4,460.1 L1919.3,461.2 L1920.4,461.1 L1921.3,459.9 L1922.3,458.0 L1923.3,456.2 L1924.3,454.4 L1925.3,452.1 L1926.4,449.9 L1927.4,448.4 L1928.3,448.2 L1929.4,450.1 L1930.4,453.7 L1931.4,458.0 L1932.3,462.2 L1933.3,466.5 L1934.3,471.2 L1935.3,475.4 L1936.3,478.2 L1937.3,478.6 L1938.3,477.7 L1939.4,476.4 L1940.4,475.6 L1941.3,476.2 L1942.4,479.0 L1943.5,483.2 L1944.4,488.4 L1945.3,494.0 L1946.4,502.8 L1947.4,512.8 L1948.4,522.1 L1949.4,530.3 L1950.4,537.8 L1951.4,544.1 L1952.5,548.7 L1953.6,551.9 L1954.4,554.1" stroke="#86ff06" stroke-width="1.6"/>
</g>
<path d="M356.5,958.5 v-17.5 M356.5,31.5 v17.5 M534.5,958.5 v-17.5 M534.5,31.5 v17.5 M711.5,958.5 v-17.5 M711.5,31.5 v17.5 M889.5,958.5 v-17.5 M889.5,31.5 v17.5 M1067.5,958.5 v-17.5 M1067.5,31.5 v17.5 M1244.5,958.5 v-17.5 M1244.5,31.5 v17.5 M1422.5,958.5 v-17.5 M1422.5,31.5 v17.5 M1600.5,958.5 v-17.5 M1600.5,31.5 v17.5 M1777.5,958.5 v-17.5 M1777.5,31.5 v17.5 M179.5,262.5 h18 M1955.5,262.5 h-18 M179.5,494.5 h18 M1955.5,494.5 h-18 M179.5,726.5 h18 M1955.5,726.5 h-18" stroke="#262626" stroke-width="1.15" fill="none"/>
<rect x="179.5" y="31.5" width="1776" height="927" fill="none" stroke="#262626" stroke-width="1.1"/>
<g font-family="Liberation Sans, sans-serif" font-size="49.3" fill="#262626">
<text transform="translate(179.5,1020.6) scale(0.955,1)" text-anchor="middle">0</text>
<text transform="translate(356.5,1020.6) scale(0.955,1)" text-anchor="middle">2</text>
<text transform="translate(534.5,1020.6) scale(0.955,1)" text-anchor="middle">4</text>
<text transform="translate(711.5,1020.6) scale(0.955,1)" text-anchor="middle">6</text>
<text transform="translate(889.5,1020.6) scale(0.955,1)" text-anchor="middle">8</text>
<text transform="translate(1067.5,1020.6) scale(0.955,1)" text-anchor="middle">10</text>
<text transform="translate(1244.5,1020.6) scale(0.955,1)" text-anchor="middle">12</text>
<text transform="translate(1422.5,1020.6) scale(0.955,1)" text-anchor="middle">14</text>
<text transform="translate(1600.5,1020.6) scale(0.955,1)" text-anchor="middle">16</text>
<text transform="translate(1777.5,1020.6) scale(0.955,1)" text-anchor="middle">18</text>
<text transform="translate(1955.5,1020.6) scale(0.955,1)" text-anchor="middle">20</text>
<text transform="translate(164.7,51.5) scale(0.955,1)" text-anchor="end">1</text>
<text transform="translate(164.7,282.5) scale(0.955,1)" text-anchor="end">0.5</text>
<text transform="translate(164.7,514.5) scale(0.955,1)" text-anchor="end">0</text>
<text transform="translate(164.7,746.5) scale(0.955,1)" text-anchor="end">-0.5</text>
<text transform="translate(164.7,978.5) scale(0.955,1)" text-anchor="end">-1</text>
</g>
<g font-family="Liberation Serif, serif" fill="#262626">
<text x="1066" y="1077.5" font-size="55" text-anchor="middle" word-spacing="7" textLength="194" lengthAdjust="spacingAndGlyphs">Time (s)</text>
<text transform="translate(58.5,494.5) rotate(-90)" font-size="55" text-anchor="middle" textLength="414" lengthAdjust="spacingAndGlyphs">Control signal (V)</text>
</g>
<rect x="533.5" y="54.5" width="643.0" height="209.0" fill="#fff"/>
<path d="M565.5,56.5 V263.5 M597.5,56.5 V263.5 M629.5,56.5 V263.5 M662.5,56.5 V263.5 M694.5,56.5 V263.5 M726.5,56.5 V263.5 M758.5,56.5 V263.5 M790.5,56.5 V263.5 M822.5,56.5 V263.5 M855.5,56.5 V263.5 M887.5,56.5 V263.5 M919.5,56.5 V263.5 M951.5,56.5 V263.5 M983.5,56.5 V263.5 M1015.5,56.5 V263.5 M1047.5,56.5 V263.5 M1080.5,56.5 V263.5 M1112.5,56.5 V263.5 M1144.5,56.5 V263.5 M535.5,242.5 H1176.5 M535.5,221.5 H1176.5 M535.5,200.5 H1176.5 M535.5,179.5 H1176.5 M535.5,159.5 H1176.5 M535.5,138.5 H1176.5 M535.5,117.5 H1176.5 M535.5,96.5 H1176.5 M535.5,75.5 H1176.5" stroke="#b4b4b4" stroke-width="1" stroke-dasharray="1 3.8" fill="none"/>
<clipPath id="ci"><rect x="533.5" y="54.5" width="643.0" height="209.0"/></clipPath>
<g clip-path="url(#ci)" fill="none" stroke-linejoin="round" stroke-linecap="round">
<path d="M533.3,187.6 L533.8,188.6 L534.3,191.6 L534.8,196.2 L535.3,202.1 L535.8,208.9 L536.3,216.0 L536.8,222.7 L537.3,228.7 L537.8,233.3 L538.3,236.2 L538.8,237.2 L539.4,236.6 L539.9,234.9 L540.4,232.0 L540.9,228.0 L541.4,223.0 L541.9,217.0 L542.4,210.2 L542.9,202.6 L543.4,194.4 L543.9,185.7 L544.4,176.6 L544.9,167.3 L545.4,157.9 L545.9,148.6 L546.4,139.6 L546.9,130.8 L547.4,122.6 L547.9,115.0 L548.4,108.2 L548.9,102.2 L549.4,97.2 L549.9,93.2 L550.4,90.3 L551.0,88.6 L551.5,88.0 L552.0,88.6 L552.5,90.4 L553.0,93.3 L553.5,97.3 L554.0,102.4 L554.5,108.3 L555.0,115.1 L555.6,122.6 L556.1,130.6 L556.6,139.0 L557.1,147.7 L557.6,156.4 L558.1,165.1 L558.6,173.5 L559.1,181.5 L559.7,189.0 L560.2,195.8 L560.7,201.8 L561.2,206.8 L561.7,210.8 L562.2,213.8 L562.7,215.5 L563.2,216.1 L563.8,215.7 L564.3,214.3 L564.8,212.1 L565.3,209.0 L565.8,205.1 L566.3,200.5 L566.9,195.3 L567.4,189.5 L567.9,183.2 L568.4,176.6 L568.9,169.8 L569.4,162.8 L570.0,155.9 L570.5,149.0 L571.0,142.4 L571.5,136.2 L572.0,130.4 L572.5,125.1 L573.1,120.5 L573.6,116.6 L574.1,113.5 L574.6,111.3 L575.1,109.9 L575.6,109.5 L576.2,110.0 L576.7,111.4 L577.2,113.7 L577.7,116.8 L578.2,120.8 L578.8,125.5 L579.3,130.8 L579.8,136.7 L580.3,143.0 L580.9,149.7 L581.4,156.5 L581.9,163.4 L582.4,170.2 L582.9,176.8 L583.5,183.1 L584.0,189.0 L584.5,194.3 L585.0,199.0 L585.5,203.0 L586.1,206.2 L586.6,208.5 L587.1,209.9 L587.6,210.4 L588.1,210.0 L588.7,209.0 L589.2,207.3 L589.7,204.9 L590.2,201.9 L590.7,198.4 L591.2,194.3 L591.7,189.8 L592.2,185.0 L592.8,179.8 L593.3,174.4 L593.8,168.9 L594.3,163.3 L594.8,157.8 L595.3,152.5 L595.8,147.3 L596.3,142.4 L596.9,137.9 L597.4,133.9 L597.9,130.3 L598.4,127.4 L598.9,125.0 L599.4,123.3 L599.9,122.2 L600.4,121.9 L601.0,122.3 L601.5,123.5 L602.0,125.5 L602.5,128.3 L603.1,131.7 L603.6,135.7 L604.1,140.3 L604.6,145.2 L605.1,150.5 L605.7,155.9 L606.2,161.4 L606.7,166.9 L607.2,172.1 L607.7,177.1 L608.3,181.6 L608.8,185.7 L609.3,189.1 L609.8,191.8 L610.4,193.8 L610.9,195.1 L611.4,195.5 L611.9,195.2 L612.4,194.2 L612.9,192.7 L613.4,190.6 L613.9,188.0 L614.4,184.9 L614.9,181.3 L615.4,177.5 L615.9,173.3 L616.4,168.9 L616.9,164.4 L617.4,159.8 L617.9,155.3 L618.4,150.9 L618.9,146.7 L619.5,142.8 L620.0,139.3 L620.5,136.2 L621.0,133.6 L621.5,131.5 L622.0,130.0 L622.5,129.0 L623.0,128.7 L623.5,129.0 L624.0,129.7 L624.5,130.9 L625.0,132.5 L625.5,134.6 L626.0,137.0 L626.5,139.7 L627.0,142.7 L627.5,145.8 L628.0,149.1 L628.5,152.4 L629.0,155.6 L629.5,158.8 L630.0,161.7 L630.5,164.5 L631.0,166.9 L631.5,168.9 L632.0,170.6 L632.5,171.8 L633.0,172.5 L633.5,172.7 L634.0,172.4 L634.6,171.6 L635.1,170.1 L635.6,168.2 L636.1,165.7 L636.6,162.8 L637.2,159.5 L637.7,155.8 L638.2,151.9 L638.7,147.8 L639.2,143.6 L639.8,139.3 L640.3,135.1 L640.8,130.9 L641.3,127.0 L641.9,123.4 L642.4,120.1 L642.9,117.1 L643.4,114.7 L643.9,112.7 L644.5,111.3 L645.0,110.4 L645.5,110.1 L646.0,110.4 L646.5,111.2 L647.1,112.5 L647.6,114.3 L648.1,116.6 L648.6,119.3 L649.1,122.4 L649.6,125.7 L650.2,129.3 L650.7,133.0 L651.2,136.8 L651.7,140.6 L652.2,144.3 L652.7,147.9 L653.3,151.2 L653.8,154.2 L654.3,156.9 L654.8,159.2 L655.3,161.0 L655.8,162.4 L656.4,163.2 L656.9,163.4 L657.4,163.2 L657.9,162.5 L658.4,161.3 L658.9,159.7 L659.4,157.7 L659.9,155.3 L660.4,152.6 L660.9,149.6 L661.4,146.3 L662.0,142.9 L662.5,139.4 L663.0,135.7 L663.5,132.1 L664.0,128.6 L664.5,125.1 L665.0,121.9 L665.5,118.9 L666.0,116.2 L666.5,113.8 L667.0,111.8 L667.5,110.2 L668.1,109.0 L668.6,108.3 L669.1,108.0 L669.6,108.3 L670.1,109.0 L670.6,110.2 L671.2,111.8 L671.7,113.8 L672.2,116.2 L672.7,119.0 L673.2,122.0 L673.8,125.2 L674.3,128.6 L674.8,132.1 L675.3,135.6 L675.8,139.1 L676.4,142.5 L676.9,145.8 L677.4,148.8 L677.9,151.5 L678.5,153.9 L679.0,156.0 L679.5,157.6 L680.0,158.8 L680.5,159.5 L681.1,159.7 L681.6,159.4 L682.1,158.5 L682.6,157.0 L683.1,155.0 L683.6,152.4 L684.2,149.4 L684.7,146.0 L685.2,142.3 L685.7,138.3 L686.2,134.2 L686.7,130.0 L687.3,125.7 L687.8,121.6 L688.3,117.6 L688.8,113.9 L689.3,110.5 L689.8,107.5 L690.4,104.9 L690.9,102.9 L691.4,101.4 L691.9,100.5 L692.4,100.2 L692.9,100.5 L693.5,101.5 L694.0,103.2 L694.5,105.5 L695.0,108.3 L695.6,111.7 L696.1,115.4 L696.6,119.5 L697.1,123.9 L697.6,128.4 L698.2,133.0 L698.7,137.5 L699.2,141.8 L699.7,145.9 L700.2,149.7 L700.8,153.0 L701.3,155.9 L701.8,158.1 L702.3,159.8 L702.9,160.8 L703.4,161.2 L703.9,160.9 L704.4,160.1 L704.9,158.8 L705.4,157.0 L705.9,154.7 L706.5,152.0 L707.0,148.9 L707.5,145.5 L708.0,141.9 L708.5,138.1 L709.0,134.2 L709.5,130.3 L710.0,126.3 L710.6,122.5 L711.1,118.9 L711.6,115.5 L712.1,112.5 L712.6,109.8 L713.1,107.5 L713.6,105.7 L714.1,104.4 L714.6,103.6 L715.2,103.3 L715.7,103.6 L716.2,104.6 L716.7,106.2 L717.2,108.4 L717.7,111.1 L718.3,114.3 L718.8,118.0 L719.3,122.0 L719.8,126.3 L720.3,130.8 L720.8,135.3 L721.4,139.9 L721.9,144.4 L722.4,148.6 L722.9,152.6 L723.4,156.3 L723.9,159.5 L724.5,162.3 L725.0,164.5 L725.5,166.1 L726.0,167.0 L726.5,167.4 L727.0,167.1 L727.6,166.3 L728.1,165.0 L728.6,163.2 L729.1,161.0 L729.6,158.4 L730.1,155.4 L730.6,152.1 L731.1,148.5 L731.7,144.8 L732.2,141.0 L732.7,137.1 L733.2,133.3 L733.7,129.6 L734.2,126.0 L734.7,122.7 L735.2,119.7 L735.8,117.1 L736.3,114.9 L736.8,113.1 L737.3,111.8 L737.8,111.0 L738.3,110.7 L738.8,111.0 L739.3,112.0 L739.9,113.5 L740.4,115.7 L740.9,118.3 L741.4,121.4 L741.9,125.0 L742.4,128.9 L743.0,133.0 L743.5,137.3 L744.0,141.7 L744.5,146.1 L745.0,150.5 L745.5,154.6 L746.1,158.5 L746.6,162.0 L747.1,165.2 L747.6,167.8 L748.1,169.9 L748.6,171.5 L749.2,172.4 L749.7,172.7 L750.2,172.4 L750.7,171.4 L751.2,169.7 L751.7,167.4 L752.3,164.5 L752.8,161.0 L753.3,157.2 L753.8,152.9 L754.3,148.4 L754.8,143.7 L755.4,138.8 L755.9,134.0 L756.4,129.3 L756.9,124.8 L757.4,120.5 L757.9,116.6 L758.5,113.2 L759.0,110.3 L759.5,108.0 L760.0,106.3 L760.5,105.3 L761.0,104.9 L761.6,105.3 L762.1,106.4 L762.6,108.1 L763.1,110.6 L763.7,113.6 L764.2,117.1 L764.7,121.1 L765.2,125.5 L765.7,130.1 L766.3,134.9 L766.8,139.7 L767.3,144.5 L767.8,149.1 L768.4,153.5 L768.9,157.5 L769.4,161.0 L769.9,164.0 L770.4,166.4 L771.0,168.2 L771.5,169.3 L772.0,169.6 L772.5,169.3 L773.0,168.3 L773.5,166.7 L774.1,164.4 L774.6,161.6 L775.1,158.2 L775.6,154.4 L776.1,150.2 L776.6,145.7 L777.1,141.0 L777.6,136.1 L778.1,131.2 L778.7,126.4 L779.2,121.6 L779.7,117.1 L780.2,112.9 L780.7,109.1 L781.2,105.8 L781.7,102.9 L782.2,100.7 L782.8,99.0 L783.3,98.0 L783.8,97.7 L784.3,98.1 L784.8,99.3 L785.3,101.4 L785.8,104.1 L786.3,107.6 L786.8,111.6 L787.3,116.2 L787.8,121.1 L788.3,126.4 L788.8,131.8 L789.3,137.4 L789.8,142.8 L790.3,148.1 L790.8,153.1 L791.3,157.6 L791.8,161.6 L792.3,165.1 L792.8,167.8 L793.3,169.9 L793.8,171.1 L794.3,171.5 L794.8,171.2 L795.4,170.3 L795.9,168.7 L796.4,166.6 L796.9,164.0 L797.4,160.8 L797.9,157.3 L798.5,153.3 L799.0,149.0 L799.5,144.5 L800.0,139.9 L800.5,135.1 L801.0,130.4 L801.6,125.7 L802.1,121.2 L802.6,116.9 L803.1,113.0 L803.6,109.4 L804.1,106.3 L804.7,103.6 L805.2,101.5 L805.7,100.0 L806.2,99.1 L806.7,98.7 L807.2,99.2 L807.8,100.4 L808.3,102.5 L808.8,105.3 L809.3,108.9 L809.8,113.0 L810.3,117.7 L810.8,122.8 L811.3,128.2 L811.8,133.8 L812.4,139.5 L812.9,145.1 L813.4,150.5 L813.9,155.6 L814.4,160.3 L814.9,164.5 L815.4,168.0 L815.9,170.8 L816.5,172.9 L817.0,174.2 L817.5,174.6 L818.0,174.3 L818.5,173.3 L819.0,171.7 L819.5,169.6 L820.0,166.9 L820.5,163.7 L821.1,160.1 L821.6,156.2 L822.1,152.1 L822.6,147.8 L823.1,143.5 L823.6,139.2 L824.1,135.1 L824.6,131.2 L825.2,127.6 L825.7,124.4 L826.2,121.8 L826.7,119.6 L827.2,118.0 L827.7,117.0 L828.2,116.7 L828.7,117.1 L829.3,118.1 L829.8,119.7 L830.3,122.0 L830.8,124.9 L831.4,128.2 L831.9,132.0 L832.4,136.1 L832.9,140.4 L833.4,144.9 L834.0,149.5 L834.5,154.0 L835.0,158.4 L835.5,162.5 L836.0,166.2 L836.6,169.6 L837.1,172.4 L837.6,174.7 L838.1,176.3 L838.7,177.4 L839.2,177.7 L839.7,177.4 L840.2,176.3 L840.8,174.7 L841.3,172.4 L841.8,169.6 L842.3,166.4 L842.8,162.7 L843.4,158.8 L843.9,154.8 L844.4,150.6 L844.9,146.5 L845.5,142.6 L846.0,139.0 L846.5,135.8 L847.0,133.0 L847.6,130.7 L848.1,129.0 L848.6,128.0 L849.1,127.7 L849.7,128.0 L850.2,129.1 L850.7,130.9 L851.2,133.3 L851.7,136.4 L852.2,140.0 L852.8,144.1 L853.3,148.5 L853.8,153.3 L854.3,158.3 L854.8,163.3 L855.3,168.4 L855.9,173.4 L856.4,178.1 L856.9,182.6 L857.4,186.7 L857.9,190.3 L858.4,193.3 L859.0,195.8 L859.5,197.5 L860.0,198.6 L860.5,199.0 L861.0,198.7 L861.5,197.8 L862.0,196.3 L862.6,194.2 L863.1,191.6 L863.6,188.6 L864.1,185.1 L864.6,181.3 L865.1,177.2 L865.6,172.9 L866.1,168.5 L866.6,164.0 L867.2,159.6 L867.7,155.3 L868.2,151.2 L868.7,147.3 L869.2,143.9 L869.7,140.8 L870.2,138.2 L870.7,136.2 L871.3,134.7 L871.8,133.8 L872.3,133.5 L872.8,133.8 L873.3,134.8 L873.8,136.4 L874.4,138.6 L874.9,141.3 L875.4,144.6 L875.9,148.3 L876.4,152.3 L876.9,156.6 L877.5,161.1 L878.0,165.7 L878.5,170.3 L879.0,174.8 L879.5,179.1 L880.0,183.1 L880.6,186.8 L881.1,190.1 L881.6,192.8 L882.1,195.0 L882.6,196.6 L883.1,197.6 L883.7,198.0 L884.2,197.7 L884.7,196.9 L885.2,195.5 L885.7,193.7 L886.2,191.3 L886.7,188.6 L887.2,185.5 L887.7,182.1 L888.2,178.4 L888.7,174.5 L889.2,170.5 L889.7,166.5 L890.2,162.5 L890.7,158.6 L891.2,155.0 L891.7,151.5 L892.2,148.4 L892.7,145.7 L893.2,143.3 L893.7,141.5 L894.2,140.1 L894.7,139.3 L895.2,139.0 L895.7,139.4 L896.2,140.4 L896.7,142.0 L897.3,144.3 L897.8,147.1 L898.3,150.4 L898.8,154.1 L899.3,158.3 L899.8,162.7 L900.3,167.2 L900.8,171.9 L901.3,176.6 L901.8,181.2 L902.3,185.6 L902.8,189.7 L903.3,193.4 L903.9,196.7 L904.4,199.6 L904.9,201.8 L905.4,203.4 L905.9,204.4 L906.4,204.8 L906.9,204.4 L907.4,203.5 L907.9,201.9 L908.5,199.7 L909.0,196.9 L909.5,193.7 L910.0,190.0 L910.5,186.0 L911.0,181.7 L911.6,177.2 L912.1,172.6 L912.6,168.1 L913.1,163.6 L913.6,159.3 L914.1,155.3 L914.7,151.6 L915.2,148.3 L915.7,145.6 L916.2,143.4 L916.7,141.8 L917.2,140.8 L917.8,140.5 L918.3,140.8 L918.8,141.6 L919.3,143.0 L919.8,144.9 L920.3,147.4 L920.8,150.2 L921.3,153.4 L921.8,157.0 L922.3,160.8 L922.8,164.9 L923.3,169.0 L923.8,173.2 L924.3,177.3 L924.8,181.3 L925.3,185.2 L925.8,188.7 L926.3,192.0 L926.8,194.8 L927.3,197.2 L927.8,199.1 L928.3,200.5 L928.8,201.4 L929.3,201.7 L929.8,201.3 L930.3,200.3 L930.9,198.6 L931.4,196.3 L931.9,193.4 L932.4,190.0 L932.9,186.1 L933.4,181.9 L933.9,177.3 L934.4,172.6 L934.9,167.8 L935.4,163.0 L935.9,158.2 L936.4,153.7 L936.9,149.5 L937.4,145.6 L938.0,142.2 L938.5,139.3 L939.0,136.9 L939.5,135.3 L940.0,134.2 L940.5,133.9 L941.0,134.1 L941.5,134.9 L942.1,136.3 L942.6,138.1 L943.1,140.3 L943.6,143.0 L944.1,146.0 L944.7,149.4 L945.2,153.0 L945.7,156.8 L946.2,160.6 L946.7,164.6 L947.3,168.5 L947.8,172.2 L948.3,175.8 L948.8,179.2 L949.4,182.2 L949.9,184.9 L950.4,187.2 L950.9,189.0 L951.4,190.3 L952.0,191.1 L952.5,191.3 L953.0,191.1 L953.5,190.2 L954.0,188.9 L954.5,187.0 L955.1,184.7 L955.6,181.9 L956.1,178.8 L956.6,175.3 L957.1,171.7 L957.6,167.9 L958.2,164.0 L958.7,160.1 L959.2,156.2 L959.7,152.6 L960.2,149.1 L960.8,146.0 L961.3,143.3 L961.8,140.9 L962.3,139.0 L962.8,137.7 L963.3,136.8 L963.9,136.6 L964.4,136.9 L964.9,137.9 L965.4,139.5 L965.9,141.7 L966.4,144.4 L967.0,147.6 L967.5,151.3 L968.0,155.3 L968.5,159.6 L969.0,164.0 L969.5,168.6 L970.1,173.2 L970.6,177.6 L971.1,181.9 L971.6,185.9 L972.1,189.6 L972.6,192.8 L973.2,195.6 L973.7,197.7 L974.2,199.3 L974.7,200.3 L975.2,200.6 L975.7,200.4 L976.3,199.6 L976.8,198.4 L977.3,196.7 L977.8,194.6 L978.3,192.1 L978.8,189.2 L979.4,186.0 L979.9,182.6 L980.4,179.0 L980.9,175.2 L981.4,171.4 L981.9,167.6 L982.5,163.8 L983.0,160.2 L983.5,156.8 L984.0,153.6 L984.5,150.7 L985.0,148.2 L985.6,146.1 L986.1,144.4 L986.6,143.1 L987.1,142.4 L987.6,142.1 L988.1,142.5 L988.7,143.4 L989.2,145.0 L989.7,147.1 L990.2,149.8 L990.7,152.9 L991.2,156.4 L991.8,160.2 L992.3,164.2 L992.8,168.3 L993.3,172.4 L993.8,176.4 L994.3,180.2 L994.9,183.7 L995.4,186.8 L995.9,189.4 L996.4,191.6 L996.9,193.2 L997.4,194.1 L998.0,194.4 L998.5,194.1 L999.0,193.0 L999.5,191.2 L1000.0,188.7 L1000.5,185.7 L1001.1,182.1 L1001.6,178.1 L1002.1,173.7 L1002.6,169.2 L1003.1,164.5 L1003.6,159.8 L1004.2,155.2 L1004.7,150.9 L1005.2,146.9 L1005.7,143.3 L1006.2,140.2 L1006.7,137.8 L1007.3,136.0 L1007.8,134.9 L1008.3,134.5 L1008.8,134.7 L1009.3,135.4 L1009.8,136.6 L1010.3,138.2 L1010.9,140.2 L1011.4,142.6 L1011.9,145.4 L1012.4,148.4 L1012.9,151.7 L1013.4,155.2 L1013.9,158.9 L1014.4,162.6 L1015.0,166.4 L1015.5,170.1 L1016.0,173.7 L1016.5,177.2 L1017.0,180.5 L1017.5,183.6 L1018.0,186.3 L1018.5,188.7 L1019.1,190.7 L1019.6,192.3 L1020.1,193.5 L1020.6,194.2 L1021.1,194.4 L1021.6,194.1 L1022.1,193.3 L1022.6,191.8 L1023.1,189.8 L1023.6,187.4 L1024.1,184.5 L1024.6,181.2 L1025.1,177.7 L1025.6,173.9 L1026.1,170.0 L1026.6,166.0 L1027.1,162.1 L1027.6,158.3 L1028.1,154.8 L1028.6,151.5 L1029.1,148.6 L1029.6,146.1 L1030.1,144.1 L1030.6,142.7 L1031.1,141.8 L1031.6,141.5 L1032.2,141.8 L1032.7,142.8 L1033.2,144.3 L1033.7,146.3 L1034.2,148.9 L1034.7,152.0 L1035.2,155.4 L1035.7,159.1 L1036.3,163.1 L1036.8,167.2 L1037.3,171.3 L1037.8,175.4 L1038.3,179.3 L1038.8,183.1 L1039.3,186.5 L1039.8,189.5 L1040.3,192.1 L1040.9,194.2 L1041.4,195.7 L1041.9,196.6 L1042.4,196.9 L1042.9,196.6 L1043.4,195.7 L1043.9,194.3 L1044.5,192.3 L1045.0,189.8 L1045.5,186.9 L1046.0,183.5 L1046.5,179.9 L1047.0,176.0 L1047.6,171.9 L1048.1,167.8 L1048.6,163.6 L1049.1,159.6 L1049.6,155.7 L1050.1,152.0 L1050.7,148.7 L1051.2,145.8 L1051.7,143.3 L1052.2,141.3 L1052.7,139.8 L1053.2,138.9 L1053.8,138.6 L1054.3,138.9 L1054.8,139.7 L1055.3,141.1 L1055.8,142.9 L1056.3,145.2 L1056.9,147.9 L1057.4,151.0 L1057.9,154.3 L1058.4,157.9 L1058.9,161.7 L1059.4,165.5 L1060.0,169.3 L1060.5,173.1 L1061.0,176.7 L1061.5,180.0 L1062.0,183.1 L1062.5,185.8 L1063.1,188.1 L1063.6,189.9 L1064.1,191.3 L1064.6,192.1 L1065.1,192.4 L1065.6,192.1 L1066.2,191.3 L1066.7,189.9 L1067.2,188.0 L1067.7,185.7 L1068.2,182.9 L1068.7,179.7 L1069.3,176.3 L1069.8,172.6 L1070.3,168.8 L1070.8,164.9 L1071.3,161.0 L1071.8,157.1 L1072.4,153.5 L1072.9,150.0 L1073.4,146.9 L1073.9,144.1 L1074.4,141.8 L1075.0,139.9 L1075.5,138.5 L1076.0,137.7 L1076.5,137.4 L1077.0,137.6 L1077.5,138.3 L1078.1,139.4 L1078.6,140.9 L1079.1,142.8 L1079.6,145.0 L1080.2,147.5 L1080.7,150.1 L1081.2,152.8 L1081.7,155.6 L1082.2,158.4 L1082.8,161.0 L1083.3,163.5 L1083.8,165.6 L1084.3,167.5 L1084.9,169.1 L1085.4,170.2 L1085.9,170.9 L1086.4,171.1 L1086.9,170.8 L1087.4,170.0 L1087.9,168.8 L1088.5,167.0 L1089.0,164.8 L1089.5,162.2 L1090.0,159.2 L1090.5,156.0 L1091.0,152.5 L1091.5,148.9 L1092.0,145.2 L1092.5,141.6 L1093.0,138.0 L1093.5,134.5 L1094.0,131.3 L1094.5,128.3 L1095.0,125.7 L1095.6,123.5 L1096.1,121.7 L1096.6,120.5 L1097.1,119.7 L1097.6,119.4 L1098.1,119.6 L1098.6,120.2 L1099.1,121.2 L1099.7,122.5 L1100.2,124.2 L1100.7,126.1 L1101.2,128.4 L1101.8,130.9 L1102.3,133.5 L1102.8,136.3 L1103.3,139.2 L1103.8,142.0 L1104.4,144.9 L1104.9,147.7 L1105.4,150.3 L1105.9,152.8 L1106.4,155.1 L1107.0,157.0 L1107.5,158.7 L1108.0,160.0 L1108.5,161.0 L1109.1,161.6 L1109.6,161.8 L1110.1,161.6 L1110.6,160.9 L1111.1,159.9 L1111.6,158.5 L1112.1,156.7 L1112.6,154.6 L1113.2,152.2 L1113.7,149.5 L1114.2,146.7 L1114.7,143.7 L1115.2,140.6 L1115.7,137.5 L1116.2,134.4 L1116.7,131.4 L1117.3,128.6 L1117.8,125.9 L1118.3,123.5 L1118.8,121.4 L1119.3,119.6 L1119.8,118.2 L1120.3,117.2 L1120.8,116.5 L1121.4,116.3 L1121.9,116.6 L1122.4,117.3 L1122.9,118.6 L1123.4,120.3 L1123.9,122.4 L1124.5,124.8 L1125.0,127.6 L1125.5,130.6 L1126.0,133.7 L1126.5,137.0 L1127.0,140.2 L1127.6,143.4 L1128.1,146.4 L1128.6,149.1 L1129.1,151.6 L1129.6,153.7 L1130.1,155.4 L1130.7,156.6 L1131.2,157.4 L1131.7,157.6 L1132.2,157.4 L1132.7,156.8 L1133.2,155.7 L1133.8,154.2 L1134.3,152.4 L1134.8,150.2 L1135.3,147.7 L1135.8,144.9 L1136.3,141.9 L1136.9,138.7 L1137.4,135.5 L1137.9,132.1 L1138.4,128.8 L1138.9,125.5 L1139.4,122.4 L1140.0,119.4 L1140.5,116.6 L1141.0,114.1 L1141.5,111.9 L1142.0,110.0 L1142.5,108.5 L1143.1,107.5 L1143.6,106.8 L1144.1,106.6 L1144.6,106.8 L1145.1,107.5 L1145.6,108.6 L1146.1,110.1 L1146.6,112.0 L1147.1,114.3 L1147.6,116.9 L1148.1,119.7 L1148.6,122.7 L1149.1,125.9 L1149.6,129.2 L1150.1,132.5 L1150.6,135.8 L1151.1,139.0 L1151.6,142.1 L1152.1,144.9 L1152.6,147.5 L1153.1,149.7 L1153.7,151.6 L1154.2,153.2 L1154.7,154.3 L1155.2,154.9 L1155.7,155.2 L1156.2,155.0 L1156.7,154.3 L1157.2,153.3 L1157.7,151.9 L1158.2,150.2 L1158.7,148.1 L1159.3,145.8 L1159.8,143.2 L1160.3,140.4 L1160.8,137.5 L1161.3,134.5 L1161.8,131.4 L1162.3,128.4 L1162.8,125.5 L1163.3,122.7 L1163.9,120.1 L1164.4,117.8 L1164.9,115.7 L1165.4,114.0 L1165.9,112.6 L1166.4,111.6 L1166.9,110.9 L1167.4,110.7 L1168.0,111.0 L1168.5,111.8 L1169.0,113.2 L1169.5,115.0 L1170.0,117.3 L1170.5,119.9 L1171.1,122.8 L1171.6,125.8 L1172.1,129.0 L1172.6,132.2 L1173.1,135.3 L1173.6,138.2 L1174.2,140.8 L1174.7,143.0 L1175.2,144.9 L1175.7,146.2 L1176.2,147.0 L1176.7,147.3" stroke="#000" stroke-width="2.5"/>
<path d="M533.3,158.3 L533.9,158.3 L534.6,158.3 L535.4,158.4 L536.3,158.4 L537.3,158.4 L538.4,158.5 L539.6,158.5 L540.8,158.6 L542.0,158.6 L543.2,158.6 L544.5,158.7 L545.7,158.7 L546.6,158.7 L547.6,158.7 L548.5,158.7 L549.6,158.6 L550.6,158.6 L551.7,158.6 L552.7,158.5 L553.8,158.5 L554.9,158.5 L556.0,158.5 L557.1,158.5 L558.1,158.5 L559.2,158.5 L560.2,158.5 L561.2,158.6 L562.2,158.7 L563.3,158.8 L564.4,159.0 L565.4,159.1 L566.5,159.3 L567.5,159.5 L568.6,159.7 L569.6,160.0 L570.6,160.2 L571.6,160.5 L572.6,160.7 L573.6,161.0 L574.6,161.3 L575.6,161.5 L576.7,161.8 L577.7,162.1 L578.8,162.3 L579.8,162.6 L580.9,162.9 L581.9,163.3 L583.0,163.6 L584.0,163.9 L585.1,164.2 L586.1,164.6 L587.2,164.9 L588.2,165.1 L589.2,165.4 L590.2,165.7 L591.1,165.9 L592.2,166.2 L593.3,166.4 L594.4,166.6 L595.4,166.9 L596.5,167.1 L597.5,167.2 L598.5,167.4 L599.5,167.6 L600.5,167.7 L601.5,167.8 L602.5,167.9 L603.5,168.0 L604.6,168.0 L605.6,168.1 L606.6,168.1 L607.7,168.1 L608.7,168.1 L609.7,168.0 L610.8,168.0 L611.8,167.9 L612.8,167.8 L613.9,167.7 L614.9,167.5 L615.9,167.4 L617.0,167.2 L618.0,167.0 L619.0,166.8 L620.1,166.5 L621.1,166.3 L622.1,166.0 L623.2,165.7 L624.2,165.4 L625.2,165.1 L626.3,164.7 L627.3,164.3 L628.3,163.9 L629.4,163.4 L630.4,162.8 L631.4,162.3 L632.5,161.7 L633.5,161.0 L634.5,160.4 L635.6,159.7 L636.6,159.1 L637.6,158.4 L638.7,157.8 L639.7,157.2 L640.8,156.6 L641.8,156.1 L642.8,155.5 L643.9,155.0 L644.9,154.5 L645.9,154.0 L647.0,153.5 L648.0,152.9 L649.0,152.4 L650.1,151.9 L651.1,151.4 L652.1,150.9 L653.2,150.4 L654.2,149.9 L655.2,149.4 L656.3,148.9 L657.3,148.4 L658.3,147.9 L659.4,147.4 L660.4,146.9 L661.4,146.4 L662.5,145.8 L663.5,145.3 L664.5,144.8 L665.6,144.2 L666.6,143.6 L667.6,143.0 L668.7,142.4 L669.8,141.7 L670.8,141.1 L671.9,140.4 L672.9,139.8 L674.0,139.1 L675.0,138.5 L676.0,138.0 L677.0,137.4 L678.0,137.0 L679.1,136.5 L680.2,136.1 L681.2,135.7 L682.2,135.3 L683.3,135.0 L684.3,134.7 L685.3,134.5 L686.3,134.3 L687.3,134.1 L688.3,133.9 L689.3,133.7 L690.3,133.6 L691.3,133.5 L692.3,133.5 L693.3,133.4 L694.3,133.4 L695.4,133.4 L696.4,133.4 L697.5,133.4 L698.6,133.5 L699.6,133.5 L700.6,133.5 L701.6,133.6 L702.6,133.7 L703.6,133.7 L704.7,133.8 L705.8,133.9 L706.8,134.0 L707.9,134.1 L708.9,134.2 L710.0,134.2 L711.0,134.3 L712.1,134.4 L713.1,134.4 L714.2,134.5 L715.2,134.6 L716.3,134.7 L717.4,134.8 L718.4,134.9 L719.4,134.9 L720.5,135.0 L721.5,135.0 L722.5,135.0 L723.4,134.9 L724.5,134.8 L725.6,134.7 L726.7,134.5 L727.7,134.3 L728.7,134.0 L729.7,133.8 L730.7,133.5 L731.7,133.3 L732.7,133.0 L733.8,132.8 L734.8,132.7 L735.8,132.5 L736.9,132.3 L737.9,132.1 L738.9,132.0 L740.0,131.8 L741.0,131.7 L742.0,131.6 L743.1,131.5 L744.1,131.4 L745.1,131.4 L746.2,131.3 L747.2,131.3 L748.2,131.3 L749.3,131.4 L750.3,131.4 L751.3,131.5 L752.4,131.6 L753.4,131.7 L754.4,131.8 L755.5,132.0 L756.5,132.2 L757.5,132.4 L758.5,132.7 L759.5,133.0 L760.5,133.3 L761.5,133.5 L762.6,133.8 L763.7,134.1 L764.8,134.3 L765.7,134.5 L766.7,134.6 L767.7,134.8 L768.7,134.9 L769.8,135.0 L770.8,135.2 L771.9,135.3 L773.0,135.4 L774.0,135.6 L775.1,135.7 L776.1,135.8 L777.2,135.9 L778.2,136.1 L779.2,136.3 L780.3,136.4 L781.3,136.6 L782.3,136.8 L783.4,137.0 L784.4,137.1 L785.4,137.3 L786.5,137.4 L787.5,137.5 L788.5,137.6 L789.6,137.6 L790.6,137.6 L791.6,137.6 L792.7,137.5 L793.7,137.4 L794.7,137.3 L795.8,137.2 L796.8,137.0 L797.8,136.9 L798.9,136.8 L799.9,136.6 L800.9,136.5 L802.0,136.4 L803.0,136.2 L804.0,136.1 L805.1,136.0 L806.1,135.9 L807.1,135.7 L808.2,135.6 L809.2,135.5 L810.2,135.3 L811.3,135.2 L812.3,135.1 L813.3,135.0 L814.4,134.9 L815.4,134.8 L816.4,134.7 L817.5,134.6 L818.5,134.5 L819.5,134.4 L820.6,134.3 L821.6,134.3 L822.6,134.2 L823.7,134.2 L824.7,134.2 L825.7,134.2 L826.8,134.3 L827.8,134.4 L828.9,134.6 L830.0,134.7 L831.2,135.0 L832.3,135.2 L833.4,135.5 L834.5,135.7 L835.5,136.0 L836.5,136.3 L837.5,136.5 L838.4,136.8 L839.2,137.0 L840.7,137.4 L841.7,137.7 L842.5,138.0 L843.5,138.4 L845.0,139.0 L845.8,139.4 L846.7,139.7 L847.6,140.1 L848.6,140.5 L849.6,141.0 L850.7,141.4 L851.8,141.9 L852.9,142.4 L854.0,142.9 L855.1,143.3 L856.3,143.8 L857.4,144.2 L858.4,144.6 L859.4,144.9 L860.4,145.2 L861.4,145.5 L862.4,145.8 L863.5,146.2 L864.5,146.5 L865.6,146.8 L866.6,147.2 L867.7,147.5 L868.7,147.9 L869.8,148.4 L870.8,148.9 L871.9,149.4 L872.9,150.0 L874.0,150.6 L875.0,151.3 L876.1,152.0 L877.1,152.8 L878.2,153.6 L879.2,154.4 L880.3,155.2 L881.3,156.0 L882.4,156.8 L883.4,157.5 L884.4,158.3 L885.4,159.0 L886.3,159.7 L887.4,160.5 L888.5,161.3 L889.6,162.1 L890.6,162.8 L891.7,163.6 L892.7,164.3 L893.7,165.0 L894.7,165.7 L895.7,166.3 L896.7,166.9 L897.7,167.5 L898.7,168.0 L899.8,168.4 L900.8,168.8 L901.8,169.2 L902.9,169.5 L903.9,169.8 L904.9,170.1 L906.0,170.3 L907.0,170.5 L908.0,170.6 L909.1,170.8 L910.1,171.0 L911.1,171.1 L912.2,171.2 L913.2,171.3 L914.2,171.3 L915.3,171.4 L916.3,171.4 L917.3,171.3 L918.4,171.3 L919.4,171.3 L920.4,171.2 L921.5,171.2 L922.5,171.1 L923.5,171.1 L924.6,171.0 L925.6,171.0 L926.6,170.9 L927.7,170.9 L928.7,170.8 L929.7,170.8 L930.8,170.7 L931.8,170.6 L932.8,170.5 L933.9,170.4 L934.9,170.2 L935.9,170.1 L937.0,169.9 L938.0,169.7 L939.0,169.4 L940.1,169.2 L941.1,168.9 L942.1,168.7 L943.2,168.4 L944.2,168.1 L945.2,167.8 L946.3,167.5 L947.3,167.2 L948.3,167.0 L949.4,166.6 L950.5,166.3 L951.5,166.0 L952.6,165.6 L953.7,165.2 L954.8,164.9 L955.9,164.5 L956.9,164.2 L957.9,163.9 L958.9,163.6 L959.9,163.4 L960.8,163.2 L962.0,163.1 L963.1,163.0 L964.1,163.0 L965.0,163.0 L965.9,163.2 L966.9,163.3 L967.9,163.6 L969.0,163.9 L970.0,164.1 L970.9,164.5 L971.9,164.8 L972.9,165.3 L973.9,165.7 L975.0,166.2 L976.0,166.6 L977.1,167.1 L978.2,167.6 L979.4,168.0 L980.3,168.3 L981.3,168.7 L982.4,169.1 L983.4,169.5 L984.5,169.9 L985.6,170.3 L986.6,170.7 L987.7,171.1 L988.8,171.4 L989.8,171.7 L990.8,171.9 L991.8,172.1 L992.9,172.3 L994.0,172.3 L995.0,172.4 L996.0,172.4 L997.1,172.3 L998.1,172.2 L999.1,172.0 L1000.1,171.9 L1001.1,171.7 L1002.1,171.5 L1003.1,171.3 L1004.2,171.0 L1005.2,170.8 L1006.2,170.5 L1007.3,170.2 L1008.3,169.8 L1009.3,169.4 L1010.4,169.0 L1011.4,168.5 L1012.4,168.0 L1013.5,167.4 L1014.5,166.7 L1015.6,166.0 L1016.6,165.2 L1017.7,164.4 L1018.7,163.6 L1019.7,162.8 L1020.8,162.0 L1021.8,161.3 L1022.8,160.8 L1023.8,160.2 L1024.9,159.6 L1025.9,159.1 L1027.0,158.6 L1028.0,158.2 L1029.0,157.8 L1030.0,157.5 L1031.0,157.2 L1032.1,157.0 L1033.1,156.9 L1034.1,156.9 L1035.1,157.0 L1036.1,157.1 L1037.2,157.3 L1038.2,157.5 L1039.2,157.7 L1040.3,158.0 L1041.4,158.3 L1042.4,158.5 L1043.4,158.8 L1044.4,159.2 L1045.4,159.6 L1046.5,159.9 L1047.5,160.3 L1048.6,160.7 L1049.6,161.1 L1050.7,161.5 L1051.7,161.8 L1052.7,162.1 L1053.8,162.4 L1054.8,162.7 L1055.8,163.0 L1056.9,163.3 L1057.9,163.6 L1058.9,163.9 L1060.0,164.1 L1061.0,164.3 L1062.0,164.5 L1063.1,164.6 L1064.1,164.7 L1065.1,164.8 L1066.2,164.8 L1067.2,164.8 L1068.2,164.8 L1069.3,164.8 L1070.3,164.7 L1071.3,164.6 L1072.4,164.5 L1073.4,164.3 L1074.4,164.2 L1075.5,164.0 L1076.5,163.8 L1077.5,163.5 L1078.6,163.2 L1079.6,162.9 L1080.6,162.6 L1081.7,162.2 L1082.7,161.8 L1083.7,161.3 L1084.7,160.8 L1085.7,160.3 L1086.7,159.7 L1087.7,159.1 L1088.8,158.5 L1089.8,157.8 L1090.8,157.1 L1091.9,156.3 L1093.0,155.6 L1094.0,154.9 L1095.0,154.2 L1096.0,153.5 L1097.0,152.7 L1098.1,151.9 L1099.1,151.1 L1100.2,150.2 L1101.2,149.4 L1102.3,148.6 L1103.3,147.8 L1104.4,147.0 L1105.4,146.3 L1106.5,145.6 L1107.5,144.9 L1108.5,144.2 L1109.6,143.5 L1110.6,142.9 L1111.6,142.2 L1112.7,141.6 L1113.7,140.9 L1114.7,140.2 L1115.8,139.5 L1116.8,138.8 L1117.8,138.0 L1118.9,137.2 L1119.9,136.4 L1121.0,135.5 L1122.1,134.5 L1123.1,133.6 L1124.2,132.7 L1125.2,131.7 L1126.3,130.8 L1127.3,129.9 L1128.3,129.1 L1129.3,128.4 L1130.2,127.7 L1131.4,126.9 L1132.4,126.3 L1133.5,125.7 L1134.5,125.1 L1135.5,124.6 L1136.5,124.2 L1137.5,123.7 L1138.5,123.3 L1139.6,122.9 L1140.6,122.5 L1141.6,122.1 L1142.6,121.8 L1143.6,121.5 L1144.6,121.2 L1145.6,120.9 L1146.6,120.7 L1147.7,120.4 L1148.7,120.2 L1149.8,120.0 L1150.9,119.8 L1151.9,119.7 L1152.8,119.5 L1153.8,119.4 L1154.9,119.3 L1155.9,119.2 L1156.9,119.1 L1158.0,119.0 L1159.0,119.0 L1160.1,118.9 L1161.2,118.9 L1162.2,118.8 L1163.3,118.8 L1164.3,118.8 L1165.5,118.8 L1166.6,118.8 L1167.8,118.8 L1169.0,118.8 L1170.2,118.8 L1171.4,118.8 L1172.5,118.9 L1173.6,118.9 L1174.5,118.9 L1175.4,119.0 L1176.2,119.0 L1176.7,119.0" stroke="#ff0000" stroke-width="2.5"/>
<path d="M533.3,157.6 L533.9,157.6 L534.6,157.6 L535.4,157.6 L536.3,157.6 L537.3,157.5 L538.4,157.5 L539.6,157.5 L540.8,157.5 L542.0,157.5 L543.2,157.5 L544.5,157.6 L545.7,157.6 L546.6,157.7 L547.5,157.8 L548.5,157.9 L549.5,158.0 L550.5,158.1 L551.6,158.3 L552.6,158.4 L553.7,158.6 L554.7,158.7 L555.8,158.9 L556.9,159.0 L558.0,159.2 L559.0,159.3 L560.1,159.4 L561.2,159.6 L562.2,159.7 L563.2,159.8 L564.3,160.0 L565.3,160.1 L566.4,160.2 L567.4,160.3 L568.5,160.5 L569.6,160.6 L570.6,160.7 L571.6,160.8 L572.7,161.0 L573.7,161.1 L574.8,161.2 L575.8,161.4 L576.8,161.5 L577.8,161.6 L578.7,161.8 L579.8,162.0 L580.9,162.1 L582.0,162.3 L583.0,162.5 L584.1,162.7 L585.1,162.9 L586.1,163.1 L587.1,163.3 L588.1,163.5 L589.1,163.7 L590.1,163.9 L591.2,164.1 L592.2,164.3 L593.2,164.5 L594.2,164.7 L595.3,164.9 L596.3,165.1 L597.4,165.4 L598.5,165.6 L599.5,165.9 L600.6,166.1 L601.6,166.3 L602.7,166.6 L603.7,166.8 L604.7,167.0 L605.7,167.1 L606.7,167.3 L607.7,167.4 L608.8,167.5 L609.9,167.6 L610.9,167.6 L612.0,167.7 L613.0,167.7 L614.0,167.7 L615.0,167.7 L616.0,167.6 L617.0,167.5 L618.0,167.4 L619.1,167.2 L620.1,167.0 L621.1,166.6 L622.1,166.3 L623.2,165.8 L624.2,165.4 L625.2,164.8 L626.3,164.3 L627.3,163.7 L628.3,163.1 L629.4,162.5 L630.4,161.9 L631.4,161.3 L632.5,160.8 L633.5,160.2 L634.5,159.6 L635.6,159.0 L636.6,158.3 L637.6,157.7 L638.7,157.1 L639.7,156.4 L640.8,155.8 L641.8,155.2 L642.8,154.6 L643.9,154.0 L644.9,153.5 L645.9,153.0 L647.0,152.6 L648.0,152.1 L649.0,151.7 L650.1,151.3 L651.1,150.9 L652.1,150.5 L653.2,150.1 L654.2,149.7 L655.2,149.3 L656.3,148.8 L657.3,148.3 L658.3,147.8 L659.4,147.3 L660.4,146.7 L661.4,146.2 L662.5,145.6 L663.5,145.0 L664.5,144.4 L665.6,143.8 L666.6,143.1 L667.6,142.5 L668.7,141.8 L669.7,141.1 L670.7,140.4 L671.8,139.6 L672.8,138.8 L673.9,137.9 L675.0,137.0 L676.0,136.2 L677.1,135.3 L678.1,134.5 L679.1,133.7 L680.1,133.0 L681.1,132.4 L682.1,131.8 L683.2,131.3 L684.3,130.8 L685.3,130.5 L686.3,130.2 L687.3,130.0 L688.2,129.8 L689.2,129.6 L690.3,129.5 L691.3,129.4 L692.4,129.3 L693.4,129.3 L694.4,129.2 L695.4,129.2 L696.4,129.3 L697.4,129.3 L698.5,129.4 L699.6,129.4 L700.6,129.5 L701.7,129.6 L702.7,129.6 L703.8,129.7 L704.8,129.7 L705.9,129.8 L706.9,129.8 L707.9,129.8 L709.0,129.9 L710.0,129.9 L711.0,129.9 L712.1,130.0 L713.1,130.0 L714.1,130.0 L715.2,130.1 L716.2,130.1 L717.2,130.2 L718.3,130.2 L719.3,130.2 L720.3,130.3 L721.4,130.3 L722.4,130.3 L723.4,130.4 L724.5,130.4 L725.5,130.5 L726.5,130.5 L727.6,130.6 L728.6,130.7 L729.6,130.8 L730.7,130.9 L731.7,131.0 L732.7,131.2 L733.8,131.3 L734.8,131.5 L735.8,131.7 L736.9,131.8 L737.9,132.0 L738.9,132.2 L740.0,132.4 L741.0,132.6 L742.0,132.8 L743.1,133.1 L744.1,133.3 L745.1,133.6 L746.2,133.9 L747.2,134.2 L748.2,134.5 L749.3,134.8 L750.3,135.1 L751.3,135.4 L752.4,135.6 L753.4,135.8 L754.4,135.9 L755.5,136.1 L756.5,136.2 L757.5,136.2 L758.6,136.3 L759.6,136.3 L760.6,136.3 L761.7,136.3 L762.7,136.2 L763.7,136.2 L764.8,136.1 L765.8,136.0 L766.8,135.9 L767.9,135.8 L768.9,135.7 L769.9,135.5 L771.0,135.3 L772.0,135.2 L773.0,134.9 L774.1,134.7 L775.1,134.5 L776.1,134.2 L777.2,134.0 L778.2,133.7 L779.2,133.5 L780.3,133.2 L781.3,132.9 L782.3,132.6 L783.4,132.2 L784.4,131.9 L785.4,131.5 L786.5,131.2 L787.5,130.9 L788.5,130.5 L789.6,130.2 L790.6,130.0 L791.6,129.7 L792.7,129.5 L793.7,129.4 L794.7,129.2 L795.8,129.0 L796.8,128.9 L797.8,128.8 L798.9,128.7 L799.9,128.6 L800.9,128.5 L802.0,128.4 L803.0,128.3 L804.0,128.3 L805.1,128.3 L806.1,128.2 L807.1,128.2 L808.2,128.3 L809.2,128.3 L810.2,128.3 L811.3,128.4 L812.3,128.4 L813.3,128.5 L814.4,128.6 L815.4,128.6 L816.4,128.7 L817.5,128.8 L818.5,128.9 L819.5,128.9 L820.6,129.0 L821.6,129.1 L822.6,129.2 L823.7,129.3 L824.7,129.5 L825.7,129.6 L826.8,129.8 L827.8,130.0 L828.8,130.2 L829.9,130.4 L831.0,130.7 L832.1,131.0 L833.3,131.3 L834.4,131.6 L835.6,132.0 L836.7,132.3 L837.8,132.7 L838.8,133.0 L839.7,133.3 L840.5,133.6 L841.2,133.9 L842.8,134.5 L843.4,135.0 L845.0,135.9 L845.7,136.3 L846.5,136.7 L847.4,137.2 L848.3,137.7 L849.3,138.3 L850.4,138.8 L851.5,139.4 L852.6,140.0 L853.8,140.5 L855.0,141.1 L856.2,141.6 L857.4,142.1 L858.3,142.5 L859.3,142.9 L860.3,143.2 L861.3,143.6 L862.4,143.9 L863.5,144.2 L864.6,144.6 L865.7,144.9 L866.8,145.2 L867.9,145.6 L868.9,145.9 L870.0,146.3 L871.0,146.7 L872.0,147.1 L873.0,147.5 L873.9,147.9 L875.1,148.6 L876.2,149.2 L877.3,149.9 L878.4,150.6 L879.4,151.4 L880.4,152.1 L881.4,152.9 L882.4,153.6 L883.3,154.4 L884.3,155.2 L885.3,155.9 L886.3,156.6 L887.4,157.3 L888.4,158.1 L889.4,158.8 L890.5,159.6 L891.5,160.3 L892.5,161.1 L893.6,161.8 L894.6,162.5 L895.6,163.2 L896.7,163.8 L897.7,164.4 L898.7,164.9 L899.8,165.4 L900.8,165.8 L901.8,166.2 L902.9,166.5 L903.9,166.9 L904.9,167.1 L906.0,167.4 L907.0,167.6 L908.0,167.9 L909.1,168.1 L910.1,168.2 L911.1,168.4 L912.2,168.5 L913.2,168.6 L914.2,168.7 L915.3,168.7 L916.3,168.7 L917.3,168.7 L918.4,168.6 L919.4,168.6 L920.4,168.6 L921.5,168.6 L922.5,168.6 L923.5,168.6 L924.6,168.7 L925.6,168.7 L926.6,168.8 L927.7,168.9 L928.7,169.0 L929.7,169.0 L930.8,169.1 L931.8,169.2 L932.8,169.3 L933.9,169.4 L934.9,169.5 L935.9,169.6 L937.0,169.8 L938.0,169.9 L939.0,170.1 L940.1,170.2 L941.1,170.4 L942.1,170.6 L943.2,170.7 L944.2,170.8 L945.2,171.0 L946.3,171.0 L947.3,171.1 L948.3,171.1 L949.4,171.0 L950.4,170.9 L951.4,170.8 L952.5,170.7 L953.5,170.5 L954.5,170.3 L955.6,170.1 L956.6,169.8 L957.6,169.6 L958.7,169.4 L959.7,169.2 L960.8,169.0 L961.8,168.8 L962.8,168.6 L963.9,168.4 L964.9,168.2 L965.9,167.9 L967.0,167.7 L968.0,167.5 L969.0,167.3 L970.1,167.2 L971.1,167.1 L972.1,167.0 L973.2,167.0 L974.2,167.0 L975.2,167.0 L976.3,167.1 L977.3,167.3 L978.3,167.4 L979.4,167.6 L980.4,167.8 L981.4,168.0 L982.5,168.3 L983.5,168.5 L984.5,168.8 L985.6,169.0 L986.6,169.3 L987.6,169.6 L988.7,170.0 L989.8,170.4 L990.8,170.8 L991.9,171.2 L992.9,171.6 L994.0,172.0 L995.0,172.3 L996.0,172.7 L997.0,172.9 L998.0,173.2 L999.1,173.4 L1000.2,173.5 L1001.2,173.7 L1002.2,173.8 L1003.3,173.8 L1004.3,173.9 L1005.3,173.8 L1006.3,173.8 L1007.3,173.7 L1008.3,173.6 L1009.3,173.4 L1010.4,173.2 L1011.4,172.9 L1012.4,172.7 L1013.5,172.4 L1014.5,172.0 L1015.5,171.6 L1016.6,171.1 L1017.6,170.6 L1018.6,170.1 L1019.7,169.4 L1020.7,168.7 L1021.7,167.9 L1022.8,167.0 L1023.8,166.2 L1024.8,165.2 L1025.9,164.3 L1026.9,163.4 L1027.9,162.6 L1029.0,161.8 L1030.0,161.0 L1031.0,160.2 L1032.1,159.4 L1033.1,158.6 L1034.2,157.8 L1035.2,157.0 L1036.3,156.3 L1037.3,155.6 L1038.3,155.1 L1039.3,154.5 L1040.4,154.1 L1041.4,153.7 L1042.5,153.3 L1043.5,153.0 L1044.5,152.8 L1045.5,152.7 L1046.5,152.6 L1047.6,152.5 L1048.6,152.5 L1049.6,152.5 L1050.6,152.6 L1051.7,152.8 L1052.7,153.0 L1053.7,153.3 L1054.7,153.6 L1055.8,153.9 L1056.8,154.2 L1057.9,154.5 L1058.9,154.9 L1059.9,155.3 L1060.9,155.8 L1062.0,156.2 L1063.0,156.7 L1064.0,157.2 L1065.1,157.7 L1066.1,158.1 L1067.2,158.4 L1068.2,158.7 L1069.3,158.9 L1070.3,159.1 L1071.3,159.2 L1072.4,159.4 L1073.4,159.4 L1074.4,159.5 L1075.5,159.5 L1076.5,159.4 L1077.5,159.3 L1078.6,159.1 L1079.6,158.9 L1080.6,158.5 L1081.6,158.2 L1082.6,157.8 L1083.6,157.3 L1084.6,156.8 L1085.7,156.3 L1086.7,155.7 L1087.8,155.1 L1088.9,154.5 L1089.9,154.0 L1090.8,153.5 L1091.9,153.0 L1092.9,152.4 L1093.9,151.8 L1095.0,151.2 L1096.0,150.5 L1097.1,149.9 L1098.2,149.3 L1099.2,148.6 L1100.3,148.0 L1101.3,147.3 L1102.3,146.7 L1103.4,146.0 L1104.4,145.4 L1105.4,144.7 L1106.5,144.0 L1107.5,143.4 L1108.5,142.7 L1109.6,142.0 L1110.6,141.3 L1111.6,140.6 L1112.7,139.8 L1113.7,139.0 L1114.7,138.2 L1115.8,137.4 L1116.8,136.5 L1117.8,135.6 L1118.9,134.7 L1119.9,133.8 L1120.9,132.9 L1122.0,132.0 L1123.0,131.1 L1124.0,130.3 L1125.1,129.5 L1126.1,128.7 L1127.1,128.0 L1128.2,127.3 L1129.2,126.6 L1130.2,125.9 L1131.3,125.3 L1132.3,124.6 L1133.3,124.0 L1134.4,123.5 L1135.4,122.9 L1136.4,122.4 L1137.5,121.9 L1138.5,121.5 L1139.5,121.1 L1140.6,120.7 L1141.6,120.3 L1142.6,120.0 L1143.7,119.7 L1144.7,119.4 L1145.7,119.2 L1146.8,119.0 L1147.8,118.8 L1148.8,118.6 L1149.9,118.5 L1150.9,118.4 L1151.9,118.3 L1153.0,118.3 L1154.0,118.2 L1155.0,118.3 L1156.0,118.3 L1157.0,118.4 L1158.1,118.5 L1159.1,118.6 L1160.1,118.8 L1161.2,119.0 L1162.2,119.2 L1163.3,119.4 L1164.3,119.7 L1165.5,120.0 L1166.6,120.4 L1167.8,120.9 L1169.0,121.3 L1170.2,121.8 L1171.4,122.3 L1172.5,122.8 L1173.6,123.2 L1174.5,123.7 L1175.4,124.0 L1176.2,124.3 L1176.7,124.6" stroke="#7e0c56" stroke-width="1.6"/>
<path d="M533.3,173.6 L533.9,173.2 L534.6,172.8 L535.5,172.3 L536.6,171.7 L537.7,171.1 L538.8,170.5 L540.0,169.8 L541.2,169.2 L542.4,168.6 L543.6,168.0 L544.7,167.4 L545.7,167.0 L546.8,166.4 L547.9,166.0 L548.9,165.5 L550.0,165.1 L551.0,164.7 L552.0,164.3 L553.0,164.0 L554.0,163.7 L555.0,163.4 L556.0,163.2 L557.0,163.1 L558.0,162.9 L559.0,162.8 L560.0,162.8 L561.0,162.8 L562.1,162.8 L563.1,162.8 L564.1,162.9 L565.2,163.1 L566.3,163.2 L567.3,163.4 L568.3,163.7 L569.3,163.9 L570.4,164.3 L571.5,164.6 L572.5,165.0 L573.6,165.4 L574.7,165.7 L575.7,166.1 L576.8,166.4 L577.8,166.7 L578.7,167.0 L579.8,167.2 L580.9,167.5 L581.9,167.7 L582.9,168.0 L583.9,168.2 L584.9,168.4 L585.9,168.5 L586.9,168.6 L588.0,168.6 L589.1,168.6 L590.0,168.5 L591.0,168.4 L592.0,168.2 L593.1,168.0 L594.1,167.8 L595.1,167.6 L596.2,167.3 L597.3,167.0 L598.3,166.7 L599.4,166.4 L600.4,166.2 L601.5,165.9 L602.5,165.7 L603.5,165.4 L604.5,165.1 L605.5,164.9 L606.5,164.6 L607.5,164.3 L608.6,164.0 L609.6,163.8 L610.6,163.5 L611.7,163.3 L612.8,163.0 L613.9,162.8 L614.9,162.7 L615.9,162.5 L616.9,162.4 L617.9,162.4 L619.0,162.3 L620.0,162.2 L621.1,162.1 L622.2,162.1 L623.2,162.0 L624.3,161.9 L625.3,161.8 L626.4,161.6 L627.4,161.4 L628.3,161.2 L629.5,160.8 L630.5,160.5 L631.6,160.0 L632.6,159.6 L633.7,159.1 L634.7,158.6 L635.7,158.1 L636.7,157.6 L637.7,157.0 L638.7,156.5 L639.7,156.0 L640.8,155.6 L641.8,155.1 L642.8,154.7 L643.9,154.3 L644.9,153.8 L645.9,153.4 L647.0,153.0 L648.0,152.5 L649.0,152.1 L650.1,151.7 L651.1,151.3 L652.1,150.8 L653.2,150.4 L654.2,150.0 L655.2,149.6 L656.3,149.2 L657.3,148.8 L658.3,148.4 L659.4,148.0 L660.4,147.5 L661.4,147.1 L662.5,146.7 L663.5,146.2 L664.5,145.8 L665.6,145.2 L666.6,144.7 L667.6,144.1 L668.7,143.5 L669.7,142.9 L670.7,142.2 L671.8,141.5 L672.8,140.9 L673.8,140.2 L674.9,139.6 L675.9,139.0 L676.9,138.5 L678.0,138.0 L679.0,137.6 L680.0,137.1 L681.1,136.7 L682.2,136.4 L683.2,136.0 L684.3,135.7 L685.3,135.4 L686.4,135.1 L687.4,134.8 L688.4,134.6 L689.4,134.4 L690.4,134.3 L691.5,134.2 L692.5,134.1 L693.5,134.1 L694.5,134.1 L695.5,134.2 L696.5,134.2 L697.5,134.4 L698.5,134.5 L699.6,134.7 L700.7,134.9 L701.7,135.1 L702.6,135.3 L703.6,135.6 L704.7,135.9 L705.7,136.2 L706.8,136.5 L707.8,136.8 L708.9,137.1 L709.9,137.5 L711.0,137.8 L712.1,138.1 L713.1,138.4 L714.1,138.7 L715.2,139.1 L716.2,139.4 L717.3,139.7 L718.4,140.1 L719.4,140.4 L720.5,140.7 L721.5,141.1 L722.5,141.4 L723.5,141.6 L724.5,141.9 L725.5,142.1 L726.6,142.4 L727.7,142.7 L728.7,142.9 L729.8,143.1 L730.8,143.3 L731.8,143.5 L732.8,143.6 L733.8,143.7 L734.8,143.8 L735.8,143.8 L736.9,143.8 L737.9,143.7 L738.9,143.6 L739.9,143.5 L740.9,143.3 L741.9,143.1 L742.9,142.9 L744.0,142.7 L745.0,142.4 L746.2,142.1 L747.1,141.9 L748.1,141.6 L749.1,141.2 L750.1,140.9 L751.2,140.5 L752.2,140.1 L753.3,139.7 L754.4,139.4 L755.4,139.0 L756.5,138.6 L757.5,138.3 L758.6,138.0 L759.6,137.7 L760.6,137.5 L761.7,137.2 L762.7,136.9 L763.7,136.7 L764.8,136.5 L765.8,136.2 L766.8,136.1 L767.9,135.9 L768.9,135.7 L769.9,135.6 L771.0,135.5 L772.0,135.5 L773.0,135.5 L774.1,135.5 L775.1,135.5 L776.1,135.5 L777.2,135.6 L778.2,135.7 L779.2,135.8 L780.3,135.9 L781.3,136.1 L782.3,136.2 L783.4,136.4 L784.4,136.5 L785.4,136.7 L786.5,136.9 L787.5,137.1 L788.5,137.3 L789.6,137.5 L790.6,137.7 L791.6,138.0 L792.7,138.2 L793.7,138.5 L794.7,138.8 L795.8,139.0 L796.8,139.3 L797.8,139.7 L798.9,140.0 L799.9,140.3 L800.9,140.7 L802.0,141.0 L803.0,141.4 L804.0,141.7 L805.1,142.1 L806.1,142.5 L807.1,142.8 L808.2,143.2 L809.2,143.5 L810.2,143.9 L811.3,144.2 L812.3,144.6 L813.3,145.0 L814.4,145.3 L815.4,145.7 L816.4,146.0 L817.5,146.4 L818.5,146.7 L819.5,147.0 L820.6,147.3 L821.6,147.6 L822.7,147.9 L823.7,148.2 L824.8,148.5 L825.8,148.8 L826.9,149.1 L827.9,149.4 L828.9,149.6 L830.0,149.9 L831.0,150.1 L832.0,150.3 L833.0,150.4 L834.0,150.5 L835.0,150.6 L836.0,150.5 L837.0,150.5 L837.9,150.4 L838.9,150.4 L839.8,150.3 L840.8,150.3 L841.9,150.4 L843.0,150.6 L844.2,150.8 L845.1,151.1 L846.0,151.4 L847.0,151.8 L848.0,152.2 L849.0,152.6 L850.0,153.1 L851.1,153.6 L852.1,154.1 L853.2,154.6 L854.3,155.1 L855.3,155.7 L856.4,156.2 L857.4,156.7 L858.5,157.2 L859.5,157.6 L860.5,158.1 L861.6,158.6 L862.7,159.1 L863.7,159.6 L864.8,160.1 L865.8,160.6 L866.9,161.1 L867.9,161.6 L869.0,162.1 L870.0,162.5 L871.0,163.0 L872.0,163.5 L873.0,164.0 L873.9,164.5 L875.0,165.0 L876.1,165.6 L877.2,166.1 L878.2,166.7 L879.3,167.2 L880.3,167.8 L881.3,168.3 L882.3,168.8 L883.3,169.4 L884.3,169.9 L885.3,170.5 L886.3,171.1 L887.4,171.7 L888.4,172.3 L889.4,173.0 L890.5,173.6 L891.5,174.3 L892.5,174.9 L893.6,175.6 L894.6,176.2 L895.6,176.8 L896.7,177.4 L897.7,177.9 L898.7,178.3 L899.8,178.7 L900.8,179.1 L901.8,179.4 L902.9,179.8 L903.9,180.0 L904.9,180.3 L906.0,180.5 L907.0,180.7 L908.0,180.8 L909.1,180.9 L910.1,181.0 L911.1,181.0 L912.2,181.0 L913.2,180.9 L914.2,180.8 L915.3,180.6 L916.3,180.4 L917.3,180.2 L918.4,180.0 L919.4,179.7 L920.4,179.4 L921.5,179.0 L922.5,178.7 L923.5,178.3 L924.6,177.9 L925.6,177.5 L926.6,177.0 L927.7,176.4 L928.7,175.8 L929.7,175.3 L930.8,174.7 L931.8,174.1 L932.8,173.6 L933.9,173.0 L934.9,172.6 L935.9,172.1 L937.0,171.7 L938.0,171.3 L939.1,170.9 L940.2,170.6 L941.2,170.2 L942.3,169.9 L943.3,169.6 L944.4,169.4 L945.4,169.1 L946.4,168.9 L947.4,168.7 L948.3,168.6 L949.5,168.5 L950.5,168.4 L951.6,168.4 L952.6,168.5 L953.6,168.6 L954.6,168.7 L955.6,168.8 L956.6,169.0 L957.7,169.2 L958.7,169.4 L959.7,169.7 L960.8,170.0 L961.8,170.4 L962.8,170.7 L963.9,171.1 L964.9,171.6 L965.9,172.0 L967.0,172.4 L968.0,172.8 L969.0,173.2 L970.1,173.5 L971.1,173.9 L972.1,174.3 L973.2,174.7 L974.2,175.1 L975.2,175.4 L976.3,175.7 L977.3,176.0 L978.3,176.2 L979.4,176.3 L980.4,176.3 L981.4,176.2 L982.5,176.1 L983.5,175.9 L984.5,175.6 L985.6,175.4 L986.6,175.1 L987.6,174.8 L988.7,174.5 L989.7,174.2 L990.7,173.9 L991.8,173.5 L992.8,173.2 L993.8,172.8 L994.9,172.4 L995.9,172.0 L996.9,171.6 L998.0,171.3 L999.0,170.9 L1000.0,170.7 L1001.1,170.4 L1002.1,170.2 L1003.1,170.0 L1004.2,169.9 L1005.2,169.7 L1006.2,169.6 L1007.3,169.5 L1008.3,169.4 L1009.3,169.4 L1010.4,169.4 L1011.4,169.5 L1012.4,169.6 L1013.5,169.8 L1014.5,170.0 L1015.5,170.3 L1016.6,170.5 L1017.6,170.8 L1018.6,171.1 L1019.7,171.3 L1020.7,171.5 L1021.7,171.7 L1022.8,171.9 L1023.8,172.1 L1024.8,172.3 L1025.9,172.6 L1026.9,172.7 L1027.9,172.9 L1029.0,173.0 L1030.0,173.1 L1031.0,173.2 L1032.1,173.1 L1033.1,173.1 L1034.1,173.0 L1035.2,172.8 L1036.2,172.6 L1037.2,172.5 L1038.3,172.2 L1039.3,172.0 L1040.3,171.8 L1041.4,171.5 L1042.4,171.2 L1043.4,171.0 L1044.5,170.7 L1045.5,170.4 L1046.5,170.0 L1047.6,169.7 L1048.6,169.3 L1049.6,168.9 L1050.7,168.5 L1051.7,168.0 L1052.7,167.5 L1053.8,166.9 L1054.8,166.2 L1055.8,165.6 L1056.9,164.9 L1057.9,164.2 L1058.9,163.5 L1060.0,162.9 L1061.0,162.3 L1062.0,161.8 L1063.1,161.3 L1064.1,160.9 L1065.1,160.5 L1066.1,160.1 L1067.1,159.8 L1068.1,159.4 L1069.1,159.1 L1070.2,158.8 L1071.2,158.6 L1072.4,158.3 L1073.3,158.1 L1074.3,157.9 L1075.3,157.7 L1076.3,157.6 L1077.4,157.4 L1078.4,157.3 L1079.5,157.2 L1080.6,157.0 L1081.6,156.9 L1082.7,156.7 L1083.7,156.5 L1084.8,156.2 L1085.8,155.9 L1086.8,155.6 L1087.9,155.3 L1088.9,154.9 L1089.9,154.5 L1091.0,154.1 L1092.0,153.7 L1093.0,153.3 L1094.1,152.9 L1095.1,152.4 L1096.1,151.9 L1097.2,151.4 L1098.2,150.9 L1099.2,150.4 L1100.3,149.8 L1101.3,149.3 L1102.3,148.7 L1103.4,148.1 L1104.4,147.4 L1105.4,146.8 L1106.5,146.2 L1107.5,145.5 L1108.5,144.9 L1109.6,144.2 L1110.6,143.6 L1111.6,142.9 L1112.7,142.2 L1113.7,141.5 L1114.7,140.8 L1115.8,140.1 L1116.8,139.4 L1117.8,138.7 L1118.9,138.0 L1119.9,137.3 L1120.9,136.6 L1122.0,135.9 L1123.0,135.3 L1124.1,134.6 L1125.1,133.9 L1126.2,133.3 L1127.2,132.6 L1128.3,131.9 L1129.4,131.3 L1130.4,130.7 L1131.4,130.1 L1132.4,129.6 L1133.4,129.1 L1134.4,128.7 L1135.5,128.3 L1136.6,128.0 L1137.6,127.7 L1138.7,127.5 L1139.7,127.4 L1140.7,127.3 L1141.7,127.2 L1142.7,127.1 L1143.7,127.1 L1144.7,127.1 L1145.7,127.0 L1146.8,127.0 L1147.8,127.1 L1148.8,127.1 L1149.9,127.2 L1150.9,127.3 L1151.9,127.4 L1153.0,127.6 L1154.0,127.8 L1155.0,128.1 L1156.1,128.4 L1157.1,128.8 L1158.1,129.2 L1159.1,129.6 L1160.1,130.1 L1161.2,130.6 L1162.2,131.1 L1163.2,131.7 L1164.3,132.2 L1165.4,132.8 L1166.4,133.5 L1167.5,134.2 L1168.7,134.9 L1169.9,135.7 L1171.1,136.6 L1172.3,137.4 L1173.4,138.2 L1174.4,138.9 L1175.4,139.5 L1176.1,140.1 L1176.7,140.5" stroke="#86ff06" stroke-width="1.6"/>
</g>
<path d="M533.5,263.5 v-6.5 M533.5,54.5 v6.5 M694.2,263.5 v-6.5 M694.2,54.5 v6.5 M855.0,263.5 v-6.5 M855.0,54.5 v6.5 M1015.8,263.5 v-6.5 M1015.8,54.5 v6.5 M1176.5,263.5 v-6.5 M1176.5,54.5 v6.5 M533.5,54.5 h6.5 M1176.5,54.5 h-6.5 M533.5,159.0 h6.5 M1176.5,159.0 h-6.5 M533.5,263.5 h6.5 M1176.5,263.5 h-6.5" stroke="#262626" stroke-width="1" fill="none"/>
<rect x="533.5" y="54.5" width="643.0" height="209.0" fill="none" stroke="#262626" stroke-width="1"/>
<g font-family="Liberation Sans, sans-serif" font-size="41" fill="#262626">
<text x="533.5" y="315" text-anchor="middle">3.5</text>
<text x="694.2" y="315" text-anchor="middle">4</text>
<text x="855.0" y="315" text-anchor="middle">4.5</text>
<text x="1015.8" y="315" text-anchor="middle">5</text>
<text x="1176.5" y="315" text-anchor="middle">5.5</text>
<text x="521.6" y="69.7" text-anchor="end">0.5</text>
<text x="521.6" y="174.2" text-anchor="end">0</text>
<text x="521.6" y="278.7" text-anchor="end">-0.5</text>
</g>
<path d="M658.0,328.7 L733.2,207.3" stroke="#000" stroke-width="3.7" fill="none"/>
<path d="M739.7,196.8 L721.9,210.1 L732.4,208.6 L734.9,218.0 Z" fill="#000"/>
<rect x="1297.5" y="46.5" width="642.0" height="215.0" fill="#fff" stroke="#262626" stroke-width="1.2"/>
<g font-family="Liberation Serif, serif" font-size="46" fill="#000">
<path d="M1303.3,75.3 H1363" stroke="#000" stroke-width="2.3"/>
<text x="1367.3" y="85.5" textLength="51" lengthAdjust="spacingAndGlyphs">LS</text>
<text x="1504.0" y="90.9" font-family="DejaVu Sans, sans-serif" font-size="53" stroke="#fff" stroke-width="1.5" textLength="68" lengthAdjust="spacingAndGlyphs">⟹</text>
<text x="1587.8" y="85.5" textLength="306.5" lengthAdjust="spacingAndGlyphs">Sine wave signal</text>
<path d="M1303.3,127.7 H1363" stroke="#ff0000" stroke-width="2.3"/>
<text x="1367.3" y="137.9" textLength="116" lengthAdjust="spacingAndGlyphs">LSOD</text>
<text x="1498.5" y="143.3" font-family="DejaVu Sans, sans-serif" font-size="53" stroke="#fff" stroke-width="1.5" textLength="68" lengthAdjust="spacingAndGlyphs">⟹</text>
<text x="1582.5" y="137.9" textLength="306.5" lengthAdjust="spacingAndGlyphs">Sine wave signal</text>
<path d="M1303.3,179.7 H1363" stroke="#7e0c56" stroke-width="1.4"/>
<text x="1367.3" y="189.9" textLength="51" lengthAdjust="spacingAndGlyphs">LS</text>
<text x="1504.0" y="195.3" font-family="DejaVu Sans, sans-serif" font-size="53" stroke="#fff" stroke-width="1.5" textLength="68" lengthAdjust="spacingAndGlyphs">⟹</text>
<text x="1589.0" y="189.9" textLength="344.0" lengthAdjust="spacingAndGlyphs">White noise signal</text>
<path d="M1303.3,232.2 H1363" stroke="#86ff06" stroke-width="1.4"/>
<text x="1367.3" y="242.4" textLength="116" lengthAdjust="spacingAndGlyphs">LSOD</text>
<text x="1498.5" y="247.8" font-family="DejaVu Sans, sans-serif" font-size="53" stroke="#fff" stroke-width="1.5" textLength="68" lengthAdjust="spacingAndGlyphs">⟹</text>
<text x="1583.5" y="242.4" textLength="344.0" lengthAdjust="spacingAndGlyphs">White noise signal</text>
</g>
</svg>
</body></html>
